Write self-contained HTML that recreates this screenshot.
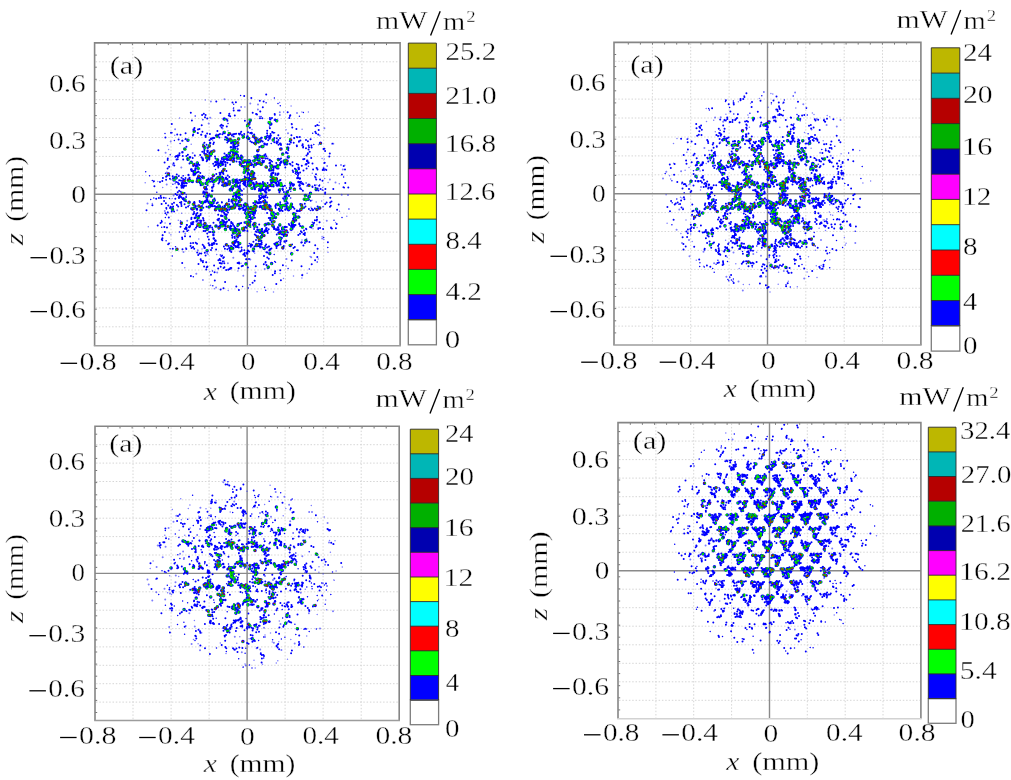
<!DOCTYPE html><html><head><meta charset="utf-8"><title>fig</title><style>html,body{margin:0;padding:0;background:#fff}body{width:1011px;height:780px;overflow:hidden}svg{display:block;will-change:transform}text{font-family:"Liberation Serif",serif;fill:#000;stroke:#fff;stroke-width:0.38px}</style></head><body>
<svg width="1011" height="780" viewBox="0 0 1011 780">
<rect width="1011" height="780" fill="#fff"/>
<path d="M132.8 43.9V344.7M171 43.9V344.7M209.2 43.9V344.7M285.5 43.9V344.7M323.7 43.9V344.7M361.9 43.9V344.7M95.6 326.8H399.1M95.6 307.9H399.1M95.6 288.9H399.1M95.6 270H399.1M95.6 251.1H399.1M95.6 232.1H399.1M95.6 213.2H399.1M95.6 175.4H399.1M95.6 156.4H399.1M95.6 137.5H399.1M95.6 118.6H399.1M95.6 99.7H399.1M95.6 80.7H399.1M95.6 61.8H399.1" stroke="#d6d6d6" stroke-width="1" stroke-dasharray="1.5 1.8" fill="none"/>
<path d="M247.4 42.9V345.7M94.6 194.3H400.1" stroke="#8a8a8a" stroke-width="1.4" fill="none"/>
<path d="M94.6 55.1h2.2M108.2 42.9v2.2M94.6 67.2h2.2M120.3 42.9v2.2M94.6 79.3h2.2M132.4 42.9v2.2M94.6 91.4h2.2M144.5 42.9v2.2M94.6 103.5h2.2M156.6 42.9v2.2M94.6 115.6h2.2M168.7 42.9v2.2M94.6 127.7h2.2M180.8 42.9v2.2M94.6 139.8h2.2M192.9 42.9v2.2M94.6 151.9h2.2M205 42.9v2.2M94.6 164h2.2M217.1 42.9v2.2M94.6 176.1h2.2M229.2 42.9v2.2M94.6 188.2h2.2M241.3 42.9v2.2M94.6 200.3h2.2M253.4 42.9v2.2M94.6 212.4h2.2M265.5 42.9v2.2M94.6 224.5h2.2M277.6 42.9v2.2M94.6 236.6h2.2M289.7 42.9v2.2M94.6 248.7h2.2M301.8 42.9v2.2M94.6 260.8h2.2M313.9 42.9v2.2M94.6 272.9h2.2M326 42.9v2.2M94.6 285h2.2M338.1 42.9v2.2M94.6 297.1h2.2M350.2 42.9v2.2M94.6 309.2h2.2M362.3 42.9v2.2M94.6 321.3h2.2M374.4 42.9v2.2M94.6 333.4h2.2M386.5 42.9v2.2" stroke="#777" stroke-width="1" fill="none"/>
<path d="M652.4 43.4V344M690.7 43.4V344M729.1 43.4V344M805.8 43.4V344M844.2 43.4V344M882.5 43.4V344M615 326.1H919.9M615 307.2H919.9M615 288.3H919.9M615 269.4H919.9M615 250.4H919.9M615 231.5H919.9M615 212.6H919.9M615 174.8H919.9M615 155.9H919.9M615 137H919.9M615 118H919.9M615 99.1H919.9M615 80.2H919.9M615 61.3H919.9" stroke="#d6d6d6" stroke-width="1" stroke-dasharray="1.5 1.8" fill="none"/>
<path d="M767.5 42.4V345M614 193.7H920.9" stroke="#8a8a8a" stroke-width="1.4" fill="none"/>
<path d="M614 54.5h2.2M628.3 42.4v2.2M614 66.6h2.2M640.4 42.4v2.2M614 78.7h2.2M652.5 42.4v2.2M614 90.8h2.2M664.6 42.4v2.2M614 102.9h2.2M676.7 42.4v2.2M614 115h2.2M688.8 42.4v2.2M614 127.1h2.2M700.9 42.4v2.2M614 139.2h2.2M713 42.4v2.2M614 151.3h2.2M725.1 42.4v2.2M614 163.4h2.2M737.2 42.4v2.2M614 175.5h2.2M749.3 42.4v2.2M614 187.6h2.2M761.4 42.4v2.2M614 199.8h2.2M773.5 42.4v2.2M614 211.8h2.2M785.6 42.4v2.2M614 223.9h2.2M797.7 42.4v2.2M614 236h2.2M809.8 42.4v2.2M614 248.1h2.2M821.9 42.4v2.2M614 260.2h2.2M834 42.4v2.2M614 272.3h2.2M846.1 42.4v2.2M614 284.4h2.2M858.2 42.4v2.2M614 296.5h2.2M870.3 42.4v2.2M614 308.6h2.2M882.4 42.4v2.2M614 320.8h2.2M894.5 42.4v2.2M614 332.9h2.2M906.6 42.4v2.2" stroke="#777" stroke-width="1" fill="none"/>
<path d="M133 427.3V719.5M171.1 427.3V719.5M209.1 427.3V719.5M285.1 427.3V719.5M323.1 427.3V719.5M361.2 427.3V719.5M96 702.1H398.2M96 683.7H398.2M96 665.3H398.2M96 646.9H398.2M96 628.6H398.2M96 610.2H398.2M96 591.8H398.2M96 555H398.2M96 536.6H398.2M96 518.2H398.2M96 499.8H398.2M96 481.5H398.2M96 463.1H398.2M96 444.7H398.2" stroke="#d6d6d6" stroke-width="1" stroke-dasharray="1.5 1.8" fill="none"/>
<path d="M247.1 426.3V720.5M95 573.4H399.2" stroke="#8a8a8a" stroke-width="1.4" fill="none"/>
<path d="M95 434.2h2.2M107.9 426.3v2.2M95 446.3h2.2M120 426.3v2.2M95 458.4h2.2M132.1 426.3v2.2M95 470.5h2.2M144.2 426.3v2.2M95 482.6h2.2M156.3 426.3v2.2M95 494.8h2.2M168.4 426.3v2.2M95 506.8h2.2M180.6 426.3v2.2M95 518.9h2.2M192.7 426.3v2.2M95 531h2.2M204.8 426.3v2.2M95 543.1h2.2M216.8 426.3v2.2M95 555.2h2.2M228.9 426.3v2.2M95 567.4h2.2M241 426.3v2.2M95 579.4h2.2M253.2 426.3v2.2M95 591.5h2.2M265.2 426.3v2.2M95 603.6h2.2M277.4 426.3v2.2M95 615.8h2.2M289.4 426.3v2.2M95 627.9h2.2M301.6 426.3v2.2M95 639.9h2.2M313.6 426.3v2.2M95 652h2.2M325.8 426.3v2.2M95 664.1h2.2M337.9 426.3v2.2M95 676.2h2.2M349.9 426.3v2.2M95 688.4h2.2M362.1 426.3v2.2M95 700.4h2.2M374.1 426.3v2.2M95 712.5h2.2M386.2 426.3v2.2" stroke="#777" stroke-width="1" fill="none"/>
<path d="M655.9 423.6V717.8M693.7 423.6V717.8M731.6 423.6V717.8M807.3 423.6V717.8M845.2 423.6V717.8M883 423.6V717.8M619 700.3H919.9M619 681.8H919.9M619 663.3H919.9M619 644.8H919.9M619 626.2H919.9M619 607.7H919.9M619 589.2H919.9M619 552.2H919.9M619 533.7H919.9M619 515.2H919.9M619 496.7H919.9M619 478.1H919.9M619 459.6H919.9M619 441.1H919.9" stroke="#d6d6d6" stroke-width="1" stroke-dasharray="1.5 1.8" fill="none"/>
<path d="M769.5 422.6V718.8M618 570.7H920.9" stroke="#8a8a8a" stroke-width="1.4" fill="none"/>
<path d="M618 431.6h2.2M630.3 422.6v2.2M618 443.7h2.2M642.4 422.6v2.2M618 455.8h2.2M654.5 422.6v2.2M618 467.9h2.2M666.6 422.6v2.2M618 480h2.2M678.7 422.6v2.2M618 492.1h2.2M690.8 422.6v2.2M618 504.2h2.2M702.9 422.6v2.2M618 516.2h2.2M715 422.6v2.2M618 528.4h2.2M727.1 422.6v2.2M618 540.5h2.2M739.2 422.6v2.2M618 552.6h2.2M751.3 422.6v2.2M618 564.7h2.2M763.4 422.6v2.2M618 576.8h2.2M775.5 422.6v2.2M618 588.9h2.2M787.6 422.6v2.2M618 601h2.2M799.7 422.6v2.2M618 613.1h2.2M811.8 422.6v2.2M618 625.2h2.2M823.9 422.6v2.2M618 637.2h2.2M836 422.6v2.2M618 649.4h2.2M848.1 422.6v2.2M618 661.5h2.2M860.2 422.6v2.2M618 673.6h2.2M872.3 422.6v2.2M618 685.7h2.2M884.4 422.6v2.2M618 697.8h2.2M896.5 422.6v2.2M618 709.9h2.2M908.6 422.6v2.2" stroke="#777" stroke-width="1" fill="none"/>
<path d="M162.7 187.4h0M152.3 203.5h0M312.3 173.3h0M308.4 112h0M339.5 211.3h0M145.2 182.7h0M216.7 254.6h0M237.9 270.9h0M290.2 138.5h0M157.8 181.6h0M228.2 290.4h0M293.5 275.9h0M254.7 253.2h0M302 240h0M179.6 118h0M198.8 238.9h0M307.1 273.3h0M228 130.8h0M202 249h0M316.2 202h0M225.1 133.6h0M216.4 134.3h0M316.8 185.1h0M205.3 100h0M167.6 145.5h0M316.9 224.8h0M167.8 212.1h0M241 263.2h0M335.6 222.6h0M172.2 198.5h0M244.9 107h0M317.1 168.2h0M168.6 149.4h0M305 164.7h0M302.1 129.2h0M191.2 144.2h0M322.7 187.4h0M184.8 267.7h0M257.1 291.8h0M247.5 125.9h0M209.8 271.6h0M324.7 178.4h0M273.5 292.1h0M208.1 254.4h0M310.1 256.5h0M283.6 112.1h0M170.9 234.7h0M178.5 175.5h0M328.1 182.4h0M252 129.5h0M346.8 216.2h0M259.4 116.5h0M344.8 165.2h0M212.6 140.5h0M323.9 239.6h0M328 252.2h0M301.9 112.1h0M210.6 285.2h0M178.3 220.3h0M291.1 105.9h0M306.6 238.4h0M181.6 213.3h0M301.9 278h0M339.3 183.7h0M169.3 233h0M279.6 102.4h0M286.1 129.7h0M286.1 265.9h0M283.5 278.6h0M319.4 122.3h0M280.1 273.6h0M165.1 223.1h0M260 111.2h0M313 228.7h0M285.6 243h0M185.1 139.4h0M322.1 158.5h0M318.2 258.9h0M311 207.3h0M318.5 144.8h0M233.3 108.7h0M324.3 158.9h0M214.3 288.8h0M312 200.2h0M182.6 176h0M322.1 236.4h0M321.6 201.1h0M170.8 179.5h0M148.3 226.7h0M323.3 190.6h0M153.4 182h0M174.7 135.3h0" stroke="#1010ff" stroke-width="1.5" stroke-linecap="round" stroke-opacity="0.55"/>
<path d="M348.9 208.9h0M208.7 123.5h0M326.8 220.7h0M227.9 263.2h0M332 143.8h0M207.2 253.3h0M250.3 259.4h0M179.1 175.8h0M165.6 152.7h0M222.5 128.4h0M196.3 273.8h0M243.3 275.8h0M319.7 135.5h0M342.8 169.6h0M216.1 287.4h0M297 113.1h0M333.3 143.8h0M250.3 103.5h0M233.3 257.8h0M258 104.4h0M175.1 183.5h0M335.5 182.5h0M147.5 203.5h0M185.9 248h0M279.8 112.2h0M197.8 250.2h0M302.4 274.7h0M224.5 99.3h0M177.2 210.3h0M185.2 233.8h0M187.2 220.8h0M181.3 167.6h0M183.5 251.9h0M202.9 280h0M175.1 129.2h0M257.9 109.5h0M301.2 242.5h0M341.7 194.7h0M164.8 211h0M170.9 206.9h0M288 133.2h0M210.9 101.4h0M166.8 172.5h0M173.6 195.5h0M264.7 269.1h0M170.7 141.6h0M207.2 266.6h0M255.5 272.6h0M210.3 117.7h0M329.9 179.5h0M286.5 258.9h0M192.7 153h0M311.2 257.2h0M324.4 128.3h0M166.7 184.4h0M217.2 272.4h0M322.2 238.6h0M172.8 164.7h0" stroke="#1010ff" stroke-width="2" stroke-linecap="round" stroke-opacity="0.55"/>
<path d="M303.4 146.3h0M332.6 143.5h0M295.3 173.5h0M153.8 198.1h0M218.3 165.1h0M222.6 206.4h0M235.1 193h0M224 261.3h0M247.5 252h0M266.7 207.1h0M275.5 262.3h0M249.3 243.4h0M334 220.3h0M253.2 214.5h0M280.3 105.8h0M250 284.7h0M243.9 188.9h0M193.3 276.7h0M208.1 146.9h0M237.1 179h0M240.6 95.6h0M239.6 194.9h0M278.8 231.1h0M172 132.7h0M290.8 191.2h0M170.1 248.8h0M264.7 226h0M255.9 114h0M290.7 197.9h0M201 203.2h0M172.9 184.2h0M269.9 249.2h0M256 226h0M255.6 159.4h0M195.2 115.9h0M312.7 133.2h0M252.5 160.5h0M299.4 116.2h0M188.6 174.6h0M342 217.4h0M178.7 176.3h0M169.5 198.6h0M295.8 216.1h0M288.1 268.4h0M258.9 199.4h0M301.6 189.4h0M280.5 179.8h0M241.8 249.6h0M166.5 209h0M179.5 232h0M166.1 240.7h0M280.8 205.4h0M272.4 161.8h0M296.6 250.3h0M161.5 220.4h0M233.7 104.3h0M233.8 134.2h0M179.7 202.5h0M165.9 198h0M197.9 133.3h0M227.4 181.1h0M145.7 171.7h0M324.1 170.6h0M186.3 194.8h0M312.2 210.5h0M327.8 247.5h0M312.3 222.3h0M241.1 106.9h0M165 133.5h0M202.9 119.7h0M190.6 222.9h0M170.2 154.8h0M265.7 290.3h0M267.7 137.2h0M183.4 175.7h0M175.5 246.8h0M343.6 176.9h0M323.7 237.6h0M264.6 287.3h0M233.3 157.9h0M271.1 207.1h0M278.3 241.6h0M212.5 270.9h0M274.7 261.5h0M318 207h0M266 223.2h0M150.7 199.4h0M302 242.2h0M172.3 256.1h0M212.8 285.8h0M215.4 169.5h0M323 206.8h0M274.2 254.5h0M194 130h0M269.5 127.1h0M231 134.3h0M206.2 230.4h0M341 165.1h0M189.1 205.2h0M220.5 180.9h0M296.3 174.2h0M248.3 288.1h0M188.6 230.2h0M254.2 207.4h0M327.1 166.1h0M303.4 112.5h0M233.6 108.1h0M243.8 227.7h0M279.9 114.9h0M274.4 98.1h0M242.6 286.6h0M264.9 230.9h0M274.6 132.7h0M309.3 269.1h0M180.1 143.5h0M221.8 202h0M307 186.1h0M310.3 210.6h0M166.6 214.8h0M231.3 200.1h0M308.5 166.3h0M266.1 102.7h0M156.8 192.2h0M180.5 220.9h0M319.6 184.9h0M286.4 240.8h0M165.5 173.3h0M344.3 187.8h0M269.9 119.5h0M322.3 190.1h0M278 103.5h0M318.9 125.4h0M317.2 261.9h0M286.4 187.9h0M348 195h0M271.2 143.6h0M313.8 144.5h0M285.3 193.5h0M314.9 176.5h0M152.3 180.4h0M269.4 249.4h0M262.1 228.6h0M161.7 227.2h0M149.6 175.7h0M249.9 165.2h0M174.4 140.6h0M258.9 185.4h0M258.5 243.4h0M207.1 227.3h0M165.4 217.4h0M306.1 183.1h0M261 116.5h0M228 123.6h0M220.3 255.1h0M266.2 189.1h0M318.2 229.3h0M206.7 195.4h0M325.7 169.3h0" stroke="#0000ff" stroke-width="1.5" stroke-linecap="round"/>
<path d="M182.2 140.7h0M248.9 220.1h0M182.3 239h0M210.8 151.6h0M266.9 166.8h0M222.2 209.9h0M294.4 208.7h0M293.3 207.2h0M266.9 188.7h0M265.4 189.1h0M205 228.2h0M203.3 226.8h0M210.4 225.8h0M209 226h0M177.9 182.6h0M176.1 182h0M345.3 183h0M191.9 120.4h0M272.5 182.4h0M240.3 235.5h0M250.2 215.5h0M256.4 246.3h0M258.9 190.7h0M259.1 190.7h0M252.3 179.8h0M251.2 181.2h0M229.9 250.7h0M231.3 252h0M226 229.7h0M239.7 193.9h0M177 195h0M213.4 186.2h0M213.6 184.5h0M260.3 199.1h0M261.2 198.1h0M266.1 244.5h0M265.2 245.9h0M327.9 242.3h0M271.6 183.6h0M234.2 226.2h0M233 224.7h0M164.1 200.9h0M271.2 168.6h0M210 202.3h0M259.2 189.5h0M260.8 191.1h0M203.9 246.3h0M187 225h0M292.5 165.7h0M218.1 165.9h0M324.4 148.7h0M323.5 149h0M276.7 141.4h0M277.2 142.7h0M220.4 125.8h0M276.5 247.9h0M265.5 137.1h0M278.4 139.9h0M280 138.2h0M175.4 156.7h0M317.3 257.1h0M263.8 264.2h0M265.5 262.5h0M186 201.2h0M239.3 235.7h0M213.5 222.7h0M272.2 131.9h0M273.3 132.7h0M253.3 203h0M181.3 202.1h0M294.9 168.8h0M295.9 169.5h0M329.3 156.5h0M263.6 101.4h0M240.4 133.6h0M200 220.6h0M201.3 220.7h0M238.1 242.8h0M242 134.9h0M246.1 177.8h0M197.2 252.4h0M306 139.9h0M236.8 241.6h0M235.4 240.8h0M294.2 138.3h0M256.7 140.7h0M222.8 261.6h0M180.8 202.4h0M282.9 265.3h0M174.1 211.6h0M292.4 225.8h0M291.5 227.3h0M191.3 219.1h0M222 158h0M221.8 159h0M286.7 201.5h0M243.4 209.6h0M197 226.2h0M227.7 175.6h0M229.3 177h0M245.2 205.3h0M179.6 195.3h0M236 247.1h0M246.7 252.9h0M314.2 252.9h0M220.7 226.5h0M289.9 115.9h0M290.3 115.3h0M167.8 158.4h0M167.7 160h0M292.3 127.5h0M261.8 137.8h0M218.1 220.2h0M273.7 168h0M174.3 165.6h0M267.2 231.6h0M267.8 233.1h0M228.1 184h0M193.4 174.7h0M265.1 203.3h0M293.5 247.9h0M294.8 246.9h0M260 118.2h0M193.9 175.2h0M195.2 174.5h0M237.6 262.9h0M239.2 263.5h0M175.3 198.7h0M196.2 166h0M197.5 166.3h0M241.2 164.1h0M225.4 136.9h0M226.8 137.5h0M265.4 154.3h0M233.8 243h0M235.3 242.7h0M235.2 179.8h0M236.5 179.8h0M208.9 239.6h0M280.2 202.2h0M244.7 230.5h0M264.8 196.5h0M265.9 195.3h0M210.6 232.1h0M209.1 231.9h0M190.7 243.3h0M206.2 262.2h0M253.7 143.1h0M247.9 267.5h0M302.7 144.3h0M261.2 163.5h0M336.7 224h0M206.7 267.2h0M207.4 266.7h0M158.9 197.9h0M251.5 163.3h0M252.9 164.7h0M227 159h0M197 209.7h0M212.1 227.6h0M212.7 229.2h0M304.4 159h0M303.2 159.2h0M211.1 206.2h0M300.1 172.5h0M277.5 185.5h0M270.5 166.3h0M270.7 166.9h0M254.2 185.5h0M191.5 209.3h0M244.3 169.3h0M192.7 157.9h0M174 202.8h0M289.3 118h0M223.6 186.2h0M223 185.1h0M243.3 210.1h0M247.8 174.5h0M247.8 174.6h0M233 183.1h0M271.5 174.7h0M232.6 223.3h0M228.7 245.9h0M227.5 245.5h0M269.2 136.9h0M223.6 210.6h0M259.8 198.2h0M259.5 197.6h0M194.5 127.9h0M287.9 232.5h0M213.3 180.5h0M212.8 181.5h0M190.1 236.4h0M254.9 209.2h0M266.6 265.2h0M266.4 265.1h0M203.2 144.5h0M238.7 194.6h0M277.8 230h0M223.2 220.5h0M223.1 221.5h0M255 159.7h0M278.3 135.2h0M244.4 169.2h0M300.7 205.6h0M182.1 237.6h0M323.6 168.6h0M323.9 169.3h0M247.6 170h0M254.6 280.8h0M257.7 160.3h0M258.8 160.8h0M229.1 154.1h0M270 124.7h0M269.7 123.6h0M156.2 198.8h0M267.3 257.5h0M197.3 212.9h0M234.6 151.4h0M234.1 153h0M325.4 189.1h0M267.3 186.6h0M266.3 188.1h0M218.1 166.2h0M218.3 167.6h0M219.5 172.8h0M276.3 162.9h0M194.8 155.5h0M266.3 156.3h0M161.6 204h0M284.9 206.5h0M285.1 205.4h0M250.2 133h0M196 227.7h0M194.6 229.4h0M284.8 234.1h0M222.7 164.3h0M221.7 162.8h0M221.6 127.6h0M205.4 182.9h0M240.2 251.4h0M213.1 137.8h0M225.4 205.5h0M204.1 152h0M204.2 153.5h0M304.8 203.8h0M213.8 242.9h0M212.1 243.6h0M292.5 227.4h0M292.2 226.6h0M311.7 264.3h0M176.9 205.1h0M178.2 206.4h0M206.3 269.4h0M303.1 147.4h0M241.8 160h0M275.5 213.8h0M315.1 260.3h0M235.1 227.7h0M257 114.6h0M331.1 227.9h0M269.4 163.3h0M157.7 225.4h0M183.3 198.7h0M271.6 213.5h0M271.3 215.1h0M345 169.4h0M280.8 144.3h0M262.8 107.3h0M245.2 181.7h0M245.3 183.1h0M301.8 165.8h0M244.7 176.4h0M252.7 112.8h0M268.5 267.6h0M324.3 163.1h0M269.9 224.2h0M275.3 119.6h0M200.5 215.1h0M173.1 206.4h0M237.2 180.7h0M305.5 206.5h0M185.6 133.3h0M200.7 213.9h0M262.9 157.2h0M260.4 141.8h0M258.1 202.4h0M249.8 183.3h0M251.5 184.6h0M256.1 246.3h0M254.5 246.5h0M219.4 180.5h0M271 169.3h0M271.4 170.4h0M271.4 248.5h0M295.8 213.4h0M294.9 214.8h0M257.1 227.3h0M255.8 266.2h0M262 197.1h0M311.6 147.5h0M333.3 189.1h0M244.3 253.7h0M243.3 254.5h0M236.8 194.4h0M235.3 195h0M301 181.7h0M299.4 181.9h0M271.1 181.5h0M194.2 248.7h0M236.2 246.4h0M251.2 163.7h0M250.2 164.8h0M194.1 212h0M267.3 197.6h0M251.6 213.2h0M256.8 141.9h0M235.9 183.3h0M306 148.3h0M245.1 256.1h0M215.5 208.7h0M235.5 146.7h0M234.1 148.2h0M179.5 153.2h0M202.1 115.1h0M203.8 113.7h0M251 244.2h0M251.7 245.4h0M162.4 238.3h0M223.2 258.1h0M231.4 201.4h0M234.3 228.3h0M254.1 228.9h0M247.4 231h0M314.1 222.8h0M247.7 184.5h0M247.9 185.2h0M198 129.6h0M276.7 185.6h0M277.9 185.8h0M292.1 244.6h0M280.4 180.1h0M279.6 180.4h0M257 158.1h0M235.9 102.3h0M205.7 136.9h0M205.4 135.8h0M242.5 165.8h0M272 117.9h0M236.3 286.5h0M265.6 209.5h0M256.9 139.1h0M222 164.6h0M223 164.5h0M215.1 240.6h0M283.1 186.4h0M282.3 185.8h0M259.2 224.6h0M201.1 182.5h0M218.7 134.7h0M220 134.1h0M212.4 178.2h0M186.4 156.1h0M233.6 136.4h0M295.5 225h0M224.3 263.2h0M215 156.6h0M195.7 242.7h0M197 243.7h0M331.5 201.5h0M330.2 202.4h0M306.5 155.4h0M307.8 153.9h0M190.8 112.7h0M272.7 275h0M264.5 231.9h0M271.4 170.4h0M270.7 169.3h0M280.8 241h0M305 233h0M244.7 253h0M237.6 203.6h0M238.5 204.2h0M283.1 247.5h0M283 248.4h0M169.1 166.8h0M225.4 182.7h0M226.2 183.7h0M282.6 211.1h0M295.7 215.9h0M221.2 209.4h0M219.6 210.4h0M255 210.8h0M255.1 212.3h0M204.4 142.7h0M276.2 245h0M275.1 243.7h0M231.2 222.9h0M231.2 221.9h0M274.8 114.8h0M274.7 114.1h0M236.2 228.8h0M164.8 232.1h0M206 187h0M205 202.1h0M169.9 178.7h0M191.5 248.1h0M221.9 202.5h0M299.3 224.2h0M300.2 225.9h0M203.8 196.2h0M252.8 250.8h0M237.2 146.4h0M195.8 206.5h0M195.9 205.9h0M278.5 144.7h0M300.3 204.3h0M300.3 204.1h0M238.7 188.5h0M231.7 249.5h0M239.6 209.5h0M207.5 151.9h0M251.3 173.3h0M292.2 206.8h0M220.3 165.7h0M219.2 164.3h0M311.3 227.6h0M249.9 127.8h0M249.7 127.7h0M325.1 193.7h0M241.6 250.8h0M283.8 236.2h0M283 234.7h0M199.9 202.1h0M199.6 201.1h0M314.9 220.3h0M209.9 134.1h0M186.3 229h0M277.8 142.1h0M276.5 142.6h0M256.9 232.1h0M166.1 179.8h0M186.3 249h0M152.4 205.2h0M231.9 150.4h0M285.5 162.9h0M285 164.2h0M315.2 245.2h0M254.9 217.8h0M290.5 164.4h0M290 163.9h0M234.7 134.1h0M182.5 249.3h0M211 250h0M312.5 163.6h0M255.1 143.9h0M256.5 142.1h0M243.1 183.5h0M260.5 233h0M229.3 113.8h0M201.3 253.5h0M167.6 168.4h0M225.5 166h0M250.4 226.9h0M225.4 226.5h0M254.1 136.3h0M224.7 222.2h0M280.2 204.2h0M185.5 178h0M255.9 210.8h0M255 209.3h0M300.9 231.2h0M301.8 232.3h0M239.2 180.1h0M170 208.1h0M170.6 206.8h0M178.1 155.2h0M179.4 155.2h0M250.3 180.6h0M182.2 262.9h0M183.8 198.3h0M158.4 150.3h0M204.1 266.5h0M177.7 192.3h0M286 203.9h0M260.9 197.8h0M294.1 138.1h0M222.1 220h0M213.3 199.9h0M254.3 156.9h0M254.2 156.5h0M219.7 263.1h0M220.7 263.3h0M267.1 133.3h0M205.6 115h0M239.1 208.6h0M202 206h0M203.3 207.8h0M255 143.4h0M293.8 184.4h0M293.2 185.6h0M261.1 236.1h0M209.2 194.2h0M226.2 270h0M299.6 217.2h0M181.5 206.1h0M320.1 179.6h0M311.2 157.9h0M222 185.3h0M262.6 189.6h0M263.5 190.1h0M249.5 183.8h0M256.3 181.9h0M161.8 221.7h0M220.6 165.9h0M244.9 179.5h0M259.1 246h0M257.9 246.2h0M276.3 284h0M266.9 144.7h0M266.6 144.2h0M266 229.4h0M173.6 163.2h0M315.5 126.1h0M201.1 260.7h0M200.7 259.2h0M261.4 244.3h0M207 155.9h0M208.1 155.3h0M181.3 203.9h0M190.9 276.1h0M227.5 178.9h0M164.3 227h0M200.2 155h0M256.1 158.4h0M251.9 142.2h0M250.3 141.2h0M191.5 217.8h0M254.2 134.4h0M175.5 194.1h0M325.1 150.9h0M199.4 178.6h0M197.9 177.6h0M292.5 162.3h0M259.1 196h0M199.4 129h0M209.6 206.5h0M256 240h0M185.7 139.1h0M183.1 178.9h0M181.5 177.8h0M298.9 141.8h0M313.6 223.4h0M230 227h0M260.6 246.6h0M260.1 247.6h0M234.8 115.5h0M276.8 234.4h0M331.9 228.5h0M331 227.6h0M263.8 161.9h0M262.8 162h0M251.2 165.3h0M267.2 130.8h0M233.2 229.6h0M315.9 190.2h0M187.7 160h0M214.8 280.5h0M216.3 174.1h0M236.9 185h0M235.9 186.8h0M297.2 178.2h0M175.8 178.5h0M238.1 191.3h0M217.4 131h0M202.9 262.3h0M210.5 155.6h0M211 155.7h0M243.6 204.7h0M214.3 166.1h0M223.1 173.4h0M223.4 173.9h0M323.6 168.3h0M270.5 205.9h0M213.2 163.7h0M199.4 164.9h0M299 141.3h0M300.4 140.6h0M278.6 182.2h0M278.6 183.4h0M238.6 244.1h0M318.2 134.6h0M242.1 194.8h0M261.4 140.6h0M262.7 141.4h0M222.2 176.7h0M261.7 231.1h0M261 232.3h0M198.9 205.9h0M252.4 208.5h0M309.4 242h0M198.6 171.8h0M200.3 172.9h0M298.3 164.8h0M296.7 164.1h0M310.6 139.3h0M255.9 140.1h0M255.3 141h0M232 235.3h0M212.7 138.6h0M214.3 137.9h0M271.2 161.1h0M316.1 133.2h0M253.8 135.8h0M203.5 191.6h0M239.6 232h0M192.9 224.2h0M162.3 180.9h0M235.5 148.8h0M227.4 120.8h0M226.6 119.3h0M290.9 142.5h0M289.5 144.3h0M254.3 184.8h0M182.7 182.7h0M193.2 134.6h0M192.9 135.4h0M250.7 221.6h0M230.6 188.6h0M184.6 192.9h0M272.7 214.1h0M289.7 141.3h0M274.6 120.1h0M234 145.6h0M234.3 144.7h0M181.4 197.5h0M244.2 133.9h0M203.7 220.4h0M214.6 272.2h0M231.3 268.1h0M229.7 268.9h0M244.3 250.2h0M246.2 186.6h0M227.4 162.8h0M217.7 163.2h0M236.6 239.5h0M234.8 237.9h0M244.7 212.9h0M293.2 171.9h0M292.7 170.4h0M191.2 224.3h0M191.8 223.6h0M182.8 198.8h0M233.7 110.6h0M237.6 236.7h0M255.5 245.9h0M202.4 131.7h0M188.3 175h0M206.5 189.1h0M213.9 142.5h0M315.5 177.5h0M239 262.5h0M239.9 223.5h0M178.6 139.6h0M235.6 201.7h0M251.9 208.7h0M237.7 192.8h0M304 230.5h0M282.7 228.7h0M282 229.5h0M236.9 203.9h0M238.4 205.3h0M301.5 266.3h0M215.8 135.6h0M191 169.5h0M266.9 202.2h0M265.3 200.5h0M325.2 192.6h0M207.5 201h0M206.1 201.6h0M288.3 150.3h0M288.2 149.8h0M214.4 198.4h0M283.8 246.1h0M239.9 185.2h0M181.8 183.1h0M204.1 227.6h0M212.8 206.3h0M314.9 185.3h0M229.2 204.3h0M255.5 142.5h0M228.2 141.2h0M227.3 142.6h0M245.3 211.2h0M245.8 210h0M216.4 162.3h0M215.3 161.7h0M238.9 289.9h0M226.6 215.1h0M160 182h0M316.2 179.6h0M219 163.3h0M194 213.4h0M180.8 180.5h0M186.8 183.3h0M185.2 182.2h0M206.1 184h0M207.6 185.2h0M219.4 164.9h0M220.7 163.2h0M233.3 143.9h0M191.6 170.9h0M259 159.7h0M258.8 159.1h0M276.1 214.1h0M222 211.8h0M220.5 210.6h0M201.5 157.3h0M243.5 180.1h0M192.9 223h0M193.4 221.9h0M228 212.5h0M241.2 223.1h0M264 256h0M281.4 206.3h0M224.9 248.7h0M172.8 176.2h0M189.5 163.4h0M259.3 147h0M224 212.6h0M224.2 213.6h0M166.1 176.8h0M228.3 269.6h0M234.7 236.7h0M258.8 149.5h0M228.3 269.8h0M269.6 207.5h0M224.4 267.3h0M223.6 268.1h0M180.6 196.4h0M167 227.4h0M216.1 178.8h0M301.5 242.4h0M255.2 276.1h0M186.2 183.1h0M192.7 171.2h0M231.9 135.6h0M233.1 134.2h0M182.5 140.8h0M330 206.8h0M330.8 205.7h0M307.4 199.5h0M259.2 202.7h0M259.3 203.1h0M240.1 182.7h0M264.7 196.6h0M263.6 197.9h0M241.5 247.4h0M214.1 265.6h0M212.6 204.3h0M211.8 204.8h0M287.7 153.3h0M310.7 200.8h0M279.6 159.8h0M281 158.6h0M281.2 209.7h0M279.9 210.9h0M315.3 131.8h0M252.6 282.7h0M248.7 179.3h0M250.1 178.9h0M329.8 153.5h0M296.8 145.6h0M296.9 146.3h0M218.6 220.2h0M217.5 219.7h0M232.5 102.4h0M187.9 154.8h0M218.5 177.3h0M218.2 268.5h0M165.4 137.6h0M263.4 196.2h0M310.1 227h0M183.4 187.7h0M182.8 186.6h0M294 226.7h0M292.3 226.9h0M260.3 111.5h0M223.9 161.6h0M336 165.6h0M251.3 98h0M226.7 155h0M226.8 156.5h0M230.5 182.6h0M185.6 228.2h0M227 221.4h0M250.8 211.8h0M250.2 213.4h0M225 139.5h0M298 211.1h0M186.4 146.7h0M204.4 201.5h0M276.5 121.1h0M251.5 218.3h0M189.4 179.3h0M189.5 177.8h0M195.4 217.4h0M296.8 137.1h0M312.5 187.1h0M312.4 186.4h0M289.9 189.1h0M226.2 211.3h0M265.7 158.6h0M265.3 158.6h0M280.2 270.3h0M300.1 183.1h0M154.4 186.3h0M267.3 135.5h0M225.1 282h0M232.5 150.9h0M247.7 172.6h0M197.1 178.3h0M274.3 142.2h0M252.4 214.3h0M253.9 215.7h0M266.4 252.3h0M267.3 252.5h0M269.9 128.2h0M297.1 217.3h0M296.4 216.9h0M299.3 223.6h0M207.2 233.6h0M237.5 181.7h0M235.9 180.9h0M209.6 140.3h0M235.9 205.8h0M303.5 170.6h0M232.6 237.1h0M232.4 237.7h0M220.3 206.4h0M220.4 112.9h0M217.7 163.2h0M219.4 163.6h0M206.6 144.8h0M202.8 203.8h0M203.5 202.8h0M302.2 275.3h0M193.6 130.6h0M308.5 149.5h0M262.3 247.4h0M193.2 214.2h0M209.3 159.4h0M283.1 198.2h0M283.4 198.8h0M207.8 236.7h0M249.7 121.7h0M250.1 121.9h0M206.8 227.2h0M207.3 227.1h0M235.4 203.7h0M302.9 190.7h0M169.1 173.5h0M225.5 159h0M237.8 149.1h0M260.3 183.4h0M222.2 161.7h0M205.2 231.1h0M317.6 206.5h0M304.9 243h0M221.2 172.5h0M280.9 280.2h0M184.8 228.7h0M260.5 138.8h0M262.4 163.5h0M341.9 174.4h0M193.1 243h0M247.6 225.6h0M188.1 206.4h0M249.1 177.6h0M219.2 182.3h0M262.5 160.6h0M264.1 161h0M234.5 194.6h0M302.3 145.4h0M243.1 179.2h0M283.8 160.8h0M182.8 156.1h0M246.1 259.3h0M246.4 259.3h0M223.9 246.5h0M252.2 179h0M311.4 145.5h0M297.5 137.2h0M224.1 179.9h0M256.7 207.1h0M187.2 231.1h0M213.3 144.1h0M228.9 199.4h0M223.6 159.7h0M248.1 246h0M199.3 227.1h0M200.5 227.1h0M196 217.5h0M236.8 230.9h0M249.8 122.5h0M248.6 124.1h0M251.3 132.7h0M253 136.8h0M267.2 143.9h0M185 236.2h0M245.9 161.3h0M247.2 160.4h0M160.7 196h0M235.2 228.8h0M286.4 241.1h0M222 161.6h0M222.7 163.3h0M207.4 229h0M238.6 268.2h0M224.1 221.2h0M246 227.3h0M245.4 227h0M190.6 245.9h0M232.2 190.4h0M256.7 163.6h0M315.6 187.7h0M201.1 134.8h0M201.3 134.8h0M210.8 178.5h0M212.3 180h0M220.6 289.4h0M318.4 190.6h0M215.5 158.6h0M284.1 229.4h0M283.2 228.1h0M284.9 185.8h0M199.5 253.4h0M198.2 255.1h0M225.5 164.5h0M218.6 226.7h0M330.3 197.8h0M276.7 143.3h0M277.4 175h0M201.7 177.3h0M286.4 240.8h0M236.7 196.6h0M237.6 196.4h0M254.9 208.5h0M253.3 208.8h0M243.5 229.2h0M164.6 162.4h0M231.4 187.5h0M232.3 207h0M182.3 185.6h0M260.7 189.7h0M259 189h0M303.3 184.3h0M257.3 227.2h0M264.8 199.9h0M275.8 208.1h0M275.4 206.4h0M201.7 125.3h0M248 132.3h0M219.7 226.1h0M256.4 113.9h0M161.2 197.8h0M249 259h0M197.5 219.7h0M197.9 220.5h0M205.6 200.8h0M177.2 134.6h0M230.4 267.9h0M231 268.4h0M207.9 148h0M176.1 177.3h0M175 176.9h0M198.1 163.7h0M223.9 257.2h0M262.1 156.3h0M317.6 248.8h0M236 205.5h0M235.7 206.4h0M282.9 189.9h0M241.9 190.8h0M240.2 189h0M337.1 209.8h0M278.4 184.8h0M276.8 185.7h0M181.5 186.9h0M181.6 187.8h0M236.1 133.8h0M252.7 224.8h0M226.8 126.5h0M234.7 144.6h0M307.1 161.2h0M228.8 201.3h0M318.7 130.1h0M220.9 209.8h0M167.1 175.7h0M198.2 171.6h0M308.6 145.5h0M285.3 167.4h0M317.7 188.6h0M286.8 227h0M277.7 181.3h0M259.8 100.8h0M343.7 166h0M292 224.5h0M253.7 176h0M291.8 124.2h0M171 132.7h0M195.8 206.8h0M244.3 180.2h0M244.5 180.1h0M194 204h0M195.1 205.6h0M224.7 183.6h0M236.1 196.2h0M205.7 135.8h0M239.4 161.8h0M221.4 256.3h0M222.1 255.4h0M309.1 147.3h0M210.1 204.7h0M268.2 140.2h0M163.8 197.7h0M262.3 118.2h0M260.3 205.8h0M171.7 211.5h0M311.8 208.8h0M247.6 174.7h0M216.7 207.3h0M215.2 206.2h0M176.4 155.9h0M177.9 157.1h0M235.2 180.6h0M197.5 172.3h0M320.1 228h0M270.5 119.4h0M274.9 273.3h0M244.9 120.8h0M176.5 159.5h0M177.7 159.2h0M179.2 180.3h0M307.9 141.2h0M281.9 238.1h0M172.1 204.1h0M240.6 189.7h0M207.2 118.5h0M300 233.8h0M298.3 235h0M238.6 197.4h0M239.7 197.4h0M193.7 170.9h0M219.1 218.7h0M218.5 219.1h0M247.8 161.2h0M324.7 162.8h0M259.5 232.6h0M183.2 159.4h0M267.8 268.3h0M274.8 244.4h0M274.3 243.8h0M193.4 129.5h0M193.6 129.8h0M170 223.8h0M308.9 209h0M238.1 110.6h0M165.4 213.3h0M276.8 138.3h0M316.6 168h0M256.4 157.9h0M167.8 174.9h0M169.4 175.5h0M186.1 196.9h0M222.4 134.3h0M239.6 134.5h0M238.8 133.7h0M307.9 153.3h0M236 179.9h0M227.5 185.3h0M167.8 212.6h0M239.6 110.4h0M268.8 258.8h0M161.8 239.2h0M181.2 197.2h0M162.7 235.2h0M162.6 235.3h0M287.5 144.3h0M262.9 182.1h0M237.5 141.9h0M237.3 142.4h0M166.3 208h0M261.2 137.8h0M279.8 191.1h0M279.4 192.4h0M197.7 133h0M232 200h0M256 235.6h0M254.8 234.6h0M246.8 207.4h0M246.3 208.2h0M182.3 180.9h0M271 183.1h0M272.4 182.2h0M199.9 176.2h0M265.8 139h0M281 144.9h0M299.6 185.8h0M257.3 158.1h0M250.6 245h0M202.7 244.8h0M221.4 164.4h0M160.6 223h0M296.4 129h0M203.6 231.1h0M291.7 124.1h0M266.1 230.2h0M265.8 231.1h0M208.5 178.6h0M267.4 230.9h0M190.1 226h0M268.7 229.3h0M267.4 230.7h0M267 247.4h0M247.4 162.4h0M255.8 231.4h0M208.5 243.3h0M233.5 229.9h0M233.2 230.9h0M267.6 183.1h0M269.3 250.4h0M211 274.7h0M234 245h0M262.3 236.6h0M304.2 207.8h0M227.3 120.3h0M306.6 168.6h0M244.7 255.1h0M319.2 185.8h0M243.9 205.3h0M261.3 232.7h0M291.4 135.3h0M260 201.9h0M259.1 200.1h0M229.2 209.7h0M230.9 208.4h0M319.6 222.3h0M276 229h0M299.8 137.1h0M216.8 244h0M188.6 175.3h0M250.7 181.5h0M270.5 205.9h0M270.8 219.9h0M270.1 219.9h0M168.3 205.4h0M181.2 185.5h0M243.9 182.7h0M205.6 255.5h0M278.8 229.4h0M278.7 229.3h0M269.9 117.9h0M230.1 164.6h0M213.8 203h0M320.6 188.9h0M258.8 241.2h0M179.2 190.8h0M180.8 191.8h0M207 158.6h0M207.3 159.4h0M290.3 163.9h0M289.9 163.8h0M238.5 205.9h0M238 205.7h0M219.4 137.4h0M193.1 246.9h0M171.8 124h0M251.9 176h0M261.6 244.3h0M172.8 248.8h0M290.4 185.4h0M292 183.7h0M291.8 260.6h0M259.1 232.2h0M196.3 213.9h0M204.8 252.7h0M192.8 223h0M192.2 222.3h0M309.7 151.8h0M226.8 214.6h0M267.1 213h0M238.8 198.1h0M238.2 197.1h0M270.9 135.7h0M241.7 166.2h0M246.8 137.8h0M289.4 225.1h0M250.3 245.4h0M204.4 150.2h0M287.7 112.2h0M186.6 229h0M260.9 202.4h0M304.8 234.9h0M317.3 125.1h0M231 245.9h0M231.8 246.6h0M215 206.6h0M214.5 206.1h0M206.5 206.8h0M200.2 179.2h0M273.1 172.7h0M232.2 157.3h0M162.9 178.1h0M190 179.4h0M294.3 222h0M274.3 138h0M253.7 166.4h0M253.8 167.1h0M210.6 151.7h0M180.5 226.7h0M260.4 189.1h0M317.5 169.5h0M228.8 115.4h0M230.2 116.3h0M270.7 209.6h0M271.5 211h0M253.5 223.5h0M204.4 149.1h0M183.8 186.3h0M247.7 182.5h0M242.9 265.8h0M231.9 200.2h0M232.1 200.9h0M218.5 183.6h0M281 162.1h0M293.7 142.7h0M165.9 203.2h0M306 228.8h0M306.3 229.3h0M267.6 158.4h0M228.2 159.2h0M316 174.2h0M294.3 226.1h0M269.3 136.3h0M146.5 210.3h0M186 185.7h0M202.3 151.7h0M283.9 192.1h0M261.9 184.2h0M264.7 191.2h0M316.9 216.9h0M292.7 228.7h0M291.6 227.3h0M222.7 215.9h0M268.8 218h0M212 248.1h0M221 210h0M275.6 173.6h0M275.4 174.7h0M193.6 170.9h0M195.3 170h0M233.5 159.3h0M153.9 181.2h0M204.9 192.2h0M203.1 193h0M238.4 145.2h0M253.2 213.6h0M275 166.2h0M221.8 263.4h0M252.2 245.1h0M250.8 246.8h0M234 241.6h0M325.2 203.9h0M203 261.1h0M267.1 187.2h0M280.3 240.8h0M297.8 250.3h0M203.3 218.7h0M203 217.9h0M280 148.8h0M326.6 202.5h0M322.5 180.8h0M174.1 177.9h0M173 178.2h0M249.2 251.4h0M262.1 229h0M215.1 162.3h0M233.3 188.2h0M232.7 189.2h0M279.5 184.7h0M258.4 236.5h0M258.7 236.8h0M184.5 183.6h0M232.7 203h0M266.2 94.4h0M269.5 206.4h0M262.1 189.9h0M262.5 189.3h0M216.8 207.1h0M335.9 228.2h0M216.1 249.6h0M253.4 241.8h0M207.2 160.3h0M206.7 161.2h0M277.6 229.5h0M276.1 229.9h0M280.5 244.5h0M221.5 124.8h0M223 125.8h0M207.1 133.4h0M241.7 266.3h0M162.3 240.2h0M278.4 232.8h0M278.9 209.8h0M262.8 182.4h0M161.1 198.1h0M254.6 138.5h0M282.7 234.4h0M281.6 234.2h0M223.6 157h0M247.3 180.3h0M247.5 178.8h0M205 117.3h0M248.6 164.3h0M278.6 245h0M244 182.4h0M243.9 183.9h0M241 208.4h0M181.9 222.5h0M233.4 141.4h0M234.8 140.6h0M218.2 214.8h0M252.4 218.8h0M316.8 220.5h0M317 219.4h0M220.4 260.2h0M270 137.6h0M322.7 170.1h0M220.1 173.2h0M275.1 271.3h0M348.3 187.6h0M244.2 96h0M215.6 164.9h0M176.8 174.4h0M303.4 245.6h0M219.7 259h0M218.4 260.3h0M216.3 101.4h0M253.8 251.4h0M183.6 231.4h0M277.6 245.5h0M210.9 181.7h0M338.7 204.5h0M186.8 224.9h0M217.8 202.5h0M216.7 203.3h0M305.6 195.3h0M305 196.2h0M271.4 215.3h0M272.6 216.5h0M224.5 153.5h0M313.1 169.6h0M248.1 166.3h0M238.3 242h0M239.9 243.2h0M198.5 264.1h0M194.3 201.9h0M294.3 220.3h0M293.4 219.9h0M180.5 134.8h0M246.4 227.8h0M244.7 162h0M223.5 288.3h0M226.2 178.9h0M226.1 177.4h0M184.6 204.2h0M281.5 210.3h0M314.8 208.5h0M313.1 209.9h0M223.3 178.9h0M218.7 228.7h0M229.1 248.1h0M227.4 249.2h0M293.8 217.6h0M293 218.7h0M226.4 170.9h0M231.4 226.2h0M230.7 225.5h0M222.8 178.1h0M306.7 241.6h0M186 207.4h0M168.1 244.2h0M169 243.4h0M288.8 224h0M323.1 228.9h0M212 245.2h0M220.7 266.8h0M343.5 187.2h0M202.4 176.1h0M318.4 228.3h0M275.4 205.6h0M276 204.2h0M237.5 247h0M238.8 247.5h0M198.2 181.9h0M303.5 234h0M261.7 242.6h0M268.4 246.7h0M269.2 246.6h0M288.4 190.5h0M207.4 195h0M179.2 196.6h0M178.9 197.7h0M326.3 170h0M168.8 217.5h0M253.7 212.8h0M265.6 262h0M269.9 190h0M271.2 174.3h0M236.5 161.4h0M280.3 242.7h0M270.5 249h0M269.7 250.4h0M176.7 187.4h0M297.9 175.7h0M298.4 174h0M241.2 131.7h0M227.3 160.1h0M228.9 159.9h0M270.6 134.1h0" stroke="#0000ff" stroke-width="2" stroke-linecap="round"/>
<path d="M249.9 220.6h0M279.5 183.9h0M198.5 181.6h0M285.4 209.4h0M221.8 209.1h0M286.8 191.9h0M272.6 181.8h0M251 207.1h0M241.2 155.8h0M238.2 245.6h0M239.2 195.6h0M195.9 172.7h0M197 209h0M273 167.1h0M204.6 247.8h0M259.2 184.1h0M254.9 204.7h0M184.1 186.1h0M266.6 186.5h0M243.8 136.6h0M245.2 179.4h0M226 222.6h0M287.5 203.2h0M245.1 209.7h0M210.1 143h0M244.7 222.6h0M244.1 205.3h0M254.8 189.1h0M206.9 195.4h0M236.5 199.8h0M227.3 183.8h0M191.4 208.4h0M264.7 201.7h0M273.4 186.3h0M205.1 194h0M251.1 173.7h0M264.4 155.4h0M286.9 206.2h0M259.6 162.2h0M284.8 196.5h0M227 159.5h0M254.3 184.5h0M284.6 161.8h0M273.2 184.9h0M302.2 183.5h0M213.4 235h0M269.4 136.5h0M280.4 231.7h0M216.3 164.4h0M239.5 198.3h0M229.7 155.9h0M247.2 253.5h0M194.3 202.9h0M292.9 185.2h0M220.1 174.6h0M206.8 180.3h0M284.2 234.9h0M212.2 190.8h0M252.9 208.4h0M267.9 187.8h0M199 215.9h0M264.8 144.2h0M257.9 203.1h0M219.8 178.9h0M254.1 186.8h0M294.2 225.2h0M251 211.8h0M235.4 181.8h0M232 200.5h0M256.7 156.5h0M200.9 185h0M306.2 164.2h0M215.5 240.7h0M202.9 160h0M231 208.2h0M213.8 238.5h0M200.6 222.2h0M217.6 161h0M205.8 187.4h0M261.1 240.7h0M205.3 201.9h0M237.5 225.9h0M211.1 154h0M239.6 187.1h0M286.9 207.3h0M239.3 208.8h0M207.6 150.8h0M209.1 158.2h0M243.7 229.6h0M233.2 152.2h0M237.6 186.5h0M225.3 224.8h0M284.8 164.3h0M297 210.7h0M223.4 222.7h0M240.7 180.5h0M258.6 202.8h0M214.7 200.3h0M196.1 165.9h0M248.6 224.6h0M262.2 234.7h0M208.6 195.6h0M263.2 186h0M238.1 191.6h0M251.1 184.5h0M244.8 179.5h0M243.7 162.6h0M264.8 230.8h0M182.4 152.3h0M224.7 206h0M259.7 244.3h0M211.9 151.5h0M225.7 178.3h0M265.1 202.1h0M298.6 167.7h0M292.8 224.3h0M273.2 170h0M230.2 228.5h0M234.7 229.3h0M178.7 184.1h0M260.2 156.2h0M212.3 244.4h0M297.8 177.7h0M300.3 188.4h0M218.1 163.5h0M226.9 183.5h0M247.9 250.8h0M280.2 143.8h0M222.6 178.2h0M254 209.6h0M265.1 197.1h0M269.7 160h0M239 233.6h0M249.3 220.2h0M273.6 212.5h0M288.9 195.7h0M194.4 171.1h0M183 198.7h0M237.7 237.3h0M220.9 225.2h0M206.6 189.2h0M257.4 154.9h0M250.4 208.8h0M231.3 142.9h0M235.5 246.2h0M298.8 169h0M226.5 155.3h0M253.3 183.1h0M225.3 214.5h0M220.8 161.6h0M233.5 145.4h0M191.5 169.4h0M236.1 154.1h0M265.8 189.6h0M242.8 207.8h0M195.6 168.6h0M249.6 216.8h0M238.5 182.7h0M263.4 201.3h0M286.2 152.5h0M264.5 143.7h0M229 220h0M225.3 162.2h0M229.3 181.6h0M186.2 227.6h0M227 209.7h0M259.7 238.9h0M280.4 163.1h0M227.1 210.4h0M221.2 215.8h0M234.1 154.9h0M298.5 182h0M248.3 173h0M207.8 180h0M307.2 160.8h0M260.5 162.6h0M193.4 165.7h0M211.1 138.7h0M278.2 173.8h0M293.6 184.8h0M233.7 205.3h0M273.9 227.2h0M223.9 159.5h0M298.1 173.3h0M255.4 165h0M183.1 183.3h0M250.1 175.8h0M283.9 160.8h0M236.6 183.3h0M212.2 187.6h0M280.4 231.5h0M278 227.5h0M237.4 229.9h0M230.9 147.3h0M257.5 229.7h0M256.9 163.4h0M270.7 168.6h0M207.7 155.9h0M285 227.1h0M248.9 160.4h0M232.2 187.4h0M231.1 206.8h0M251.6 133.3h0M207 199.7h0M217.2 136.1h0M286.3 197.2h0M270.1 163h0M209.6 227.2h0M235.6 241.3h0M235.4 143.4h0M219.6 210.6h0M274.1 228.7h0M200.5 210.3h0M276 182.9h0M234.1 242.2h0M273.2 172.7h0M291.3 226h0M244.2 184.2h0M225.8 185.4h0M236.3 197.2h0M205.2 189.2h0M259.8 207h0M249.1 163.8h0M233.4 147.1h0M195.8 173h0M299.6 185.3h0M280.9 239h0M247.8 214.3h0M223.7 158.9h0M190 157.3h0M194.8 218h0M266.1 192.5h0M299.7 210.8h0M198.7 175.8h0M257.3 157.5h0M222.7 164.6h0M243.1 230.6h0M276.7 184.7h0M209 180.1h0M189.3 227h0M248.1 163.8h0M233.9 244.6h0M244.7 206.3h0M240.2 180.1h0M278.3 168.2h0M259.8 232.5h0M249.4 180.5h0M268.7 207.1h0M269.5 138.5h0M213.9 201.3h0M228.4 156.9h0M240.7 158.9h0M196.3 215.6h0M266.4 228.2h0M247.5 136.6h0M260.8 202.2h0M182.1 184.1h0M233.2 196.6h0M244.9 185h0M209.5 152.9h0M262 188.6h0M248.1 181h0M281.2 161.7h0M299.8 178.4h0M262 185.3h0M265.3 191.5h0M284.6 241.6h0M270.2 218.1h0M219.5 209.8h0M234 160.8h0M254.6 213.4h0M196.6 221.2h0M214.3 243.5h0M263.1 206.9h0M260.8 244.2h0M282.5 189.1h0M267.2 187.4h0M279.9 184.2h0M275.7 167.1h0M269.2 205.3h0M261.8 229.6h0M279 208.9h0M264.6 183.8h0M201.5 210h0M233.9 158.3h0M282 205.3h0M282.4 228.7h0M251.1 218.5h0M239 229.7h0M234.5 146.9h0M202.6 158.4h0M243.5 162.1h0M209.5 245.1h0M281.1 237.9h0M222.7 178.6h0M228.3 134.9h0M276.5 246.1h0M279.7 164.9h0M179 197.4h0M197.5 164.4h0M308.4 162.7h0M309.8 196.7h0M268.8 190.3h0M271.7 173.4h0M240 162.5h0" stroke="#0000ff" stroke-width="2.5" stroke-linecap="round"/>
<path d="M207.3 229.2h0M308.8 185.2h0M263.9 235.4h0M290.6 140.1h0M233.6 149.5h0M243 162.1h0M249.7 212.5h0M207.7 156.4h0M217.5 159.7h0M237.2 157.9h0M273.9 221.8h0M267.3 207.5h0M241.9 157.3h0M276.4 178.9h0M269.8 253.6h0M228.8 207.1h0M230.4 159.5h0M243.7 228.2h0M282.7 228.1h0M290.5 188.1h0M250.4 163.9h0M225.4 229.3h0M205.9 154.8h0M232.6 141.3h0M228 226.5h0M259.1 159.5h0M237.4 155.4h0M281 149h0M245.4 178.4h0M252 173.7h0M240.9 199.8h0M237.3 235.6h0M271.9 166h0M168.3 173.9h0M238.7 233.7h0M239.3 201.6h0M290.3 245.5h0M204.2 227.3h0M286.3 194.3h0M222.4 179h0M261.1 187.8h0M272.3 213.2h0M272.8 214.2h0M280.9 185.6h0M245.2 170.1h0M290.6 183.3h0M264.2 248.4h0M247.5 163.7h0M244.5 180.5h0M246.9 217.6h0M238.2 190.6h0M273 226.1h0M288.3 157.1h0M236.6 192.9h0M320.5 143.2h0M229.5 133.8h0M222.6 171.4h0M276.7 120.7h0M187.9 158.9h0M233.1 155.7h0M225 209.3h0M251.3 175.3h0M254.9 223.6h0M269.2 122.8h0M211.4 202.9h0M213.8 151.1h0M235.3 232.5h0M197.5 181.3h0M301.6 205h0M252.1 188.2h0M319.7 207.9h0M279.4 189.9h0M308.9 196.6h0M254.5 226.3h0M209 207h0M199.8 225.2h0M198.2 217.6h0M265.5 206.2h0M255.4 164.3h0M275 181.7h0M277.6 165.8h0M250.4 183.8h0M253.5 249h0M206.9 197.2h0M273.4 178.1h0M176.2 177.7h0M234.6 193.9h0M296.4 171.4h0M266.3 204.6h0M287.1 161h0M204.9 147.4h0M233 243h0M235.7 185.4h0M194.2 208.1h0M244.2 172.5h0M251.9 171.8h0M220.8 222.4h0M207.4 181.2h0M251.2 174.2h0M262.9 157.2h0M278.4 159.6h0M232.7 207.6h0M302.3 207.8h0M298.4 216.9h0M306 199.8h0M210.8 153.9h0M274.8 179.4h0M286.2 231.1h0M248.7 138.4h0M219 205.9h0M211.6 179.1h0M222.4 178.2h0M305.9 240.5h0M255.8 186.3h0M249.3 222.3h0M293.2 221.3h0M229.4 184.1h0M209.3 145.9h0M254.8 208.7h0M230.8 158.7h0M240.4 164.5h0M261.3 237.1h0M277.7 204.6h0M284.2 232.2h0M284.3 162.2h0M246.8 204.7h0M188.4 180.1h0M285.8 160.3h0M211.2 153.8h0M291.4 204.2h0M211.6 152.6h0M201.1 207.4h0M261.8 146.6h0M287.4 208h0M220 208.4h0M229.4 181.8h0M239.5 205.8h0M282.7 154.1h0M208.8 156.7h0M235.5 200.1h0M305.4 195.6h0M286.7 163.8h0M258 163.3h0M176.9 249.2h0M226.6 204.2h0M252.1 178.7h0M223.5 225.3h0M272.3 222h0M291.7 253.7h0M249.5 185.6h0M286.1 198.5h0M222.2 225.8h0M230.1 139.4h0M216 225.9h0M249.6 160.9h0M240.6 205.5h0M172.3 208.8h0M254 161.1h0M239.7 243.6h0M295.6 220.1h0M264.8 205.4h0M254.4 206.6h0M250.3 120.2h0M208.4 181.2h0M294.8 217h0M276.1 178.5h0M264.2 184.3h0M280.6 206.3h0M217.2 136.1h0M247 170.3h0M271.6 263.4h0M264.3 208.4h0M229 183.5h0M184.5 180.5h0M265.3 224.7h0M248.6 212.6h0M267.3 207.8h0M293.7 213.8h0M273.1 177.9h0M225.8 218.2h0M268.2 267.2h0M202 202.4h0M238.9 157.9h0M259.2 155.9h0M254.2 210.5h0M255.9 158.9h0M258 184.9h0M277.2 167.8h0M189.1 202.2h0M258.3 141.9h0M226.9 204.3h0M241.7 180.4h0M221 164h0M262.3 232.6h0M261.2 194.2h0M187.9 140.2h0M269.7 185.6h0M291.2 229.2h0M271.8 213.6h0M194.2 172.9h0M256.9 184h0M300.9 209.6h0M231.3 229.4h0M246 263.7h0M256.6 244.5h0M266.6 186.3h0M286.3 235.2h0M248.8 216.4h0M247.7 206.9h0M271.4 210.1h0M282.6 205.4h0M234.3 152.2h0M265.7 137.4h0M206.6 193.1h0M252.2 212.5h0M202.7 184h0M215.5 209.7h0M172.5 209.5h0M194.3 131.2h0M220.2 209.2h0M192.4 181.5h0M247.7 224.2h0M219.9 177.3h0M233.4 154.4h0M244.4 160.9h0M198.5 223.9h0M203.4 177.5h0M272.3 180.9h0M221.1 223.4h0M216.8 179.1h0M255.8 156.9h0M235.2 185.2h0M308.2 199.2h0M184.8 200h0M250.4 208h0M247.6 125.6h0M251.2 179.5h0M253.1 209.2h0M233.4 229.7h0M273.2 140h0M211.2 196h0M181.4 223.2h0M238.3 224.5h0M262.8 208.2h0M243.1 162.1h0M253.6 173.2h0M223.9 169.4h0M260.4 163.4h0M234.3 143.6h0M198 224.8h0M264 202h0M271.6 185.5h0M257.7 150.7h0M282.6 232.1h0M262.4 206.7h0M200.9 224.8h0M287.3 192h0M252.3 217.9h0M236.4 229.7h0M194 164.5h0M246.9 166.2h0M268.3 223.7h0M310.5 193.3h0M213.3 175.4h0M198.1 168.3h0M238.6 139h0M316.2 189.6h0M271.2 180.2h0M276.7 243.3h0M316.9 209.6h0M231.7 150.7h0M197.3 163h0M231.4 157.4h0M200.6 182.7h0M255.1 207.8h0M248.1 169.8h0M230.8 140.5h0M246.6 222.4h0M279.8 225.1h0M246.5 214.1h0M231.6 208.2h0M204.7 224.2h0M239.3 233h0M224.2 119.1h0M248.2 165.9h0M232.7 248.3h0M207.1 226.3h0M224.1 132.6h0M217.2 207.8h0M242.6 228.8h0M304.3 199.3h0M209.1 202.2h0M197.8 179.5h0M197.2 181.4h0M275.5 217.6h0M302.5 226.9h0M249.5 225.6h0M265.8 185.7h0M225 157.5h0M292.2 222.9h0M262.8 146.5h0M233.2 199.5h0M271 165.7h0M239.4 194.5h0M224.2 208.5h0M213.5 231.9h0M245.4 204.1h0M272.7 218.1h0M233.6 199.8h0M189.2 181.1h0M244.1 166.8h0M233.5 232.9h0M259.4 140h0M270.7 209.9h0M255.3 143.6h0M273.6 216h0M215.3 180.3h0M245.4 160.9h0M281.5 207.4h0M203.7 146.2h0M229.4 153.3h0M285.2 200.7h0M269.7 170.1h0M259.3 240.1h0M225.5 209.1h0M191.2 162.2h0M261.9 185.7h0M285.1 205h0M218 177.6h0M221.7 208.6h0M282.8 247.8h0M219.1 227.8h0M206.6 183.5h0M287.7 148.1h0M266.1 167.1h0M290.9 206.3h0M252.9 209.6h0M222.9 181.9h0M247.5 167.5h0M225.4 217.2h0M237.8 142.9h0M279.4 233.2h0M224.9 185.1h0M253 178.6h0M294.4 189.3h0M207.1 250.8h0M232.6 186.8h0M230.5 248.6h0M233.2 180.3h0M213.7 181.7h0M259.6 185.4h0M234.5 204.8h0M249.4 223.9h0M247.8 178.9h0M251 182.4h0M238.7 230.5h0M257.6 236.9h0M243.3 137.1h0M255.8 202h0M234.3 207.7h0M205 223.6h0M193.5 204.3h0M248.8 124.1h0M271.3 176.6h0M280.8 183.5h0M248.2 208.9h0M269 208.6h0M234.9 140.7h0M198.9 206h0M279.9 237.9h0M192.8 208.9h0M226.4 244.8h0M238.8 191.4h0M255.9 138.2h0M184.7 149h0M262.3 157.5h0M234 181.3h0M204.8 187.6h0M270.8 123.9h0M199.8 179.6h0M261 164.3h0M233.3 161.2h0M250.5 174.6h0M312.3 225.4h0M288.6 209.7h0M256 206.3h0M259.5 230.5h0M236.8 152h0M198.8 176.8h0M182.3 193.4h0M174 179.9h0M213.7 200.6h0M227.3 139.4h0M290.2 208.2h0M254.7 178.5h0M272.6 225.6h0M277.8 213.8h0M230.3 189.7h0M253.6 136.2h0M206.8 157.8h0" stroke="#0000ff" stroke-width="3.5" stroke-linecap="round"/>
<path d="M207.4 229.8h0M309.4 185.9h0M263.8 234.7h0M290.4 139.7h0M289.8 139.3h0M234.5 149.6h0M233.1 150.4h0M243.3 161.5h0M250.4 212.8h0M208.1 155.7h0M206.9 155.9h0M216.8 159h0M217.1 160h0M237.5 158.4h0M238.1 158.2h0M274.3 221.2h0M273.3 222.2h0M266.9 208.3h0M267.4 206.7h0M241.8 157.6h0M276.1 179.8h0M275.7 178.7h0M270.1 252.9h0M228.3 206.9h0M228.7 206.6h0M230.5 159h0M243.4 228.7h0M283 227.7h0M283.1 228.8h0M291.1 188h0M249.6 164.1h0M250.2 164h0M225.3 230.2h0M225.7 230h0M205.6 155.5h0M231.8 140.6h0M227.8 226.8h0M227.9 225.9h0M259 159.3h0M236.8 155.7h0M236.6 156.1h0M280.4 149.8h0M246.1 178.8h0M245.6 179.1h0M251.2 173.9h0M240.7 199.3h0M236.7 235.7h0M271.6 166.9h0M168.4 174.6h0M168.1 174.4h0M238.2 233.9h0M238.3 233.7h0M240.1 201.6h0M289.6 244.9h0M290.9 245.2h0M205 227.6h0M205 227.3h0M285.7 194.1h0M223 179.5h0M222 179.1h0M261.1 187.1h0M260.7 187.8h0M271.8 212.3h0M272.7 213.8h0M272 213.9h0M273.3 214.4h0M281.8 184.9h0M280.7 185.9h0M245.1 169.4h0M244.4 170.1h0M290 182.6h0M264 248.2h0M247.7 164.3h0M243.9 179.6h0M247.3 217.5h0M246.4 218h0M237.8 189.8h0M237.7 191.4h0M273.1 225.6h0M289.1 156.4h0M236.2 192.2h0M237.2 192.3h0M320.5 143.7h0M229.2 133.2h0M228.7 133.1h0M223.2 171.3h0M222.7 171.1h0M277.1 121.2h0M276.9 120.7h0M188.8 159.8h0M187.5 158.1h0M232.9 156.6h0M225.5 209.9h0M251.1 175.4h0M255.3 223.5h0M270 122h0M268.6 121.9h0M212 203.1h0M210.9 203.1h0M213.4 151.4h0M213.7 151h0M235.5 232.8h0M235.1 233h0M197.8 180.8h0M301.4 204.9h0M252.6 187.8h0M251.5 188.6h0M319.6 207.5h0M280 189.1h0M309.7 196.7h0M309.6 196.3h0M254.3 226.6h0M255.4 226.1h0M209.4 207.1h0M199.4 226.1h0M197.4 217.7h0M198.5 218h0M265.6 206.3h0M255 164.7h0M254.9 164.9h0M275.3 181.1h0M278.4 165.6h0M251.2 183.7h0M252.8 249.4h0M253.4 249.1h0M206.2 196.5h0M272.5 178.3h0M175.8 177.9h0M175.9 177.4h0M233.8 194.2h0M233.8 193.2h0M296.3 170.8h0M266.9 204.9h0M266.1 203.8h0M286.6 160.7h0M205.3 147.6h0M205.2 148.2h0M233 242.3h0M232.7 242.3h0M236.3 184.6h0M194.4 208.7h0M244 173.1h0M244 171.9h0M252.6 171.3h0M252.1 171.8h0M221.7 223.3h0M220.8 222.8h0M208.2 181.8h0M207.8 181.7h0M251.7 174.7h0M263.5 157.1h0M262.5 156.5h0M278.1 160.2h0M233.2 208.5h0M232.8 208h0M302.9 207.4h0M301.7 207h0M298 217.7h0M297.5 217.1h0M305.9 199.7h0M305.8 199h0M210.9 154.3h0M211.3 153.2h0M274.4 180.3h0M275.1 179.3h0M286 231.7h0M248.3 137.9h0M218.6 205.6h0M211.9 179.8h0M221.8 178.4h0M305.5 240.5h0M256.2 185.7h0M255.8 185.9h0M248.7 221.6h0M248.7 222.1h0M292.3 221.4h0M293.4 222h0M229.1 183.6h0M229.6 184.4h0M209.6 146.4h0M209.3 145.1h0M255.3 208.3h0M254.5 208.3h0M230 159.1h0M240.2 165.3h0M261.5 237.5h0M261.6 236.6h0M277.8 203.8h0M278.2 203.8h0M283.8 232.7h0M284.4 161.3h0M246.3 204.3h0M188.9 180.9h0M188.4 181h0M285.4 160.1h0M211.8 154.3h0M290.9 203.7h0M291.2 204.9h0M211.1 153.2h0M211.7 152.5h0M201.9 207.7h0M200.8 207.9h0M262.2 146.2h0M288 207.1h0M219.6 208.7h0M229.7 181.6h0M238.9 204.9h0M282.3 154.8h0M283.2 154.6h0M208.1 156.2h0M208.1 155.8h0M235.8 200.4h0M236.2 200.2h0M304.9 196.2h0M305.7 196.2h0M287.2 163.5h0M258.6 162.5h0M176.3 250.1h0M177.2 249.4h0M227.5 204.3h0M252.1 178.5h0M252.4 179.1h0M223.3 226.2h0M273 222.5h0M272.8 222.3h0M292.2 253.8h0M291.8 254.6h0M249.7 186.2h0M248.9 185.3h0M286.8 197.9h0M221.6 226.3h0M230 138.6h0M215.3 226.5h0M248.9 160.6h0M240.7 205.9h0M172.5 208.7h0M172.3 209.2h0M253.6 161.1h0M254.7 160.6h0M240.2 242.9h0M295.4 219.3h0M265.2 205.1h0M253.5 206.2h0M250.7 120.5h0M249.4 119.5h0M208.7 180.8h0M294.4 216.3h0M275.6 177.9h0M276.3 178.6h0M264.8 183.6h0M281.4 206.9h0M279.9 205.7h0M217.1 136.9h0M247.3 171h0M271.4 263.9h0M263.5 208.4h0M229.8 184.3h0M228.7 184.1h0M185.3 181.1h0M264.9 224.8h0M248.1 212h0M266.4 207.8h0M293.3 214.4h0M294.4 213.9h0M273.3 177.1h0M273.8 178.1h0M226 218.4h0M226.3 218.7h0M268.7 266.4h0M267.9 267.4h0M202.2 203.2h0M202.6 201.7h0M238.8 158.2h0M259.9 156.5h0M254.1 210.3h0M254.1 210.1h0M256.4 159.4h0M257.6 184.7h0M258.4 185.3h0M277.2 167h0M278.1 167.3h0M188.4 202.4h0M188.2 203h0M258.9 142h0M257.4 141.3h0M226.6 205.1h0M226.8 203.6h0M240.9 179.9h0M220.6 164.8h0M262.1 233.1h0M262.2 233h0M260.4 193.8h0M260.7 193.7h0M188.3 139.9h0M268.9 186.3h0M291.4 229h0M290.9 228.6h0M271.5 213.1h0M194.8 172.1h0M194.9 172.1h0M257.3 184.9h0M257.6 184.8h0M301.1 209.3h0M231.9 230.3h0M232 230.1h0M245.8 264.4h0M246.2 264.1h0M257.3 244.5h0M256.5 245.4h0M266.3 185.4h0M266 185.8h0M285.4 236h0M248.1 216.5h0M248.3 207.4h0M247.7 207.2h0M271.9 210h0M282.1 205.2h0M282.9 205.1h0M234.7 151.4h0M265 137.6h0M206.4 194h0M251.5 213.1h0M203.5 183.7h0M202.3 184.7h0M216.2 209.3h0M172.6 210h0M194.2 131.8h0M193.7 131.9h0M219.7 208.6h0M220.8 209.8h0M191.6 180.8h0M193.2 180.8h0M246.9 224h0M220.2 176.4h0M232.6 154.8h0M233.5 154.4h0M244.5 160.3h0M198 224.7h0M203.9 178.1h0M271.6 180.7h0M221.4 222.6h0M220.9 223.3h0M217.3 179.4h0M255 156.6h0M235.7 185.7h0M307.8 199h0M307.7 199.5h0M185.5 199.5h0M251.2 207.5h0M248.1 125.4h0M246.8 126.3h0M251.9 178.9h0M253.7 210.1h0M233.4 228.9h0M273.1 140.5h0M273.1 139.2h0M211.9 196.5h0M211.2 195.5h0M182.1 223.3h0M238.3 225.1h0M237.8 225.3h0M263.5 208.1h0M242.5 162.8h0M252.9 172.4h0M224.7 168.8h0M260.1 162.5h0M234.8 143.3h0M235 143h0M198.1 224h0M198.8 224.3h0M264.1 201.4h0M272.4 184.9h0M272 185.1h0M257.8 150h0M282.3 232.2h0M262.8 206.6h0M200.9 225.5h0M200.5 224.5h0M288 192.2h0M252.6 218h0M252.5 217.4h0M237.1 229.4h0M193.1 163.8h0M247.5 165.7h0M247.4 166h0M268.6 223.6h0M310.9 193.8h0M213 174.6h0M198.8 168.7h0M197.9 167.7h0M238.6 139.2h0M238.6 138.2h0M315.7 189.3h0M271.2 180.8h0M271.2 180.9h0M277.2 244.1h0M276.7 244.2h0M316.9 209.2h0M230.8 150.4h0M231.7 150.2h0M197.2 162.6h0M231.6 157.2h0M230.8 158h0M201.1 181.8h0M201.3 182.9h0M255.5 207.2h0M255.7 207.4h0M248.5 169.8h0M248.3 170h0M231.6 140.8h0M230.5 141.3h0M246.1 222h0M280 224.2h0M246.4 213.3h0M246.9 215h0M231.4 208.9h0M232.4 208.2h0M205.1 223.4h0M240.2 232.3h0M224.8 119.7h0M248.3 166.6h0M248.6 165.8h0M232.4 249h0M231.8 247.9h0M207.7 225.9h0M207.1 226.8h0M224.6 131.8h0M217.6 208.6h0M242.2 227.9h0M242.1 229.4h0M304.9 199.9h0M303.9 198.9h0M209.8 201.8h0M198.1 180h0M198.3 180.1h0M197.9 181.7h0M275.9 216.8h0M302 227.4h0M303.3 227.2h0M250 226.4h0M249.2 226.1h0M266.5 185.2h0M265.2 185.1h0M225.2 157.5h0M224.1 157.4h0M293 223h0M263.2 146.6h0M262.5 146.8h0M232.8 199h0M232.9 198.7h0M271.1 165.7h0M271.5 165.6h0M238.5 194.9h0M239.6 195h0M223.8 209.1h0M213.6 231.5h0M245.2 204.3h0M246.2 204.9h0M271.9 218.5h0M271.9 218h0M234.2 199.7h0M234.4 199.8h0M189.9 180.7h0M244.7 167.2h0M233.4 232.2h0M233.1 232.5h0M259.7 140h0M260 139.7h0M271.5 209.1h0M255.6 144.4h0M255.2 143.2h0M273.3 216.4h0M215.7 181.2h0M215.7 179.6h0M246.2 160.8h0M281.5 208.1h0M281.3 207.1h0M203.2 145.3h0M228.7 153.6h0M285.2 201.1h0M285.9 200h0M270.5 169.2h0M270.6 169.3h0M259.2 239.2h0M260.1 239.5h0M224.7 209.7h0M190.9 162.8h0M190.7 162.6h0M262.2 185.7h0M261.2 185.2h0M284.4 205.5h0M284.8 205.2h0M217.5 177.5h0M221.8 208.2h0M282.3 247.6h0M218.6 227.9h0M207.4 184.2h0M206.6 182.9h0M286.8 149h0M266.9 167.8h0M265.9 166.2h0M290.3 206.6h0M252.7 209.3h0M252.6 210.3h0M223.2 181.8h0M223.2 181.3h0M248.2 166.8h0M246.6 166.6h0M224.8 216.9h0M238.1 142.2h0M237.8 143.3h0M279.3 234h0M224.5 185.7h0M224.7 185h0M252.9 179.1h0M293.8 189.6h0M294.9 190h0M207 250.2h0M232.4 187.2h0M233 186h0M230.9 248.3h0M233.5 179.6h0M214.1 182h0M260 186.3h0M234.9 205.5h0M234.4 204.1h0M250 224.2h0M247.2 179.5h0M250.2 183.1h0M250.6 182.4h0M238.7 231.3h0M257.7 237.4h0M257.9 236.9h0M243.7 136.2h0M242.8 137.7h0M254.9 201.3h0M234 207.2h0M204.8 223.8h0M193.6 204.8h0M192.7 204.2h0M248.7 124.5h0M270.5 176.7h0M280.5 184h0M281 183.1h0M248.8 209.2h0M248.2 208.8h0M268.2 208.6h0M234 140.6h0M235.4 140.1h0M198.6 206.5h0M199.3 206.2h0M280.5 238.7h0M279.2 237.5h0M192.3 208.1h0M227.1 244.7h0M239.7 191h0M256.2 138.5h0M184.2 148.9h0M185.6 149.5h0M261.6 156.8h0M262.2 157.1h0M233.4 181.7h0M233.6 181h0M204.9 187.2h0M269.9 123.6h0M199.6 180.2h0M199 180.1h0M261.6 165.1h0M261.7 164h0M233.6 161.7h0M251.1 173.8h0M312.2 225.8h0M311.6 225.7h0M289.1 209.1h0M255.2 206.4h0M255.7 206.7h0M260.3 229.8h0M259.6 230.8h0M237.6 152h0M236.7 151.6h0M198.7 176.3h0M182.4 192.8h0M183.1 192.8h0M173.8 179.7h0M174.6 180h0M213.8 200.6h0M214 200.4h0M226.5 139.4h0M290.9 207.9h0M254.6 178.5h0M272 225.5h0M278.1 214.4h0M277.5 213.2h0M230.4 190.6h0M253.6 136h0M206.8 158.6h0M206.8 158.5h0" stroke="#00e600" stroke-width="2" stroke-linecap="round"/>
<path d="M264.2 235.6h0M233.1 149.6h0M249.9 212.1h0M207.3 156.5h0M217.5 159.7h0M237.3 157.7h0M241.7 157.2h0M270 254.1h0M244.2 227.8h0M290 188.6h0M272.1 165.8h0M168.5 173.9h0M239.2 233.2h0M285.8 194.5h0M222.8 179h0M236.6 192.9h0M223.1 171.2h0M187.6 158.5h0M232.6 155.3h0M224.8 209.5h0M254.3 223.7h0M211.3 202.7h0M197.1 181.1h0M320.1 207.6h0M279.6 190.2h0M208.6 207.1h0M198.5 218h0M254.8 164.1h0M277.7 165.3h0M253.9 248.4h0M272.8 177.9h0M176.2 177.4h0M287.5 161.3h0M204.3 147.3h0M232.5 242.8h0M235.7 185.9h0M252.4 171.4h0M220.6 222.3h0M250.9 174.3h0M262.4 157h0M278.4 160.1h0M232.8 207.2h0M301.8 208.2h0M298.9 216.9h0M274.8 179.5h0M248.3 138.5h0M222 178.6h0M306.2 240.1h0M249 222.4h0M229.7 183.9h0M209.3 146.5h0M231 158.5h0M261.5 237.6h0M278.1 205.1h0M284.7 162.6h0M247 205.1h0M188.5 180.2h0M290.9 204.7h0M261.5 147h0M229.2 181.3h0M239.1 205.4h0M282.8 154.1h0M208.5 156.7h0M236.1 199.6h0M305.7 195h0M258.5 163.3h0M177.4 248.7h0M226.5 203.6h0M252.2 178.7h0M223.9 225.3h0M249.5 185.8h0M230.7 138.8h0M215.7 226.3h0M172.6 208.9h0M254.5 161h0M296 219.7h0M250.7 120.6h0M276.6 178.8h0M264.5 183.7h0M217.1 136h0M247 170.7h0M228.8 184h0M265.5 224.8h0M248.7 213.2h0M293.5 214h0M272.5 178.5h0M225.9 218.6h0M268.2 267h0M254.7 211h0M258.2 142.3h0M227.2 204h0M241.2 180.7h0M262.5 232.7h0M261.2 194.1h0M246.3 263.7h0M256.2 244.8h0M266.2 186.6h0M286.2 235.1h0M215.1 209.4h0M173.1 209.3h0M193.9 131.5h0M220.2 209.2h0M247.6 223.8h0M219.7 177.6h0M203.1 177.2h0M272.4 180.9h0M256.3 156.9h0M250.9 208.5h0M250.9 179.2h0M253 208.7h0M233.6 230.1h0M273.4 139.5h0M211.2 196.3h0M181.7 223h0M238.3 224h0M243 162h0M253.2 172.7h0M223.9 169.4h0M260.5 163.2h0M234.7 144h0M257.5 150.3h0M287.5 191.9h0M236.7 229.8h0M193.4 164.7h0M247.3 166.3h0M268.5 223.8h0M315.9 189.5h0M271.3 180.5h0M277.2 243.6h0M316.4 209.4h0M231.9 157.4h0M255 208.1h0M248.5 169.4h0M280.2 225.6h0M231.4 208h0M247.8 166.2h0M232.3 248.6h0M207 226.1h0M304.3 199.5h0M275.9 217.5h0M248.9 225.8h0M265.4 186.3h0M233.1 200.1h0M239.1 194h0M224.6 208.1h0M245.6 203.8h0M272.9 218.5h0M244 167h0M233.3 232.6h0M271.3 210.3h0M255.2 143.6h0M258.9 240.2h0M225 209.4h0M218.3 177.7h0M222.2 208.5h0M282.7 247.4h0M287.3 147.6h0M266.7 167.2h0M291.2 206.1h0M253.4 209.6h0M237.3 142.3h0M233.2 187.4h0M230.6 248h0M234.5 204.8h0M248.1 179.4h0M238.1 230.3h0M257.3 237.4h0M243.7 137.2h0M255.3 202.2h0M234 208h0M204.9 223.2h0M194 204.8h0M248.3 123.6h0M248.7 208.8h0M199.3 206.3h0M226.2 244.6h0M239 191.4h0M255.7 137.9h0M184.8 149.3h0M262.3 156.9h0M233.6 181.2h0M204.8 187.9h0M199.7 180.1h0M261.2 164.9h0M233.3 161.3h0M250.9 174.8h0M256.3 205.9h0M182.7 193.7h0M254.6 178.6h0" stroke="#008c00" stroke-width="1.5" stroke-linecap="round"/>
<path d="M309 185.7h0M264 235.9h0M291.2 139.6h0M207.7 156.2h0M273.9 221.6h0M267.8 207h0M230.4 159.5h0M243.5 227.9h0M250.3 164.2h0M205.9 155h0M227.5 226.4h0M280.7 149.4h0M245.6 178.8h0M251.8 173.8h0M240.8 200.1h0M237.5 236h0M168.3 173.6h0M239 233.3h0M290.5 245.1h0M244.8 180h0M320.7 143.3h0M229.9 133.7h0M222.8 170.9h0M254.5 224.1h0M214 151.1h0M197.4 181.3h0M301.8 205h0M319.9 208.4h0M265.9 205.9h0M250.8 184.4h0M266.2 204.4h0M287.1 160.5h0M233.3 242.9h0M251.4 173.8h0M301.8 207.7h0M286.5 230.6h0M212 179.1h0M293.1 221.1h0M229 184.1h0M209.9 146.2h0M240.8 164.3h0M284.4 232h0M246.9 204.8h0M188.1 179.8h0M211.3 152h0M200.6 207.6h0M257.5 162.7h0M177.5 249.1h0M226.4 204.3h0M230.1 139.1h0M240.5 205.1h0M264.7 205.6h0M276.5 178.7h0M263.7 208.7h0M184.1 181h0M249 212.3h0M267.2 207.9h0M273.3 178.3h0M188.6 202.1h0M227.4 204h0M242.1 180.6h0M269.5 186h0M257.5 183.7h0M301.1 210.2h0M257.1 245h0M286.6 234.8h0M271.7 210.6h0M207 192.9h0M215.8 210.1h0M220.7 209.6h0M247.3 223.7h0M233.6 154.6h0M244.6 161.3h0M198.8 223.5h0M251.8 179.5h0M252.8 208.7h0M181.1 223.3h0M224.4 169.4h0M197.7 225.4h0M263.4 201.6h0M258.3 150.1h0M193.7 164.8h0M213.2 176h0M238 139.4h0M316.7 209.7h0M254.6 208h0M248 169.5h0M232 208.3h0M248.4 165.9h0M243.1 229.4h0M249.2 225.1h0M223.9 209h0M234.2 200.2h0M259.8 140.1h0M270.9 210h0M255 144.1h0M203.4 146h0M259 239.6h0M225.5 208.8h0M221.6 208.8h0M282.5 248h0M218.8 227.7h0M266.2 167.2h0M252.6 209.6h0M223.3 181.9h0M247.4 167h0M238.2 143.2h0M279.6 233.5h0M224.6 185h0M253.6 178.9h0M293.9 189.3h0M257.8 237.1h0M234.9 207.3h0M204.7 223.4h0M193.8 204.1h0M248.8 124.6h0M248.3 208.6h0M269.1 209.1h0M199.1 205.7h0M192.8 209.1h0M226.7 244.9h0M238.7 191.5h0M255.9 138.6h0M262.2 158.1h0M204.4 188h0M261 164h0M233.2 160.9h0M255.6 205.9h0M198.7 176.6h0M182.6 193.5h0M255.1 178.8h0M272.2 225h0M253.2 136.4h0" stroke="#e00000" stroke-width="1.5" stroke-linecap="round"/>
<path d="M769.9 267.9h0M690.7 234.1h0M819.1 228.2h0M808.5 256.7h0M692.2 241.4h0M695.7 175.5h0M666.1 194.8h0M669.5 175.8h0M730 277.4h0M822 223.5h0M700.5 189.9h0M749.4 284.6h0M797.3 286.8h0M680.5 197.2h0M778.2 284.2h0M713.7 120.2h0M778.6 272.2h0M830.6 214.7h0M827.2 115.4h0M829.8 259.8h0M727.3 257.3h0M788.3 281.2h0M715.3 131.7h0M870.6 181.1h0M862.9 183.1h0M747.9 115.1h0M743.3 284.4h0M821.1 265.5h0M771.4 103.9h0M756.7 252.2h0M697.1 227.4h0M840.9 164.8h0M706.2 163.6h0M748.6 117.5h0M725.6 240.2h0M829.4 212h0M859.7 150.6h0M776.5 258.8h0M841.1 153.7h0M768.2 107.2h0M735.8 263.8h0M759.4 98.4h0M673.5 143.6h0M750.6 103.2h0M706.2 108.5h0M686 220.1h0M770.9 93.6h0M812.4 113h0M752.3 267.3h0M795.8 108h0M823.2 140.7h0M782.8 103.4h0M817 277.5h0M689 167.4h0M844.4 237.6h0M829.7 116.7h0M749.4 127.2h0M843.3 175.8h0M700.1 171.1h0M823.2 219.9h0M825.5 230.4h0M769.1 262.8h0M686.9 152.3h0M670.7 179h0M770 292h0M807.1 272h0M683.3 208.3h0M779.8 127.3h0M691.9 216h0M759.9 127.1h0M706.5 121.5h0M815.4 250.3h0M804.5 132.4h0M761.7 277h0M845.3 245.1h0M667.1 223.2h0M833.4 200.7h0M708.9 150.6h0M816.3 265.8h0M811.1 148.3h0M829.8 204.7h0M738.4 101.8h0M677 138.4h0M688.9 184.8h0M739.2 268.4h0M746.9 125.1h0M725.9 114.3h0M846.1 243.2h0M814 114.4h0M680.9 233.4h0M723.1 251h0M685.1 170.2h0M682 198.1h0M832.7 215.3h0M696.3 260.3h0M703.6 266.3h0M824.4 219.9h0M772.8 94h0M673.6 163.3h0" stroke="#1010ff" stroke-width="1.5" stroke-linecap="round" stroke-opacity="0.55"/>
<path d="M831 187.8h0M676.6 229.8h0M761 255.8h0M855.3 242.9h0M742.8 290.4h0M690 183.7h0M816.8 119.1h0M714.1 263.3h0M811.6 129.6h0M821 239.9h0M704.4 147.9h0M783.8 270.9h0M663 178.6h0M830.8 155.8h0M733.5 252.6h0M738.5 281.4h0M715.1 117.5h0M797.3 254.2h0M696.1 169.9h0M763.3 273.1h0M828.3 188.9h0M726.4 276.8h0M804.2 278.5h0M779.7 256.1h0M808.8 144.6h0M720.7 117.2h0M681.1 171.3h0M826.6 125h0M840.5 120h0M779 266.6h0M697.9 162.4h0M725.2 247.2h0M703.5 251.7h0M795.1 92.5h0M666.3 171.8h0M820.1 152.7h0M679.3 209.6h0M723.1 121.7h0M806.4 107.8h0M765.9 276.5h0M753.3 253.9h0M803.3 104.2h0M824.2 119.6h0M689.5 256.2h0M687.7 138.8h0M728.8 242.7h0M832.6 204.2h0M720.3 142.3h0M793.8 124.1h0M836.8 126.6h0M689 239.9h0" stroke="#1010ff" stroke-width="2" stroke-linecap="round" stroke-opacity="0.55"/>
<path d="M794.8 127.7h0M738.7 149.1h0M826.9 218.9h0M844.8 183.4h0M671.9 224.8h0M749.9 113.3h0M816.6 138.2h0M747 125.8h0M696.6 211.3h0M728.5 143.8h0M766.5 123.2h0M731.1 231.4h0M729.6 277h0M774.1 222.3h0M798.1 245.5h0M730.5 154.9h0M806.4 108.3h0M704.3 266.9h0M732.9 281.2h0M730.5 166.8h0M709.4 110.1h0M733.4 279h0M814.2 232.4h0M760.9 124.3h0M665.2 173.4h0M742.3 187.8h0M804.9 188h0M742.5 251.5h0M827 247.2h0M716.6 169.1h0M769.7 176.8h0M840.9 227.3h0M804.6 147.7h0M783.6 110.5h0M733.4 101h0M733.8 114h0M763.9 92.1h0M784.4 99.9h0M736 241.2h0M725.1 181.3h0M746.4 263.8h0M797 114.6h0M745.6 214.6h0M682 243h0M728.8 280.7h0M833.5 219.4h0M825.4 260.3h0M706.4 207.5h0M769.2 257h0M678.9 204.2h0M847.5 199.2h0M761.8 95.8h0M681.9 183.7h0M786 284.7h0M838.4 211.5h0M794.2 244.6h0M790.1 169.2h0M747.6 217.7h0M815.7 158.7h0M727.5 261.6h0M720.1 130.2h0M708.7 108.5h0M747.2 211.6h0M802 264.6h0M714.7 195.5h0M725.1 246.7h0M699.9 262.8h0M687.2 139.3h0M862.2 166.4h0M724.4 119.7h0M754.7 156.6h0M829.7 267.8h0M710.3 160.5h0M750 205.9h0M824.4 261h0M717.9 260.3h0M812.4 180.4h0M776.4 140h0M800.2 120.8h0M772.5 202.9h0M749.3 180.4h0M684.2 192.7h0M778.3 153.3h0M836.5 240.6h0M810.2 186.7h0M712.7 268.6h0M776.6 205.4h0M758.2 233.6h0M848 198.5h0M860.9 178.5h0M842.6 247.4h0M808.8 276.5h0M771.4 102.8h0M671.9 180.7h0M735 229.9h0M806.7 158.9h0M824.5 221.4h0M823.8 177.2h0M818.2 164.2h0M701 187.1h0M676.8 199.1h0M780.2 202h0M714.2 272.2h0M829.6 252.8h0M718.3 245.5h0M850.7 203.7h0M798.3 118h0M780.7 202.1h0M745.8 163.4h0M781.4 225.2h0M760.1 241.2h0M826.8 247.3h0M808.3 138.1h0M755.9 206.2h0M693.5 170.7h0M805.3 143.7h0M748.9 219.4h0M758.4 224.6h0M819.8 176.9h0M711.2 189.1h0M808.1 133.7h0M742.6 232.3h0M756.8 245.9h0M843.2 172.4h0M724.5 136.5h0M744.2 96.1h0M746.6 129.8h0M787.6 245.9h0M729.8 155.4h0M834.8 146.3h0M784 156.3h0M777.9 115.1h0M831.8 148.9h0M794.9 208h0M821.8 149.5h0M811.6 229.1h0M794.6 260.8h0M731.4 280.1h0M788 272.7h0M821.2 269h0M729.6 107.6h0M772.8 212.7h0M793.2 96h0M775.7 120.2h0M672.2 202.7h0M749 172.3h0M819.4 167.4h0M691.8 180.6h0M727.9 279.4h0M768 178.5h0M700 127.3h0M825.6 149h0M716.1 264.3h0M771 203.3h0M848.6 153.1h0M780.4 219.6h0M790.3 287h0M725.5 101.4h0M775.2 225.4h0M699.7 266.5h0M815.3 246.1h0M807.3 114.9h0M855.2 231.2h0M744.3 174.8h0M734.6 233.1h0" stroke="#0000ff" stroke-width="1.5" stroke-linecap="round"/>
<path d="M823.7 200.8h0M674.1 174.7h0M683.9 197.3h0M774.5 254.3h0M773.3 255.4h0M711.6 150.4h0M710.9 203.7h0M740.2 248.8h0M698.6 181h0M804.4 199.4h0M728.4 161.3h0M753.6 263.4h0M839.4 178.7h0M818.7 198.5h0M818 199.7h0M747.9 140.5h0M746.2 140.4h0M800.6 180.1h0M773 216.2h0M774.7 216.7h0M798.6 177.5h0M808.5 225.3h0M697.3 212h0M787.4 197.8h0M785.7 197.8h0M776 250.6h0M698.8 134.8h0M818.9 205.4h0M817.1 204.9h0M775.8 140.8h0M793.7 243.5h0M821.9 158.3h0M745.7 224.9h0M732.4 122h0M731.7 151.4h0M778.7 242.3h0M843.3 206.9h0M739 239.2h0M739.3 240.2h0M718.1 246.1h0M790.4 131.4h0M789.3 132.9h0M687.9 229.6h0M829.5 160.2h0M691.7 162.2h0M815.9 138.8h0M705.7 207.2h0M739.4 209.4h0M765.8 171.8h0M802.3 179h0M803.6 180.6h0M752.8 150.2h0M772.8 183.4h0M773 184.2h0M758.1 148.6h0M774 157.9h0M775.2 157.3h0M713.7 199.2h0M719.2 182.2h0M823.5 264.8h0M746.3 124.5h0M725.9 203.8h0M813.8 198.7h0M814.4 199.1h0M756.6 262.1h0M782.7 193.3h0M782.3 192.6h0M710.1 194.2h0M772.6 220.4h0M743.8 161.9h0M744.7 163.7h0M789.8 234.9h0M798.3 139.4h0M809 197.4h0M806.5 246.9h0M840.4 142.2h0M763.3 186.4h0M773.5 251.4h0M806.1 143.6h0M765.9 230.6h0M763.2 193.4h0M762.5 194.2h0M728.7 104.2h0M769 134.8h0M675.8 203.4h0M674.7 204.4h0M744.1 174.4h0M787.2 126.4h0M732.3 230.5h0M731.2 229.4h0M707.3 157.8h0M707.8 158.4h0M816.6 224.1h0M737.2 242.1h0M765.2 125.8h0M765.8 125.9h0M802.3 182.8h0M734.5 164.5h0M787.4 163.1h0M769.9 140.5h0M693.9 228.1h0M771.1 203.3h0M695.7 165.5h0M697 165.1h0M737.1 159.5h0M737 159.8h0M712.4 228.4h0M788.9 224.6h0M723.8 138.9h0M722.9 140.1h0M770.3 174.5h0M771.6 175.3h0M761.3 122.4h0M725.8 256.1h0M712.4 236.2h0M708.5 187.6h0M708.2 188.6h0M718 252.6h0M730.3 213.3h0M767.5 136.4h0M746.8 210.2h0M745.3 211.3h0M778.6 224.1h0M804.7 229.3h0M715.1 203.3h0M713.8 204.9h0M841.6 170.7h0M804.6 181.9h0M797.1 206.2h0M727.5 179.9h0M727.9 178.4h0M716.4 135.1h0M728.5 190.8h0M746.3 223.7h0M745.5 224.4h0M732.6 236.1h0M782.9 154h0M762.1 266.4h0M741.6 225.8h0M742.5 224.8h0M696.7 158.2h0M690.3 228.9h0M691 228.3h0M727.5 214h0M725 215.4h0M726.2 217h0M820 174.5h0M820.2 175.4h0M691.6 141.5h0M699.3 231.3h0M802.1 115.4h0M779.8 246.7h0M783 186.1h0M784.3 186.8h0M831.7 162.4h0M810 226.9h0M729.4 154.1h0M780.2 200.8h0M779.2 201.7h0M764.1 232.9h0M815.1 222.1h0M760.2 204.6h0M763.9 224.7h0M809.4 141.3h0M809.9 141.7h0M789.5 166.2h0M764.6 193.5h0M775.5 241.2h0M775.9 239.7h0M759.7 187.4h0M809.6 227h0M731.8 237.6h0M839.7 177.5h0M782.3 149h0M781.9 159.9h0M707.3 193.5h0M739.5 122.5h0M796.9 184h0M798 182.4h0M739 189.5h0M740.4 189.9h0M751.6 107h0M845.8 200.5h0M782.1 228h0M782.5 229h0M766.6 204.2h0M717.7 228.5h0M750.6 203.4h0M751.2 203.7h0M772 174.7h0M770.5 176.2h0M723 261.3h0M723.1 262.7h0M722.3 175.1h0M790.7 143.8h0M687.9 149.4h0M793 182.1h0M810.6 157h0M772.6 181.8h0M750.9 263.2h0M750.2 262.5h0M728.1 244.1h0M719 251.2h0M718.7 251.7h0M746.8 164h0M748.4 164.5h0M707 232.4h0M748.9 165.2h0M849.8 224.9h0M850.3 224.2h0M776.5 96.5h0M718.9 244.3h0M809.9 227.4h0M808.9 227.2h0M736.1 159.7h0M737.8 161.5h0M778.8 193.5h0M802.3 203.6h0M803 205h0M709.7 154.8h0M683 209.3h0M757.7 160.5h0M747.8 209.1h0M755.6 164.2h0M738.6 159.5h0M795.6 216.7h0M693.5 185.5h0M809.1 137.9h0M771.5 245.4h0M805.8 186.3h0M788.8 246.9h0M828.3 187.8h0M787.3 226.1h0M829.8 201.6h0M745.8 182.9h0M745.1 184.1h0M746.2 127.8h0M753.1 215.2h0M754.8 160.7h0M755 161.2h0M731.5 168.2h0M733.2 169.3h0M733 141.5h0M706.4 183.9h0M744.8 223.3h0M820.6 216.9h0M820.3 216.1h0M827 118.8h0M775.5 212.6h0M714.3 208.7h0M775.9 153.6h0M774.2 154.9h0M774 257.4h0M740.9 193.1h0M836.9 163.5h0M788.6 229.2h0M743.4 171.6h0M742.1 172.8h0M798.8 242.2h0M800.2 240.7h0M769.3 176.1h0M721 160.5h0M736.8 224.4h0M708 141.3h0M707.2 139.9h0M779.3 107.8h0M774.4 208h0M824.8 203.1h0M746 184.3h0M744.9 185.9h0M743.5 185.3h0M782.4 194.8h0M742.5 140.5h0M725.7 170.3h0M793.4 221.1h0M805.7 148.1h0M770 201.3h0M757.9 147h0M756.7 145.9h0M723.3 216.1h0M710.4 208.9h0M767.7 174.1h0M783 232.7h0M725.3 181.2h0M725 179.7h0M797.8 215h0M798.5 216.3h0M793.7 239.2h0M794.9 240.2h0M691.6 227.2h0M810.8 124.9h0M809 125.8h0M797.2 215.1h0M795.8 215.5h0M763.6 229.1h0M683.4 244.1h0M801.2 207.6h0M830.3 201.4h0M819.4 176.8h0M817.9 178.5h0M753.4 216.2h0M753.2 217.6h0M824.6 194h0M824.6 195.1h0M794.1 175.6h0M795.6 175.9h0M739.3 209.5h0M740.7 208.9h0M748.9 254h0M748.6 254.9h0M695.5 180.9h0M829.4 193.4h0M831.4 148.1h0M683.9 184.3h0M769.2 177.9h0M715 165.5h0M693.5 155.3h0M694.6 153.8h0M827.3 156.9h0M747.9 184.3h0M735.3 234h0M791.5 272.7h0M802.6 186.9h0M794.5 245.6h0M816.2 208.1h0M773.7 209.2h0M829.7 147.9h0M793.6 129.2h0M750.3 223.4h0M726.4 187.6h0M727.5 188.7h0M748.5 266.2h0M786.9 179.2h0M788.3 177.8h0M746.4 93.3h0M726.5 140.9h0M801.8 221.6h0M803.2 220.3h0M733.4 230.4h0M838.1 177h0M776.5 261.2h0M774.8 262.3h0M730.5 224h0M753.7 141.9h0M804.4 204.9h0M767.2 185.8h0M773.4 223h0M729.3 223.3h0M731 222.1h0M768.3 170.3h0M805.9 240.8h0M804.5 240.6h0M735.7 161.7h0M699.2 259.4h0M765.9 285.3h0M759.4 204.6h0M759.8 205.8h0M851.1 188.4h0M687.8 233.2h0M839.8 202.1h0M677.7 202.5h0M793.1 125.2h0M819.8 203.9h0M820.5 204.4h0M777.9 154.9h0M752 102.1h0M760.5 100.7h0M770.2 185.5h0M800.7 241.4h0M838.2 174.1h0M816.3 199.2h0M816.1 197.8h0M815.9 202.1h0M788 227.2h0M693.8 219.1h0M733.9 165h0M787.7 283.3h0M753.2 120.5h0M696.8 177.8h0M770.9 216.6h0M754.6 221.9h0M820.1 166.8h0M749.8 209h0M776.6 157.5h0M732.5 242.8h0M733.1 242.8h0M737.7 245.7h0M816.7 220.3h0M815.7 218.8h0M826 250.8h0M779.1 162.2h0M778.3 160.6h0M808.5 223.9h0M808.4 222.4h0M747.7 223.5h0M703.8 179.8h0M743.8 213.6h0M759.3 199.3h0M828 183.3h0M744.4 97.1h0M778.6 149.4h0M818.2 200.4h0M817.6 198.9h0M843.5 173.8h0M755.2 228.9h0M716.5 227.9h0M708.2 142.9h0M765.7 140.9h0M754.3 208.2h0M773.9 257.6h0M710.1 209.3h0M734.3 202h0M738.3 141.1h0M759.2 232.1h0M772.4 223.8h0M772.9 223.5h0M708.3 161.5h0M829.8 162.1h0M828.8 160.6h0M826.8 197.4h0M696.2 124.1h0M792.6 163.8h0M792.9 128.4h0M793.9 127.2h0M762.1 156h0M809.9 193h0M773 146h0M771.9 144.6h0M824.3 184.1h0M725 249.9h0M731.4 227.5h0M730.5 227.9h0M783.2 190.4h0M781.6 189.3h0M775.2 176.9h0M769.4 255.3h0M786 237.6h0M730.3 189h0M800.6 156.3h0M774.6 215.5h0M718 167.2h0M842.7 222.1h0M726.5 165.6h0M777.1 147.2h0M760.2 202.5h0M775.9 248h0M759.9 283.5h0M736.1 205.3h0M727.2 117.4h0M694.2 246.8h0M798.8 150.7h0M739.9 207.5h0M741.5 206.1h0M833.7 203.9h0M835.5 202.6h0M826.7 196.9h0M699.3 131.3h0M778.1 154.9h0M743.7 225.4h0M720 166.5h0M794.6 242.9h0M709.6 241.5h0M716.2 251h0M715.8 249.8h0M789.2 168h0M753.6 147.9h0M827.4 223.2h0M708.8 197.2h0M710.2 196.7h0M754.7 182.1h0M743.2 99h0M766.4 125.3h0M741 193.6h0M749.1 223.2h0M748.8 224.8h0M670.8 167.9h0M814.4 157.9h0M718.9 217.4h0M716.1 199.9h0M821.9 179.5h0M724.1 131.5h0M705.9 230h0M674.6 164.1h0M753.6 206.7h0M686.4 186.1h0M771 208.6h0M808.7 161.3h0M715.4 155.7h0M714.3 167.9h0M699.4 216h0M711.3 189h0M756 141.8h0M775.5 221.9h0M760.8 205.8h0M745.3 179h0M746 184.6h0M747.8 185.5h0M718.1 136.1h0M748.9 228h0M747.6 227.8h0M817.7 247.7h0M757.9 242.1h0M811.6 173h0M759.6 227.7h0M760.3 227.2h0M805.5 233.3h0M708.4 196.3h0M731 205.6h0M783.7 226h0M775.9 160h0M828.6 228.1h0M754.5 202.6h0M752.8 204.1h0M760.5 228.4h0M759.4 227.6h0M765.7 243.9h0M755.3 190.8h0M782.9 115.6h0M744.9 248.3h0M820.3 206.6h0M819.7 206.6h0M790.7 235.8h0M747.1 252.1h0M712.1 108.2h0M764.8 268.6h0M720.8 172.4h0M776.1 252.5h0M787 238.5h0M830.7 144.7h0M755.3 162.3h0M773.5 100.6h0M764.4 264.8h0M763.1 264.2h0M714.4 208.1h0M800.7 201.6h0M836.3 250.3h0M681.1 200.4h0M777.4 109.7h0M777.7 111.3h0M789.9 207.4h0M791.2 208h0M743.5 231h0M842.4 204.3h0M725.8 120.5h0M818.2 119.7h0M783.6 157.1h0M814.4 176.2h0M787.4 271.3h0M795.9 206.2h0M797.2 208h0M770.9 136.3h0M770.1 136.4h0M779.8 163.2h0M775.4 117.4h0M775.6 247.6h0M838.1 166.2h0M717.5 263h0M777 217.5h0M722.5 140.5h0M812.3 137h0M772 172.3h0M709.9 203.2h0M836.9 219.4h0M837.4 219h0M775.5 262h0M775.6 261.1h0M796.2 167.6h0M853 149.8h0M737.9 206.5h0M718.9 262.5h0M704.7 248.8h0M742.8 226.3h0M848.1 159.7h0M821.1 207.1h0M715 201.7h0M759.9 166.8h0M814.8 207.2h0M814.5 207.6h0M713.7 159.1h0M713.5 160.7h0M746.2 219.3h0M744.3 211.1h0M744.3 211h0M778.6 267.8h0M719.7 254.1h0M706.2 186.1h0M842.6 178.7h0M800.5 197.6h0M800 196.6h0M817.3 139.6h0M817.4 140.8h0M767.7 207.8h0M747 169.7h0M756.1 191.6h0M719.6 143.2h0M719.4 167.5h0M758.9 141h0M714.7 209.4h0M737 118h0M735.8 119.3h0M800.1 247.8h0M801.9 246.2h0M737.9 114.3h0M730.3 121.9h0M756.2 199.7h0M829.3 198.6h0M721.8 165h0M682.5 188.5h0M770.8 161.2h0M819.1 183.4h0M819.4 183.6h0M777.8 141.9h0M778.4 143.5h0M691.3 191h0M735.8 227h0M734.5 226.7h0M761 150.1h0M745.8 221.3h0M767.9 203.9h0M794.9 263.7h0M721.1 223.3h0M724.5 173.1h0M724.5 173.8h0M696.8 169.8h0M832.7 157.9h0M728.6 137.5h0M790.8 144h0M741.8 224.8h0M791.1 117.8h0M790.7 117.6h0M731 240.9h0M690.8 224.7h0M776 209.3h0M746.1 261.3h0M764.1 238.6h0M713.7 185.2h0M707.2 181.5h0M743.1 164.4h0M744.1 165.1h0M762.7 225.4h0M762.7 227.1h0M772.2 178.5h0M826.1 221.3h0M826.8 221.7h0M732.5 148.6h0M733.5 148.3h0M673.6 219.8h0M771.2 222.1h0M806.2 222.6h0M765.2 220.9h0M812.5 243.3h0M755.7 156.3h0M837.3 168.8h0M776.3 109.6h0M785.3 221.6h0M789.4 170.7h0M753 250.8h0M722.1 167.3h0M816.6 159.9h0M769.1 249.9h0M711.8 232.4h0M711.7 234h0M787 237.3h0M732.9 153.4h0M731.8 154.2h0M769.2 123.2h0M778.9 142.8h0M778.6 142h0M820.9 203.8h0M768.7 212.5h0M790.8 129.2h0M723.2 125.4h0M787.6 188.8h0M780 265.2h0M842.5 207.7h0M813.1 170.5h0M719 250.4h0M719 249.9h0M703.7 187.1h0M700.8 181h0M702 182.5h0M774.9 116.7h0M774.2 248.2h0M718.8 128.7h0M828.5 151h0M829.4 151.9h0M773.3 150h0M800 256.4h0M836.7 135.7h0M791.4 216.7h0M832.4 248.9h0M790.7 201.6h0M757.8 111.8h0M801.8 187.2h0M781 225.3h0M723.7 218.3h0M727.3 177h0M689 189.1h0M758.9 186.4h0M729.7 122h0M785.5 229.2h0M786.7 227.6h0M834.2 228.5h0M808.6 191.2h0M831.4 224.4h0M813.5 163.4h0M842.7 162h0M842.6 162.9h0M775.6 220.5h0M744.6 180.1h0M729.4 251.1h0M699.6 127.2h0M701.1 125.6h0M778.8 102.4h0M700.2 127.9h0M819.7 129.9h0M744 202.3h0M776.7 165.2h0M781.2 114.8h0M700.3 165.5h0M701.2 164.4h0M818.4 213.3h0M745 144.1h0M816.3 160.2h0M745.8 174.6h0M704.9 155.3h0M758.1 183.2h0M756.8 224.3h0M739.6 237.5h0M798.6 116h0M745.1 121.6h0M746.8 121h0M769.9 206.1h0M770.7 206.3h0M735.6 229.6h0M712.7 144.5h0M833 181.7h0M733.7 283.1h0M774.1 120.6h0M832.7 179.3h0M706.9 265.6h0M712.8 243.5h0M836.5 207.6h0M682.6 237.3h0M752.6 262.7h0M796.8 209h0M840.5 224.6h0M814.8 119.2h0M741.8 263.8h0M783.6 200.5h0M783.3 199.9h0M747.2 247.7h0M775.6 259.7h0M775.8 260.7h0M777.9 202.5h0M711.2 203.9h0M711.8 202.4h0M739.1 205.7h0M739.5 206.8h0M713.6 147.8h0M819.3 176.1h0M819.2 216.7h0M763.6 223.8h0M831.9 184.8h0M722.9 221.8h0M776.4 214.8h0M701.9 165.1h0M750 248.1h0M790.9 180.9h0M707.1 242.9h0M719.7 171.1h0M738.7 183.1h0M831.4 141.6h0M708.7 236.6h0M788.8 272.9h0M777.2 266.4h0M803.5 178.7h0M843.7 221.3h0M721.8 188.9h0M811.1 136.7h0M809.6 137.9h0M836.3 183.6h0M687.1 237.1h0M739.2 249h0M781 239.7h0M750.2 143.4h0M765.8 233.1h0M784.3 193.7h0M786 194.9h0M748.2 176.8h0M746.6 177.5h0M767.3 287.9h0M768.6 287h0M701.8 129.7h0M778 208.1h0M761.5 223.9h0M718.1 168h0M783.6 102.4h0M712.9 156h0M784.4 195.6h0M784.7 193.8h0M796.3 211.4h0M822.9 204.9h0M810.4 180.5h0M816.4 177.2h0M815.9 176.6h0M727.1 138.3h0M727.1 138.3h0M796.3 217.8h0M779.4 115h0M692.1 214.7h0M740.5 99h0M740.5 100.2h0M769.6 142.1h0M815.9 170.3h0M730.4 166.1h0M748.9 252.4h0M748.4 251.2h0M791.4 124.8h0M776.6 255.9h0M722.2 179.1h0M806.4 165.3h0M794.3 259.3h0M824.1 182.6h0M800.1 205.2h0M800 206.9h0M789.9 200.1h0M790.5 200.8h0M713 165.9h0M822.5 268.7h0M743.4 180.2h0M746.5 217.6h0M745.3 217.1h0M830.9 183.1h0M752.2 265.8h0M759.3 243.4h0M758.1 242.3h0M760 222.4h0M781.7 221.4h0M812.9 199.3h0M814.7 199.9h0M762.9 272.7h0M744.7 185.2h0M722 140h0M761.1 276.1h0M841.7 174.5h0M750.6 209.9h0M799.1 215.2h0M797.6 215h0M823.4 266.4h0M757.8 244.1h0M780.3 203h0M816 197.8h0M734.7 207.7h0M720.3 254.8h0M718.7 254.1h0M737.8 158.9h0M739 158.5h0M779.7 155.2h0M780.6 156.8h0M764.2 169.7h0M677.3 182h0M702.7 177.7h0M701.5 177.4h0M723.7 168.1h0M722.1 167h0M773 214.1h0M685.7 246.5h0M813.6 127.4h0M804.3 115h0M740 194.5h0M841.1 172.9h0M690.6 191.9h0M729.2 186h0M833 235.3h0M742.4 137h0M743 135.9h0M812 198.5h0M813.5 198.8h0M793.2 164.9h0M793.6 164.8h0M692.3 204.6h0M699.6 211.2h0M787.6 194.9h0M739.9 188h0M709.9 205.8h0M769.8 121.4h0M831.9 227h0M818.9 142.5h0M753.1 190.3h0M774.2 251.1h0M685.4 184.2h0M684.4 184.1h0M772.4 181.8h0M730.1 191.1h0M781.2 187.1h0M788.2 227.1h0M788.9 226.4h0M833.3 166.4h0M783.8 141h0M830.2 161.6h0M779.2 203.1h0M760.7 227.9h0M762.5 226.7h0M830.6 187.2h0M829.6 187.6h0M798.3 154.6h0M782.7 165.9h0M734.2 165.5h0M732.5 166.2h0M774.1 182.2h0M699.5 212.8h0M698.1 212.9h0M772.8 183.3h0M824 225.5h0M669.8 164.4h0M797.3 163.1h0M760 148.2h0M761.4 147h0M760.4 126.1h0M766 184.1h0M684.4 199.3h0M812.6 185.5h0M782 225.9h0M702.7 163.4h0M759.4 161h0M786.1 163.2h0M785.8 188.1h0M782.8 137h0M850.6 226.1h0M802.7 218.2h0M726.2 229.4h0M749.5 141.7h0M748.1 140.9h0M815.1 213.2h0M815.1 211.8h0M776.4 245h0M777.4 246h0M727.2 248.4h0M726 138.4h0M726.1 140h0M692.4 211.2h0M693.5 210.7h0M788.3 178.1h0M792 181h0M720 133.3h0M719.2 133h0M779.4 161.8h0M716.2 185.3h0M793.1 205.6h0M824.1 144.3h0M764.8 229.2h0M702.7 232.4h0M788.7 202.1h0M725.6 247.7h0M727.1 247.6h0M769.4 185.1h0M789.8 168.9h0M798.9 265.9h0M787.6 135.5h0M788.4 134.5h0M786.1 286.2h0M782.5 246h0M695.3 144.1h0M793.1 226.1h0M741.9 201.6h0M748.7 217.9h0M757 224.4h0M840.7 166.9h0M823.9 120.2h0M805.2 164.2h0M813.9 236.5h0M726.6 145.2h0M841.3 166.8h0M723.4 264.2h0M722.6 265h0M763.2 141.8h0M859.6 207.2h0M858.6 206.9h0M724.6 128.7h0M782 197.7h0M781.9 197.1h0M835 224.3h0M667.4 207h0M774.6 157.8h0M708.8 203.1h0M772.1 178.1h0M715.9 203h0M713.2 233.1h0M827.3 253.6h0M842.1 173h0M792.5 177.9h0M792.2 179.6h0M742.9 262.2h0M743.7 261.6h0M776.6 213h0M776.3 214.2h0M787.4 140.6h0M712 192.6h0M792.7 215.8h0M711.5 229.8h0M711 230.5h0M831.4 203.2h0M770.3 163.9h0M757.5 192.4h0M748.1 225.6h0M707.5 235.5h0M853.4 198.9h0M710.3 266.8h0M828.2 200h0M827.7 199.5h0M793.9 132.9h0M819.3 266.8h0M819.8 267.8h0M748.5 133.5h0M769.7 164.5h0M747.6 247.4h0M747.3 248.3h0M763.3 226.4h0M776.1 209.6h0M775.7 210.2h0M855.9 226.5h0M696.4 164.6h0M798.9 216.3h0M724.3 136.8h0M794.6 159h0M683.7 154.9h0M812 167.7h0M810.3 167.1h0M714 242.6h0M766.9 266.2h0M690.8 231h0M749.3 211.3h0M780.5 220.2h0M776.6 163.5h0M840.5 204.1h0M848.1 184.9h0M686.5 163.8h0M754.5 205.5h0M824.2 181.8h0M822.7 183.3h0M686.4 231.4h0M704.3 183.7h0M860.2 198.8h0M726.4 187.8h0M773.1 117.8h0M773.2 117h0M834.2 177.1h0M732.6 185.6h0M733.9 186h0M847 221.6h0M787 235.7h0M785.3 234.5h0M811.1 128.6h0M746.7 128.3h0M740.8 194.4h0M715.6 205.9h0M759 145.5h0M757.9 146.8h0M844.7 203.5h0M719.6 138.9h0M826.3 144h0M766.6 259.2h0M738 157h0M738.2 158.5h0M817.7 177.8h0M789.6 267.9h0M815.5 120.5h0M733.2 201h0M732.5 202h0M737.6 182.3h0M779 106.3h0M750.7 181.7h0M749.3 160.8h0M802.1 191.3h0M735.2 225.5h0M735.3 224h0M809.2 222.2h0M845.5 214.7h0M839.3 219.6h0M725 168h0M723.9 167h0M832.6 182.8h0M831.4 183.1h0M762.4 160.6h0M764.1 160.5h0M720.2 119.6h0M731.1 275.1h0M756.8 150h0M757.4 148.6h0M765 138.6h0M763.9 137.8h0M808.1 143.6h0M792.2 137h0M819.6 161h0M821 161.5h0M797.8 141.8h0M809.6 196.1h0M789.8 228.6h0M785.6 196.6h0M693.6 173.9h0M758.3 152.9h0M768 179.2h0M683.5 249.6h0M838.6 200.4h0M749.4 161.6h0M779.1 114.9h0M681.1 138.8h0M727.3 118.9h0M800.7 189.5h0M798.9 187.8h0M812.8 165.4h0M811.5 165.8h0M760.2 276.4h0M724.7 181.3h0M726.2 181.5h0M759 155.3h0M798 101.7h0M819.2 202.8h0M711 244.7h0M791.1 245.3h0M790 244h0M828.6 195h0M749.3 147.7h0M809 139.3h0M809.2 139.1h0M764.7 192.4h0M841.3 210.7h0M725 226.5h0M713.2 229.9h0M735 235.1h0M735.8 235h0M797.7 254.2h0M807.8 224.5h0M806.6 223.4h0M838.3 179h0M768.6 137.3h0M764.4 191.4h0M830.6 186.9h0M788.8 166.6h0M807.5 228.3h0M807.6 226.9h0M768.3 164.9h0M761.7 160.4h0M810.1 141h0M800.5 258.8h0M831.2 197h0M795.8 182.1h0M757.3 182.3h0M800.3 119h0M838 209h0M714.9 152.1h0M713.7 152.9h0M799.8 143.1h0M799.6 143.1h0M705.9 238.2h0M724.1 167.8h0M822.4 153h0M763.4 158.1h0M730.8 187.7h0M713.3 143.1h0M780.5 200.1h0M758.4 145h0M792.5 184.5h0M842.5 206.2h0M784.6 145.1h0M697.2 135.7h0M703 175.9h0M789.8 219.5h0M816.4 182.5h0M815.9 182.7h0M718.7 248.2h0M783.5 163.4h0M783.2 161.8h0M771.4 210.9h0M802.1 158.8h0M711.9 230.3h0M841.2 202.4h0M699.4 126.7h0M775.2 243.2h0M761.8 247.7h0M733.8 104.6h0M733.6 103.1h0M816.3 184.3h0M749.2 246.8h0M749.8 246.2h0M687.7 142.2h0M732.7 120h0M833.4 119.3h0M732.5 207.5h0M733 209.1h0M764.9 198.2h0M766.3 199.7h0M735.1 163.1h0M704.9 204.9h0M705.2 203.6h0M794.6 141.5h0M767.2 129.2h0M766.3 129.5h0M775.8 121.5h0M783.8 160.3h0M837.2 163.4h0M804.2 268.6h0M774.9 145h0M775.5 143.5h0M813.7 140.8h0M853.3 161.3h0M671.1 201.1h0M795.9 260.1h0M774 186.4h0M831.1 181.2h0M766.5 270.8h0M761.4 270h0M803.5 204.6h0M804.9 206.3h0M734.4 229.8h0M735.7 230.9h0M732.3 247.4h0M723.1 178h0M724.1 178.3h0M809.6 221.8h0M838.4 171.9h0M745.8 208.6h0M745.9 207h0M718 219.4h0M820.5 165.9h0M834.1 198.6h0M832.5 199.7h0M738.9 143h0M832 187.2h0M773.8 268h0M772 267h0M853.2 195.3h0M854.6 194.3h0M839 140.3h0M670 211.2h0M744 243.8h0M774.7 116.8h0M814 138.3h0M812.7 140.1h0M728.7 167.3h0M785.5 205.7h0M703 170.3h0M747.9 261.8h0M734.1 160.5h0M800.8 177.7h0M759.8 146.3h0M761.4 146.6h0M760.9 190.4h0M785.8 119.9h0M787.8 182.4h0M779.6 184.9h0M749.5 206.7h0M749.3 208.4h0M767.7 179.5h0M748 121.7h0M824.8 121.5h0M825.2 121.7h0M838.8 206.7h0M723.8 182.7h0M762.5 141h0M760.7 142.5h0M696.5 128.2h0M835.8 181.6h0M843.5 213.3h0M704.5 249.8h0M761.8 138.4h0M756.3 196.2h0M821.4 178.8h0M822.5 178.1h0M730.4 111.5h0M760.5 117.5h0M680.1 204h0M787.3 181h0M787.6 181.4h0M778.5 259.9h0M825.8 150.6h0M776 166.1h0M775.6 167.7h0M819.2 160h0M696.9 215.2h0M720 161.9h0M791.9 141.8h0M779.6 114h0M682.3 182.6h0M711.2 247.8h0M769.8 208.5h0M785.5 230h0M785.1 230h0M777.3 221.5h0M769.4 136.7h0M794.4 212h0M748.9 221.4h0M772.7 222.3h0M775.7 210.3h0M751.8 136.6h0M819.9 224.1h0M821.4 222.5h0M681.5 207.5h0M757.2 161.7h0M757.8 161.3h0M768.5 200.6h0M781 153.1h0M779.9 109.1h0M704.2 232.3h0M793.4 162.4h0M724.2 251.4h0M700.9 225.6h0M725.9 100.2h0M735.2 120h0M735.1 120.1h0M716.8 146.3h0M716.8 146.8h0M720.5 135.7h0M806.7 161.3h0M803.7 182.2h0M803.2 180.5h0M743.8 185.1h0M823.5 164.2h0M781.9 265.9h0M783.1 264.5h0M740.2 147.7h0M740.4 147.2h0M790.8 233.9h0M797.7 208.7h0M733.3 237.3h0M734.6 238h0M811.9 202.8h0M825.8 226h0M825.2 226.7h0M815 134.9h0M744.9 225.9h0M779.5 163.6h0M799 215.3h0M812.2 271h0M724.8 215h0M686.1 160.4h0M839.3 160.8h0M767.9 176.1h0M767.7 176.7h0M701.5 135h0M734.7 161.4h0M744.1 174.5h0M715 154h0M715.1 155.3h0M742.9 253.8h0M721.4 219.8h0M720.8 219.4h0M760.2 235.5h0M761.4 235.4h0M814.2 207.9h0M724.5 120.3h0M730.8 164.6h0" stroke="#0000ff" stroke-width="2" stroke-linecap="round"/>
<path d="M738.5 206h0M822.7 201.3h0M821.4 203h0M698.2 181.3h0M776.6 142.4h0M719.3 163.9h0M800.7 180.6h0M783.6 194.4h0M775 249.8h0M767.2 163h0M823 158.9h0M780.2 241.2h0M727 207.6h0M794 209.8h0M754.6 149.5h0M763.8 244.4h0M796.8 243.8h0M720.2 182.1h0M796.4 215.8h0M764.2 186.1h0M790 133.8h0M736.7 243h0M801.3 184h0M786.6 163.3h0M770.8 141.7h0M747.6 207.4h0M829.8 198.5h0M778.2 223.4h0M762.6 241.4h0M734.8 141.2h0M728.7 209.1h0M796.2 247h0M725 168.4h0M793.1 175.1h0M758.6 204.6h0M712.4 199.7h0M739.4 167.2h0M756 226.7h0M749.3 218.1h0M760.6 186.4h0M781.8 147.8h0M782.3 160.7h0M747.5 210.4h0M766.1 205.7h0M799.4 157h0M741.7 243.5h0M747.4 164.3h0M760.9 198.9h0M818.3 203.1h0M798.7 216.9h0M747.9 208.7h0M734.9 243.6h0M771.8 245.9h0M788.8 227.3h0M830 201.6h0M735.3 144.2h0M745.5 223.5h0M744.8 223h0M704.7 209.1h0M752.1 168.9h0M816.6 166.2h0M775.5 166.2h0M741.2 183.9h0M760.2 166.4h0M773.9 206.7h0M793.8 219.8h0M790.4 141.9h0M746.1 136.5h0M767.9 173h0M780.8 186.8h0M809.7 203.3h0M768 177.9h0M762.7 160.6h0M804.4 186.2h0M744.9 173.8h0M772.4 208.6h0M820.4 206.7h0M768.1 179.9h0M734.4 231.7h0M765.4 184.2h0M770 208.5h0M798.3 219.9h0M769.6 171.9h0M735.6 162.9h0M808.6 189.7h0M819 204.9h0M772.9 213.5h0M778 156.7h0M798.1 247h0M777.5 156.2h0M788.8 228.3h0M800.8 159.2h0M750.2 209h0M758.8 195.7h0M778.2 156.2h0M798.5 207.8h0M787.3 187.8h0M755.1 152.1h0M778.2 150h0M787.2 238.6h0M747.3 163.9h0M764 139.1h0M735.6 200.7h0M760.4 230.3h0M738.6 191.7h0M787.6 238.6h0M730.5 188.6h0M800.8 156.9h0M781 153.6h0M777.4 145.8h0M761.8 203.6h0M774.6 246.3h0M735.7 205.8h0M800.5 203.2h0M748.4 210.4h0M719.1 165.8h0M767.4 126.4h0M709.3 203.9h0M788.3 177.6h0M705.6 231.6h0M771.9 207.4h0M738.6 184.2h0M711.9 187.8h0M755 143.1h0M775 220.9h0M785.1 225.7h0M779.2 162.3h0M776.3 160h0M731.8 230h0M755.3 190.1h0M775.8 160.2h0M745.6 223.8h0M785.8 237.6h0M708.9 196.1h0M714.6 207.5h0M784.3 198.2h0M801 201.3h0M786.7 237.6h0M806.2 156.9h0M800.7 205.1h0M780.5 161.7h0M759.6 228.5h0M780.1 188.7h0M771.2 172.2h0M709.2 203.2h0M787.6 204.2h0M752.5 145.2h0M777.1 184.8h0M743.2 226.8h0M761 198.8h0M749.6 187.2h0M766.5 208h0M820.4 215.7h0M737.7 231.2h0M745.6 170.1h0M757.4 191.9h0M766.6 186.5h0M802.8 189.1h0M710.5 187.7h0M738.5 230.7h0M787.9 220.4h0M721 222.9h0M708.3 198.4h0M740 226.5h0M748.8 227.2h0M767.6 127.3h0M762.5 238.5h0M706 186.2h0M770.8 220.6h0M804.8 222.5h0M746.5 183.5h0M785.9 221.9h0M789.7 171.7h0M775.9 163.8h0M732.4 190.9h0M758.1 197.5h0M801.4 188.6h0M762.9 231.1h0M806.8 227.1h0M809.5 200.4h0M743.1 247.3h0M720.2 226.5h0M792.5 207.8h0M776.3 150.4h0M790.6 200h0M808.7 180.5h0M801.2 157.2h0M766.7 164h0M746 178.6h0M777 165.9h0M793.5 243.1h0M746.3 174h0M757.1 183.5h0M746.1 134.5h0M729 187.3h0M720.2 221.5h0M792.7 206.4h0M743.6 206.8h0M792.8 223.4h0M748.8 248h0M776.7 203.4h0M831.5 186.6h0M721.6 223h0M775.5 214.6h0M742 187.3h0M789.1 179.3h0M737.9 184.1h0M795.8 210.3h0M820.9 222.9h0M764.5 226.2h0M736.3 229.3h0M782.7 238.4h0M765.8 231.7h0M809.1 238.9h0M796.8 211.2h0M821.6 203.8h0M810.9 178.7h0M776.2 219.8h0M797.2 219.4h0M762.6 242.3h0M753.9 154.7h0M728.2 183.9h0M768.9 207.8h0M722 179.4h0M783.6 243.8h0M762.8 245.2h0M720.8 164.4h0M816.5 170.5h0M750.3 211.4h0M765.7 167.9h0M751.6 165.7h0M773.9 212.7h0M755.1 207.2h0M726.5 211h0M771.7 181.6h0M731.3 190.3h0M780.4 188.9h0M797.4 163.1h0M702.8 162.4h0M771.7 244.8h0M787.5 164.1h0M784.7 187.8h0M734 144.8h0M787.9 177.8h0M764.4 233.8h0M731.9 204.2h0M764.9 227.8h0M748.1 211.2h0M803.7 155h0M787.7 236.8h0M792.2 137.9h0M789 168.6h0M705.4 183.3h0M799.2 223.3h0M749.2 222h0M798.9 182.1h0M776.2 158.4h0M788.1 140.8h0M776.5 201.9h0M771.4 165.6h0M771.5 163.5h0M757 194h0M770.5 213.7h0M768.6 166h0M763.3 225.8h0M741.5 203.5h0M747.5 211.3h0M777.6 162.4h0M756.2 206.6h0M757.2 231.5h0M763.2 240.3h0M727.6 187.4h0M738.1 157.5h0M729.2 189.7h0M740.3 194.4h0M816 177.5h0M772.5 164.2h0M814.6 178.3h0M752.1 180.7h0M708.9 184.8h0M752.6 165.3h0M752.2 146.4h0M804.3 200.9h0M808.2 195h0M749.1 182.3h0M786.7 198.3h0M730.8 208.3h0M767.7 179.5h0M771.6 183h0M784.5 240.4h0M768.8 138.5h0M785 226.1h0M831.2 187.9h0M790.1 168.3h0M789 203.5h0M790.4 203.9h0M832 196.1h0M795.6 182.3h0M737 149.7h0M761.3 189.9h0M813.6 206.3h0M743.8 247.4h0M711.4 192.4h0M738.1 228.9h0M764.5 242.2h0M779.8 199.3h0M733.9 236.2h0M792.6 136h0M798.9 140.4h0M801.4 160.2h0M736.5 195h0M792.8 140.2h0M752.8 246.5h0M773.7 203.3h0M750.7 250.3h0M828.7 182.8h0M742.9 165.3h0M782 143.3h0M727.6 167.1h0M803.2 159.1h0M782.8 204.8h0M824.5 197.3h0M763.2 244.2h0M812.1 164.6h0M735.3 234.5h0M799.2 215.7h0M721.5 182.9h0M779.3 141.2h0M724.3 183.9h0M815 174.5h0M789.4 164.2h0M753.6 182.5h0M758 194.9h0M793.5 138.6h0M742.1 204.5h0M801.7 148.3h0M796.3 246.1h0M771.3 207.2h0M794.5 219.6h0M745.3 247.6h0M773.7 223.2h0M773.9 209.2h0M799.2 203.2h0M715.4 209.3h0M767.5 201.8h0M735.6 193.9h0M791.4 243.8h0M721 134.4h0M739.8 194.7h0M757.5 159.7h0M805.4 195.6h0M744.7 186.6h0M746.5 166.6h0M813.2 201.6h0M746.2 225.3h0M734.6 164.1h0M798.4 213.7h0M725.2 213.2h0M816 206.2h0" stroke="#0000ff" stroke-width="2.5" stroke-linecap="round"/>
<path d="M763.2 188.2h0M785.1 201.2h0M773.9 209.3h0M813.3 244.4h0M691 181.2h0M726.4 184.1h0M805.4 154.6h0M792 176.9h0M775.9 224.5h0M759.4 163.4h0M696.5 209.3h0M825.8 196.2h0M771.6 180.7h0M728.2 209h0M782.1 227.4h0M728.9 184.6h0M731.9 207.9h0M729.2 203.6h0M831.3 200.8h0M775.6 180.8h0M780.5 195.3h0M820.3 181.5h0M762 142.4h0M771.1 202.6h0M729.1 184.1h0M753.4 118.5h0M783.2 203.2h0M774.4 145.7h0M739.5 163.5h0M731.4 203.3h0M764.8 245.7h0M750.1 139.5h0M737.3 226.2h0M708.5 194.7h0M736.6 191.2h0M735.1 155h0M780.1 184.1h0M790.1 242.3h0M802.6 196.7h0M757.8 187.1h0M793.7 173.3h0M738.9 189.3h0M762.7 236.1h0M758.3 203.4h0M763.1 184.1h0M753.9 148.8h0M763.9 124.9h0M815.7 166.2h0M738.8 209.1h0M724.6 207.6h0M745.9 224.5h0M751.1 224.2h0M747.1 182.6h0M786 267.4h0M759.2 239.2h0M804.1 191.1h0M782.6 230.2h0M800.3 152.5h0M802.8 140.8h0M736.6 149.7h0M779.2 202.2h0M749.6 207.2h0M794.3 222.2h0M841.2 228.2h0M796.1 204.3h0M713.2 162.8h0M768.5 122h0M699.4 214.9h0M740.8 229.3h0M728.3 250.4h0M773.3 176.6h0M742.2 206.8h0M750.3 212.4h0M752.9 162.5h0M712.2 233.5h0M758.7 186.5h0M830 200h0M737.7 198.8h0M766.6 162.7h0M710.3 158.1h0M769.6 186.6h0M787.5 140.7h0M746.2 209.7h0M738.2 190h0M790.2 230.2h0M803.7 151.6h0M798.3 208.7h0M789.6 161.2h0M818.6 176.7h0M786.3 178.9h0M749.2 179.3h0M744.8 207.4h0M741 227.4h0M807.8 178.6h0M752 165.2h0M733.1 199.5h0M724.8 182.6h0M754.3 223.8h0M785 190.7h0M782.9 185.6h0M745.4 169.2h0M792.2 169.7h0M783.4 202.8h0M722.8 206.8h0M813.3 200.2h0M741.7 162.1h0M697.9 168.8h0M818.4 176.8h0M784.1 201h0M746.9 180.9h0M798.5 144h0M718.5 163.6h0M759.4 187.5h0M724.9 225.7h0M824.4 159.1h0M747.9 166.3h0M759.3 206.2h0M776.9 158.7h0M794.2 207.6h0M811.2 239.2h0M805.9 157.2h0M726.5 218.3h0M794.1 166.2h0M804.6 223.3h0M779.8 201.7h0M735.4 198.6h0M760.4 153.4h0M767 165.5h0M802.1 148.9h0M790 226h0M702.6 212.9h0M759.1 161.6h0M771 265.3h0M732.2 190.9h0M774.4 222.4h0M736.1 193.7h0M805 182.6h0M780.1 197.8h0M722.9 173.4h0M785.7 199.9h0M738.7 163.9h0M781.5 183.5h0M770.7 203.1h0M796.8 211.5h0M740.8 188.1h0M738 189.3h0M767.6 132.9h0M744.6 206.1h0M806.1 243h0M735.4 197.1h0M772.5 211.6h0M723.2 167.1h0M774.5 205.9h0M742.5 130.7h0M801.1 188.8h0M791.1 238.8h0M836.3 200.6h0M744.7 204.3h0M739.7 203.2h0M747.3 217h0M798.5 218.1h0M733 161.3h0M694.6 224.7h0M778.8 223.9h0M763.7 228.1h0M783 182.1h0M801.1 184.6h0M726.8 206.6h0M763.1 224.9h0M810.9 227.8h0M784.4 186.1h0M752.2 149.6h0M810.8 168.9h0M790.8 163.2h0M726.4 181.5h0M773.2 164.1h0M794.8 218h0M757.3 160.6h0M794.9 163.3h0M783.4 201.5h0M758.5 193.8h0M765.5 239.6h0M782.7 191h0M762.7 144h0M739.6 199.1h0M774.2 167.8h0M782.5 185.1h0M769.8 172.2h0M764.7 163.8h0M723.7 139.6h0M800.4 185.8h0M737.3 186.1h0M803.9 191.5h0M719.4 169.1h0M768.7 185.2h0M746.5 184.1h0M760.4 202.5h0M727.1 188.2h0M798.4 151h0M779.1 148.5h0M748.3 209.2h0M772.5 221h0M757.9 229.9h0M754 204.4h0M798.1 208.5h0M801.3 156.9h0M736.7 150.2h0M783.3 226.3h0M735.8 205.7h0M750.5 247.8h0M769.3 247.3h0M790.7 222h0M784.5 183.2h0M786.5 243.6h0M765.5 167.1h0M798 119h0M775.3 223.6h0M736.3 159h0M768.2 167.5h0M726.1 180.6h0M694.6 217h0M754.9 151h0M766.2 124h0M786.9 181.4h0M754.5 184.7h0M759.4 197.6h0M751.5 209.4h0M734.9 159.7h0M737.5 205.4h0M764.6 241.7h0M788.7 132.4h0M748.6 181.7h0M804.7 183.6h0M804.2 227.2h0M746.5 166.4h0M782.7 188.9h0M781.6 186.7h0M794.2 177.5h0M728.6 162.4h0M764 202.6h0M766.5 167.8h0M695.9 176.2h0M803.6 205.4h0M766.3 223.4h0M797.6 208.6h0M762.9 200.1h0M745.2 171.3h0M759.5 228.3h0M772.4 218.1h0M707.8 207.3h0M804.2 197.4h0M777.7 221.7h0M752.5 226.7h0M747.6 255.6h0M803.5 190.1h0M801.5 200.6h0M712.4 207h0M738.9 142.3h0M785 222.6h0M807.9 229.6h0M760.9 230.1h0M787.7 226.5h0M808.7 228.7h0M721.8 208.7h0M732.4 160.5h0M763.1 138.5h0M736.4 187.5h0M750.8 222.3h0M767.5 168.6h0M758.6 156.6h0M798.3 146.4h0M779.8 203.5h0M737.7 145.2h0M736.1 160.3h0M785.6 227h0M806.4 189.4h0M779.4 153.6h0M742.7 139.6h0M734.9 190.5h0M813 168.9h0M736.2 229.7h0M768.1 170.7h0M776.4 213.6h0M736.8 189h0M710.4 244.7h0M752.1 183.2h0M795.6 201h0M751.9 183.9h0M809.7 143.3h0M732.3 145.3h0M753 206.3h0M774.5 217.5h0M812.8 163.4h0M775.9 204.5h0M745.4 183.6h0M777.3 219.2h0M779.4 219.2h0M782.3 144.9h0M775.3 266.8h0M807.3 161.5h0M722.5 185.2h0M744.4 228.2h0M748.8 246.5h0M830 196.4h0M773.8 220.1h0M780.3 225.8h0M785.4 233.1h0M781.7 196.7h0M717.3 211.6h0M740.5 246.2h0M745 208.9h0M738.5 204.5h0M746.8 165.6h0M794.1 180.6h0M816.1 180.2h0M731.5 157.4h0M808.6 201.2h0M761.2 194.4h0M788.2 135.3h0M743.2 220.5h0M728.4 142.6h0M737 239.8h0M748 219.8h0M756.8 158.8h0M744.8 185.7h0M712.7 156h0M734.7 145.1h0M739.8 196.1h0M773.7 211.7h0M803.3 243.2h0M778.2 145.9h0M806.3 194h0M804.8 184.8h0M747 176.7h0M751.6 224.6h0M788.1 232.1h0M773.4 208.9h0M734.8 160h0M720 165h0M721.8 181.9h0M783.7 190h0M761.2 141.1h0M712.9 200.5h0M725.4 186.5h0M768.9 177.9h0M799.4 178.5h0M779.9 158.5h0M750.6 176.1h0M762.7 161h0M771.8 204.4h0M708.1 233.2h0M748.4 262.1h0M787.9 222.6h0M790 205.3h0M783.7 230.4h0M772.1 220.2h0M792 174.8h0M798.1 164h0M739.3 189.3h0M782.2 186.7h0M762.6 142.5h0M797.9 222h0M781 243.3h0M722.4 168.4h0M697.8 162.6h0M818.5 180.5h0M794.5 218.2h0M766.8 224.3h0M785.6 162.8h0M775 204.8h0" stroke="#0000ff" stroke-width="3.5" stroke-linecap="round"/>
<path d="M763.4 188.6h0M763 187.8h0M785.9 200.5h0M784.4 201.1h0M774.5 209.3h0M813.6 244.5h0M690.5 182h0M726.3 183.5h0M805.2 154.1h0M805.3 154.5h0M792 176.9h0M792 176.7h0M776.5 223.8h0M758.8 163.2h0M696.5 209h0M826.2 196.6h0M772 179.8h0M772.3 180.2h0M728.2 208.2h0M782.9 227.4h0M781.6 228.2h0M729.3 184.7h0M732.4 208h0M732.2 208.5h0M730.1 203.2h0M830.5 200.3h0M775.1 180.9h0M780.2 194.5h0M820.4 181.3h0M762 142.2h0M762.6 141.9h0M770.9 202.3h0M728.3 183.4h0M729.2 184.8h0M752.6 117.8h0M752.6 117.9h0M783.4 202.7h0M774.3 144.9h0M775.3 145.9h0M740.2 164.1h0M730.7 203.9h0M765.6 246.3h0M765.4 245.7h0M750.3 139h0M736.5 226.5h0M737.6 226.3h0M707.9 194h0M737 190.8h0M737.2 190.6h0M734.5 154.5h0M734.4 155.2h0M779.6 184.2h0M789.9 242.5h0M801.9 196.6h0M758.5 187h0M758.7 187h0M794.6 173h0M738.6 189.9h0M762.3 235.2h0M762.5 235.9h0M758.4 204.2h0M759.1 202.9h0M763.3 185h0M753.2 148.9h0M753.7 149h0M764.1 124.8h0M763.9 125h0M815.5 166.7h0M815.7 165.9h0M738.8 209.3h0M738.3 209.7h0M724.6 207.8h0M746.3 223.7h0M751.7 224.4h0M746.4 182.8h0M785.4 266.7h0M759.5 239.5h0M803.2 192h0M782.2 230.2h0M782.6 229.4h0M800.3 153.1h0M799.8 151.9h0M802.6 140.1h0M737 150.2h0M779.3 201.5h0M749.5 206.8h0M749.9 206.4h0M794.7 222.9h0M841.5 227.5h0M841.4 227.4h0M795.8 204h0M712.8 163.1h0M769.2 122.7h0M700.1 214.3h0M699.6 214.9h0M741.4 229.1h0M727.4 250.8h0M773.6 175.8h0M773.1 176.8h0M741.7 206.6h0M741.8 206h0M749.6 211.6h0M753.4 162.7h0M711.8 234.2h0M758.6 186.4h0M758.4 185.6h0M829.6 199.3h0M738.3 199.5h0M766.9 162.4h0M767 163.5h0M710 158.3h0M709.8 158.2h0M768.9 186.3h0M787 141h0M746.2 209.4h0M747 209h0M738.2 189.8h0M738.3 190.1h0M790 229.7h0M803.9 151.3h0M804.2 151.3h0M798.4 208.1h0M798.4 209.5h0M789.9 160.8h0M819.1 177.4h0M819 177.2h0M785.6 179.8h0M786.8 178.2h0M749.5 179.8h0M745.7 206.8h0M740.9 227.7h0M741.4 228.1h0M807 178.4h0M752.7 165.6h0M751.4 164.9h0M734 199.9h0M733.8 200.4h0M724.4 182.3h0M724.5 182.8h0M755.1 223.6h0M755.1 223.5h0M784.8 190.4h0M782.6 184.9h0M783.7 186.3h0M744.9 168.5h0M745.8 169.2h0M792.7 168.8h0M782.9 202.2h0M783.6 202.5h0M723.4 206.6h0M813.8 201.1h0M742.3 162.4h0M697.8 168.9h0M697.1 169.3h0M818.3 176h0M783.7 200.3h0M746.6 180.5h0M747.5 180.9h0M798.4 144.9h0M719.2 163.8h0M758.9 188.3h0M724.9 226.2h0M725.3 225.8h0M825.2 158.4h0M824.3 159.3h0M748.7 166.8h0M759.3 207h0M758.8 206.7h0M776.1 158.1h0M794.9 208h0M812 238.6h0M805.1 157.9h0M726 217.7h0M726.2 217.4h0M793.8 166.7h0M794.3 166.1h0M805.2 222.5h0M804.5 223.3h0M779.1 202.1h0M780.1 201.6h0M735.2 198.5h0M759.6 153.6h0M760.8 153h0M767.7 166h0M802 149.5h0M789.3 225.1h0M703.3 213.5h0M703.4 213.1h0M758.5 161.7h0M758.2 160.8h0M770.4 265.8h0M771 265h0M731.7 190.7h0M732.6 190.5h0M774.3 223h0M775.1 223.2h0M735.8 194.6h0M735.6 193.3h0M805 182.4h0M805.3 181.8h0M779.8 198h0M723.4 174.2h0M785.6 199.6h0M785.8 199.6h0M739.1 164h0M739.5 163.8h0M782.4 183.6h0M781.2 183.1h0M770.1 202.2h0M797.5 210.9h0M796.8 211.2h0M741.6 188.5h0M740.7 188.4h0M738.3 188.8h0M767.1 132.5h0M745 205.7h0M745.2 206.8h0M805.7 243.7h0M805.9 243.8h0M734.9 196.4h0M735 197.9h0M771.6 212.4h0M772.9 210.9h0M722.9 167.5h0M774.1 206.3h0M742.9 131.5h0M801.4 188.8h0M791.3 238.8h0M837.2 200.7h0M745.5 203.6h0M745 204.9h0M740.3 202.5h0M738.8 203.2h0M747.1 217.8h0M798.5 217.6h0M798.7 218.3h0M732.8 160.8h0M695.2 225h0M778.9 223.5h0M763.9 228.8h0M763.7 228h0M783.1 182.9h0M801.7 185.4h0M727.2 206.7h0M727.4 206.7h0M763.8 225.7h0M811.1 227h0M783.8 187h0M752.3 150.1h0M752.3 149.4h0M811.4 168.5h0M810.3 169.5h0M791.6 163h0M726.9 181h0M773.8 163.6h0M773.6 163.9h0M794 218.1h0M757.2 160.5h0M756.8 160.9h0M794.2 163.6h0M794.3 163.9h0M783.6 201.3h0M783.4 201h0M759.3 194.5h0M764.8 240h0M781.9 191.1h0M762.1 144.3h0M740.3 199.3h0M739.6 199.8h0M774.8 167.1h0M782.6 184.7h0M782.5 185.4h0M769.2 172.9h0M765.6 163.8h0M764.6 164.3h0M724.2 139.9h0M799.8 186.6h0M800.1 186.3h0M736.7 186.1h0M737.4 186h0M804.2 192.1h0M719.1 169.6h0M768.4 186h0M745.9 184.2h0M747.2 184.5h0M760.9 203h0M760.5 203.4h0M726.5 188.5h0M797.9 150.5h0M779.1 148.4h0M778.3 147.9h0M747.7 208.8h0M748.1 209.1h0M771.7 221.9h0M773.1 221.1h0M757.5 229.7h0M758.6 229.5h0M754 204h0M753.2 204.3h0M797.3 207.8h0M797.6 209.1h0M800.8 157.7h0M801.9 156.8h0M737.3 149.9h0M736.4 149.5h0M783 226.6h0M783.3 225.5h0M735.6 205h0M751 247.8h0M770.1 246.5h0M769.6 247.8h0M789.9 221.6h0M790.3 221.4h0M784.4 182.4h0M784.6 183.6h0M786.3 244h0M786.1 243.8h0M765.1 166.7h0M797.8 118.2h0M798.9 119.7h0M775.9 223.8h0M775.9 223.1h0M735.6 158.9h0M768.2 167.7h0M725.8 180.8h0M694.7 216.4h0M754.9 151.1h0M766.3 124.3h0M786.1 181.2h0M754.3 184.5h0M759.1 198.2h0M760 197h0M752 209.4h0M752 209.1h0M734.8 159.8h0M736.7 205.4h0M763.9 241.1h0M765.3 242.1h0M789.1 132h0M749.1 181.4h0M749.2 182.5h0M804.7 183.7h0M804.6 227.4h0M804.3 227.8h0M745.9 166.8h0M747.3 166.2h0M782 189.6h0M781.5 186.1h0M781.3 185.9h0M794.7 178h0M794.6 178.2h0M729.2 162.4h0M728.3 162.9h0M763.4 202h0M764.4 203.4h0M765.9 168.6h0M766.7 167.5h0M696.5 176.6h0M696.2 176.3h0M803.9 206.1h0M767 224h0M766.3 223.9h0M798 208.2h0M797.3 208.1h0M762.3 199.6h0M745.8 171.1h0M745.8 171.7h0M760 229.2h0M772 218.7h0M771.9 218.7h0M707.9 207.1h0M707.2 208h0M804.5 198.1h0M778.2 222.3h0M778 221.4h0M752 227.5h0M748.4 255.7h0M803.5 189.5h0M800.8 201h0M712.7 206.4h0M712 206.9h0M739.6 142.3h0M738.6 142.1h0M784.9 223h0M784.5 223.2h0M807.6 229.7h0M808.4 228.8h0M760.6 229.8h0M760.7 230.8h0M786.9 225.7h0M786.9 226.8h0M809.2 227.9h0M721.3 208.3h0M720.9 209.3h0M733.2 160.5h0M762.6 139.2h0M762.6 138.8h0M737.2 188.1h0M749.9 222.4h0M767.9 168.5h0M766.8 168.7h0M758.9 156.2h0M758.7 156.9h0M798.4 147h0M780.6 203.4h0M780.6 203.3h0M737.4 146.1h0M736.4 161h0M786.4 227.1h0M786.3 227.8h0M805.5 189.5h0M780.2 153.5h0M778.8 152.9h0M741.9 139.8h0M734.1 190h0M813.4 168.3h0M736.9 229.4h0M736.4 230h0M768.3 170.8h0M768.3 170.9h0M777.1 214h0M777.2 212.8h0M737.5 188.9h0M736.3 188.2h0M711.2 243.9h0M709.8 245.6h0M752.5 182.3h0M752.7 182.5h0M795.9 201.2h0M795.5 200.8h0M751.2 184.2h0M809.8 143.6h0M733.1 145.4h0M753.5 206.7h0M753.3 205.5h0M774 216.9h0M774.1 217.2h0M812.7 163.9h0M813.4 164.2h0M775.8 203.9h0M744.8 183.5h0M777.6 219.2h0M778.1 218.6h0M778.6 218.4h0M783 145.2h0M781.8 144.3h0M775.5 266.3h0M807.5 162.1h0M807.3 161.2h0M722 184.3h0M744.6 228.7h0M743.7 227.7h0M749 247.2h0M749.5 245.7h0M829.5 196.3h0M829.7 195.9h0M774.1 220.1h0M779.9 225.4h0M784.6 233.6h0M784.6 233.1h0M781.1 197.6h0M717.6 211.9h0M740.1 245.6h0M739.7 246.3h0M744.3 208.3h0M738.4 204.8h0M746.1 165.9h0M794.4 180h0M815.4 180.2h0M730.7 156.7h0M808 201.4h0M809.2 201.6h0M761.5 193.6h0M789 135.7h0M788.1 134.8h0M743.8 220.9h0M743.1 221.1h0M729.3 143.4h0M729 142.5h0M737.2 239.8h0M747.9 219.2h0M747.6 219.9h0M757.7 158h0M756.7 158.7h0M744 185.9h0M712 155.4h0M734.5 145.3h0M735.1 144.8h0M739.1 196.6h0M774.5 212.1h0M773.3 212.2h0M802.4 243h0M802.6 242.3h0M778.9 146.3h0M777.7 145.7h0M805.8 194.3h0M805 184.9h0M746.9 176.2h0M746.8 177.3h0M751.3 224.2h0M788.3 231.6h0M788.6 232.1h0M774 209.4h0M734.5 160h0M719.6 164.5h0M719.8 164.5h0M721.9 181.3h0M722.3 182.1h0M783.9 189.6h0M761.3 140.3h0M712 200.1h0M726.3 186.1h0M725.8 186.7h0M768.8 178h0M768.6 177.9h0M798.6 178.6h0M780.6 157.9h0M751.1 176.3h0M750 176.7h0M763.4 160.5h0M771.3 204.6h0M771.4 203.6h0M708.5 233.8h0M748.4 262.7h0M748.9 262.3h0M788.1 222h0M790.5 206h0M789.9 205.1h0M782.9 230.1h0M772.2 220.2h0M772.8 220.8h0M792 175.4h0M791.7 175.5h0M798.3 164.8h0M740 189.2h0M738.9 189.5h0M782.4 186.5h0M782.7 185.8h0M763.1 142.8h0M762.8 141.7h0M797.8 221.9h0M781 242.4h0M780.6 242.8h0M722.2 168h0M698.6 162.9h0M818.7 180.3h0M818.9 180.2h0M794.1 218.9h0M766.6 224.4h0M786 163.6h0M785.3 162.3h0M775.2 204h0" stroke="#00e600" stroke-width="2" stroke-linecap="round"/>
<path d="M763.3 188.1h0M690.9 180.8h0M726.7 184.6h0M805.4 154.1h0M792.5 177.4h0M826.2 196.1h0M772 180.6h0M781.6 227.1h0M729.3 184.1h0M729.2 203.4h0M775.4 181.2h0M729.2 184.3h0M783.3 202.8h0M774 145.9h0M739.1 163.4h0M731.3 203.8h0M708.5 194.5h0M735.6 155.4h0M779.8 184.7h0M802.2 196.2h0M757.7 187.1h0M793.9 173.3h0M758 203.8h0M763.3 183.6h0M763.9 124.6h0M816.1 166.1h0M724.1 207.4h0M746.2 224.3h0M747.4 182.2h0M786 267.1h0M759.5 239.2h0M782.6 230.7h0M802.4 141.4h0M778.8 202.3h0M712.8 162.2h0M728.1 250.2h0M742.1 207.1h0M753.5 162.1h0M711.8 234.1h0M758.5 186.6h0M830 200h0M767 162.3h0M769.2 186.9h0M738.2 190.4h0M790.8 229.6h0M803.4 151.1h0M786.6 178.4h0M744.6 207.5h0M741 226.9h0M807.8 179.2h0M751.9 165.2h0M733.5 200.1h0M724.2 182.9h0M754.7 224.2h0M782.7 185.8h0M783.4 203.1h0M722.9 207.2h0M817.8 176.5h0M784.6 200.6h0M798 143.6h0M718 163h0M824.1 158.9h0M758.9 206.8h0M776.9 158.2h0M794.2 207h0M811.8 238.6h0M805.8 156.6h0M726.4 218.7h0M794 165.6h0M760.3 153.6h0M767.5 165.1h0M770.4 265.9h0M804.6 182.2h0M780 197.7h0M785.1 200.5h0M770.3 203.4h0M796.4 211.1h0M741.1 188.6h0M738.2 189.8h0M744.8 206.2h0M735.6 197.6h0M723.4 167h0M774.6 205.5h0M801.4 188.3h0M791.6 238.6h0M836 201h0M744.3 204.7h0M740.2 203.1h0M732.9 161.1h0M695 225.3h0M778.4 223.6h0M801.4 184.2h0M727 207h0M762.9 224.8h0M783.9 186.7h0M752.3 149.5h0M795.2 163h0M783.3 201.6h0M765.7 239.5h0M739.2 199.1h0M774.5 167.2h0M782.8 185.1h0M770 171.7h0M764.6 164.3h0M724.2 140h0M800.9 185.7h0M737.4 186.2h0M719.1 169.2h0M768.8 184.7h0M747.1 184h0M760.3 202.3h0M727.1 187.7h0M798.4 151.4h0M779.7 149.1h0M783.6 226.5h0M735.3 205.9h0M769.4 247.5h0M790.5 222.3h0M784.9 182.7h0M786.5 243.6h0M765.6 166.7h0M775.6 223.8h0M725.9 180.1h0M766.3 124.3h0M786.3 181.6h0M754.5 184.2h0M765.1 241.2h0M748.2 181.8h0M804.2 183.2h0M746.6 166.4h0M781.9 186.7h0M794 177.5h0M728 162.1h0M766.6 167.7h0M797.1 208h0M759.4 228.9h0M804 198h0M777.1 221.5h0M752.5 226.6h0M747.2 255h0M803.9 189.6h0M807.4 229.7h0M760.5 229.8h0M787.7 226.7h0M722 208.2h0M737.7 144.7h0M736.5 160.8h0M806.5 188.8h0M779.3 153.2h0M742.7 139.7h0M735 190.9h0M735.7 229.2h0M776.7 213.4h0M736.6 189h0M752.6 183.5h0M796.1 200.4h0M751.9 184.3h0M753.5 206.3h0M779.8 219.5h0M807.9 161.4h0M780.5 225.7h0M785.8 233h0M740.3 246.1h0M746.3 165.1h0M794.4 180.3h0M808.2 200.8h0M788.6 135.9h0M727.9 142.7h0M737.3 240.1h0M756.5 158.2h0M735.3 145.2h0M739.6 195.9h0M773.6 211.9h0M803.7 243.7h0M778.8 145.6h0M805.9 193.7h0M805.3 184.5h0M747.1 176.5h0M719.8 165.3h0M784.1 190h0M761.3 141.4h0M769.2 177.4h0M799.9 178.6h0M779.4 158.3h0M771.6 204h0M708.6 233h0M748.3 261.9h0M784.2 229.9h0M798.5 163.4h0M738.8 189h0M762.5 142h0M818.7 180.1h0M794.9 218.6h0M767.4 224.4h0M774.7 205h0" stroke="#008c00" stroke-width="1.5" stroke-linecap="round"/>
<path d="M813.7 245h0M759.6 163.9h0M825.6 196.3h0M728.7 184.1h0M729.7 203.9h0M780.9 195h0M820.6 181.5h0M782.9 203.6h0M739.5 163h0M764.6 245.6h0M750.5 139.4h0M737.7 226.2h0M790.2 242.4h0M802.8 196.4h0M738.7 189.2h0M762.7 236.6h0M754.3 149.1h0M815.7 166.6h0M747.2 182.7h0M803.6 191.2h0M779.7 202.6h0M749.3 207.1h0M768 121.5h0M698.9 214.6h0M773.4 176.7h0M746.5 209.4h0M797.9 208.3h0M789.8 160.8h0M749.1 179.7h0M807.5 178.9h0M791.7 169.6h0M783.6 202.3h0M746.4 181.3h0M776.8 158.1h0M811.2 238.9h0M726.1 218.8h0M804.4 222.9h0M760.5 154h0M758.7 161.9h0M731.8 190.5h0M774.3 222.5h0M735.9 193.3h0M804.9 182.7h0M780.4 198.1h0M796.4 211.1h0M740.7 188h0M744.5 205.5h0M735.2 196.6h0M742.6 130.3h0M791.5 239.1h0M732.6 161.5h0M763.3 227.9h0M783.5 182.5h0M726.7 206h0M751.8 149.7h0M794.7 217.6h0M783.9 202.1h0M758.6 193.8h0M773.6 167.2h0M783 185.2h0M764.6 164.3h0M800.2 185.4h0M769.1 185.1h0M726.8 187.8h0M754.6 203.8h0M801.6 156.7h0M737 150.7h0M769 247.3h0M784.2 183.4h0M765.2 167h0M736.4 159.6h0M768.6 167h0M694.4 216.7h0M752 209.5h0M735.2 160.1h0M764.5 242.2h0M788.5 132.1h0M804.1 227.7h0M746.5 166.5h0M794.7 177.9h0M728.4 161.9h0M765.9 168h0M763.2 199.8h0M759.4 228.5h0M708.1 207h0M804.7 197.3h0M778.3 222.1h0M800.9 200h0M712.6 206.9h0M787.6 226.8h0M808.3 228.9h0M732.7 160.5h0M750.9 222.6h0M768.1 168.8h0M737.4 145.6h0M785.2 227.1h0M805.8 189.4h0M768.5 170.3h0M752 184.2h0M752.5 206.9h0M778.9 219.6h0M775 266.9h0M773.8 220.4h0M780.3 225.3h0M716.8 211.5h0M739 203.9h0M794.3 180.5h0M731.1 157.1h0M742.6 220.5h0M737.3 240.2h0M745.3 185.3h0M805.9 193.5h0M788.3 232h0M734.8 160h0M783.1 189.8h0M725.9 186h0M769.1 178.2h0M799.9 178h0M780.1 158.4h0M762.4 161.4h0M748.1 262h0M787.6 223h0M783.5 229.8h0M798.5 163.4h0M738.8 189.9h0M767.1 224.4h0M774.5 205.1h0" stroke="#e00000" stroke-width="1.5" stroke-linecap="round"/>
<path d="M276.3 663.1h0M257.4 507.4h0M306.7 636.1h0M236.8 643.2h0M224.6 629.5h0M150.2 568.6h0M329.5 540.4h0M277.8 660.8h0M189.9 504.9h0M230.2 511.9h0M245 664h0M256.2 502.1h0M326.6 609.7h0M330.4 552.3h0M180.7 498.8h0M254 660.3h0M171.6 605h0M311.3 505.5h0M207.6 517.9h0M198.8 516.2h0M210.8 508.2h0M270.1 485.3h0M287.5 659.3h0M249.1 638.8h0M194.4 620.4h0M270.5 632.9h0M305.3 589.3h0M164.8 535.2h0M283.2 515.8h0M178.7 576.4h0M272.3 642h0M264.6 504.4h0M229.6 630.7h0M318.9 572.3h0M336.1 571.1h0M278.8 641.8h0M265 634.9h0M216.2 500.8h0M334.3 580.3h0M271.7 497.1h0M324.3 517.1h0M184.8 535.2h0M303 536.7h0M226 653.5h0M206 508.7h0M181.4 519.8h0M172.3 509.5h0M239.8 636.8h0M319 566.7h0M255.2 668.1h0M171.5 594.6h0M220.3 643.1h0M325.7 599.9h0M279.3 621h0M333.9 544.3h0M304.9 572.5h0M262.5 664.2h0M188.3 508.6h0M269.5 518.7h0M169.6 575.7h0M335 540.7h0M256.4 648.6h0M318.5 599.5h0M247 491.2h0M153.1 561.1h0M293.9 538.4h0M193.5 639.5h0M290.8 639.4h0M252.7 507.7h0M167.6 592.7h0M212.6 519.2h0M285.8 508.4h0M198.1 643.8h0M263.2 513.4h0M303.4 598.4h0M333.8 580h0M190.2 527.9h0M342.3 566.9h0M317.2 614.6h0M179.2 530.2h0M323.1 574.1h0" stroke="#1010ff" stroke-width="1.5" stroke-linecap="round" stroke-opacity="0.55"/>
<path d="M210.8 501.5h0M164.5 588.7h0M234.2 501.5h0M223.3 482.2h0M234.8 636.7h0M264 627.7h0M189.3 613.2h0M147.5 579.4h0M252 667.9h0M175.8 575.4h0M289.1 504.8h0M191.6 643.9h0M200.4 507.8h0M284.4 496.8h0M320 628.6h0M241.8 652.2h0M156.6 567h0M165.2 599.6h0M281.4 650h0M168.6 527.9h0M277.7 496.9h0M194.8 626.4h0M152.3 600.4h0M325.1 564.8h0M159.8 546.6h0M290.2 521.2h0M201.4 632.8h0M173.5 521.7h0M211.3 501.1h0M305.7 529.2h0M183.1 551.6h0M260.2 649.6h0M176.3 515.8h0M302.3 556.2h0M300.8 592.8h0M165.6 546.8h0M310.9 578.8h0M309.7 537.2h0M162.7 557.2h0M184.1 558h0M170 593.4h0M294.7 643.5h0M245.8 665.6h0M200 650.2h0M157.7 545.4h0M175.5 582.2h0M183.8 559h0M275.7 492h0M156.3 592.3h0M329 542.6h0M180.1 553.7h0M273.9 642.8h0M280.5 624h0M271 516.7h0M148.7 584.6h0M308.9 613.2h0M333 611.3h0M327.6 523.1h0M322.9 583.3h0" stroke="#1010ff" stroke-width="2" stroke-linecap="round" stroke-opacity="0.55"/>
<path d="M266.2 588.9h0M166 572.6h0M202.7 545.2h0M260 513h0M185.8 626h0M309.2 551.7h0M192.6 495.3h0M179.6 584.2h0M247.4 629h0M273.8 532.4h0M282.2 609.6h0M273 580.1h0M237.4 609.2h0M316.4 629.1h0M193.2 579.6h0M245.8 648.3h0M248.2 538.9h0M187.6 602.8h0M311.9 586.6h0M244.5 567.9h0M289.7 615.5h0M272.8 522.4h0M242.4 592.8h0M299.1 532h0M263.9 538.9h0M179.9 558.5h0M315.2 570h0M216.3 525h0M265 637h0M195.6 546.7h0M211 515h0M317.2 595.6h0M293.1 532.9h0M232.7 512.6h0M229.8 499.6h0M297.9 582.8h0M175.2 562.5h0M299.3 597.8h0M281.4 639.1h0M255.4 586.8h0M183.9 622.3h0M216.5 648h0M194.8 604.1h0M192.2 540.9h0M296.9 528.8h0M167.3 585.2h0M305.6 566.2h0M227.7 592.6h0M191.6 560.7h0M292.2 499h0M210.9 555.4h0M182.6 601h0M236.2 576.3h0M236.1 535.2h0M258.7 516.8h0M290 524.2h0M273.1 598.6h0M305.1 529.6h0M243.2 667.1h0M227.5 624.5h0M160.4 547.8h0M220.3 543.6h0M287.9 622h0M258.6 640.6h0M184.6 634.2h0M317.5 600.7h0M246.1 618.6h0M251.8 513.9h0M227.2 611.7h0M228.5 564.1h0M232.6 489.3h0M303.8 646.9h0M180.2 544.4h0M312.1 588.8h0M332.5 572.1h0M321.7 583h0M191.4 606.6h0M304 629.2h0M168.8 538.9h0M309.1 511.9h0M174.3 606.1h0M286.2 576.5h0M280.7 492.8h0M274.4 594.8h0M177.8 554.7h0M199.7 540.7h0M326.4 590.1h0M207.8 570.1h0M284.9 637.2h0M270.5 531.2h0M202.7 608h0M269.2 501.3h0M270.7 496.6h0M284.3 603.2h0M165.3 530.4h0M290.2 509.7h0M214.2 602.5h0M175.1 586.3h0M177.7 615.5h0M309.2 631.4h0M312 511.9h0M222.3 560.1h0M187.7 519.2h0M238.7 658.7h0M268.8 548.5h0M306.5 628.9h0M263.7 657.9h0M209.1 515.6h0M327 585.9h0M175.3 533.9h0M272.6 639.8h0M295.8 553h0M245.1 653.2h0M254.6 570h0M226.6 583.8h0M291 500.1h0M215.4 516.7h0M240.1 618.4h0M259 494.8h0M325.2 604.2h0M245.7 602.3h0M209.6 575.9h0M204.7 563.8h0M216.2 618.2h0M162 570.8h0M195 640.5h0M295.8 634.4h0M259.1 582h0M307.3 571h0M237.7 580.2h0M211.5 554.6h0M169.5 587.7h0M266.3 592.8h0M178.9 537.5h0M249.5 664.9h0M225.1 509.2h0M275.7 592.5h0M158.7 594.6h0M201.1 549.7h0M264.4 525.7h0M232 506.6h0M235 546h0M249.4 588.9h0M224.4 635.5h0M169.1 626.9h0M206.7 587.5h0M282.6 617.9h0M294.1 580.8h0M226.3 651.6h0M276.9 511h0M255.8 543.2h0M243.1 667.2h0M227.9 481.7h0M247.8 549h0M284.5 533.5h0M263.6 637h0M250.8 569.3h0M193.3 525.5h0M298.1 568.8h0M200 529h0M274.6 544.4h0M254.6 495.4h0M324.4 585.1h0M197.1 535h0M235.4 621.3h0M156 579h0M330.8 594.4h0M177.5 624.6h0M294.9 624.3h0M311.4 582.9h0M317.5 521.7h0M165.4 605.3h0M213.7 599.9h0M291.1 606.9h0M265 576h0M262.2 533.5h0M306.8 587.1h0M307.5 596.7h0M214.1 532.5h0M255.4 497.6h0M274.4 614.1h0M269.2 543.7h0M240.4 588.2h0" stroke="#0000ff" stroke-width="1.5" stroke-linecap="round"/>
<path d="M189 556.7h0M313.4 605.5h0M274.5 586.3h0M197.4 604.2h0M241 507.7h0M258.9 625.7h0M266 590.2h0M255.2 578.3h0M164.7 571.8h0M257.7 627.6h0M257.3 627.3h0M161.4 613.3h0M294.4 547.6h0M293.8 546.6h0M197.8 557h0M197.8 557.8h0M235.7 563.7h0M237.1 562.4h0M220 595.4h0M279.9 582.4h0M270.4 586h0M270 587.4h0M269.1 526.1h0M279.9 545.1h0M221 605.7h0M181.6 612.2h0M179.9 613.4h0M276.6 532.8h0M159.7 543.1h0M253.9 564.5h0M186.2 543.3h0M186.4 542h0M291.9 650.5h0M305.7 570.8h0M275.6 597.5h0M254.8 526.9h0M281 541.8h0M247.5 595.7h0M248.2 595.4h0M291.5 607.1h0M298 602.7h0M298.6 602.2h0M257.1 599.8h0M279.3 582.6h0M180.8 593.1h0M250.6 516h0M255.8 530.6h0M254.5 532.1h0M243.4 484.5h0M266.8 605.4h0M265.6 606.8h0M184.7 626.8h0M231.8 580.8h0M231.3 582.2h0M242.2 526.5h0M228.3 573.8h0M240.2 561.6h0M181.9 612h0M210 554h0M328.3 529.6h0M229.2 607.1h0M224.1 543h0M257.1 547.5h0M256.6 545.8h0M214 624h0M297.5 584.7h0M296.3 583.8h0M190.2 589.8h0M269.5 593.9h0M269.5 593.1h0M210.5 579.5h0M264.8 570.3h0M265.9 568.6h0M225.5 628h0M282.3 579.7h0M250.3 591.3h0M220.5 564.6h0M303 583h0M216.7 549.5h0M277.1 546.9h0M215 502.4h0M181 523h0M182.8 523.9h0M189.2 609.7h0M190.3 610.3h0M246.9 628.1h0M256.3 530.5h0M300.2 529.8h0M177.1 521h0M235 564.1h0M165.4 528.4h0M253 565h0M252.3 565.1h0M229.8 526h0M314.3 584.1h0M197 606.3h0M222.6 594.4h0M206.1 543.2h0M315.9 515.3h0M234.4 486.8h0M209.5 584h0M211.7 609.6h0M241.7 524.2h0M241.7 525.4h0M232.4 606.6h0M233.5 607.6h0M306.2 580.2h0M206.9 595.3h0M199.3 568.7h0M198.5 569h0M214.8 536.9h0M240.7 488.3h0M298.2 545.1h0M237.1 544.7h0M231.2 625.5h0M298.3 582.8h0M256.7 564.8h0M234.6 622h0M233.3 623.1h0M220.6 548h0M178.3 545.7h0M317.8 586.7h0M341.2 563.1h0M239.7 562.5h0M298.8 597.5h0M299.1 596.9h0M303.3 540.5h0M250.7 634.9h0M191.3 543.5h0M241.4 583.7h0M249.6 542.7h0M277.6 644.6h0M271.5 596.2h0M270.7 597.9h0M305.4 606h0M234.2 649.5h0M233 648.2h0M291.1 653.3h0M218.8 563.1h0M267.4 603.3h0M266.7 603h0M222.6 546.5h0M228.5 556.8h0M279.3 577.2h0M242.2 549.2h0M306.4 563.5h0M237.6 508.1h0M240.5 591.9h0M221.9 546.7h0M231.4 506.1h0M300.4 589.2h0M224.8 627.3h0M223.8 626.9h0M281.1 545.5h0M299.4 532.6h0M221.7 549.1h0M215.3 563.9h0M236 613.8h0M251.9 537.5h0M226.9 625.7h0M200 631.3h0M247.2 627.1h0M210.1 587h0M240.6 508.1h0M238.4 582.8h0M198.7 546.1h0M272.3 574.8h0M228 629.2h0M229.3 529.6h0M249.1 627.5h0M296.1 564.4h0M195 546.2h0M211 516.3h0M257.7 591.4h0M230.3 534.4h0M255.7 502.5h0M188.9 543.9h0M190.4 543.1h0M281.9 529.5h0M281.5 528.1h0M265.6 514.7h0M249.9 581.7h0M321.8 560.3h0M214.1 548.9h0M240.4 584.6h0M230.8 581.4h0M249.8 586.3h0M281 591.4h0M307.4 529.7h0M307.7 530.3h0M238.9 553.1h0M266 617.2h0M254.7 506.6h0M186.5 610.9h0M294.6 558.7h0M214.6 567.3h0M194 601.3h0M197 520.4h0M198.3 521h0M256.4 624.3h0M217.2 590.3h0M199.2 511.9h0M198.3 512.5h0M322.2 595.4h0M183.2 526.4h0M277 587.4h0M258.6 584.1h0M302.3 585.2h0M301.2 585.5h0M291.5 558h0M292 558.4h0M302.1 586.6h0M195.9 589h0M249.5 533.8h0M249.9 533.5h0M243.3 603.6h0M242.7 604.8h0M284 529.5h0M242.4 648h0M279.4 627.6h0M285.4 529.7h0M198.8 591.7h0M238.7 525.8h0M258.2 496.2h0M199.4 540.4h0M174.5 563.6h0M245.4 566.8h0M217 589.3h0M216.2 588.9h0M195.9 631.1h0M246.1 513.4h0M212.6 574.2h0M234 582h0M298.5 592h0M282.2 530.4h0M282.4 529.1h0M237.5 652.1h0M200.4 645.5h0M328.1 565.1h0M261.8 654.9h0M260.8 653.9h0M234 574.1h0M306.8 571.9h0M166 538.2h0M296.9 591.5h0M207.8 570.7h0M208.7 571.6h0M196.6 559.8h0M196.6 559.4h0M331.2 542.8h0M208.6 529.2h0M197.4 561.5h0M204.4 601.5h0M242.5 621.3h0M252.4 641.7h0M278.2 644h0M268.5 550.7h0M304.9 565h0M215.7 561.4h0M214.1 560h0M245.7 565.9h0M247.2 563.1h0M198.1 558.5h0M268.2 526.6h0M232.7 585.6h0M291.2 622.4h0M198.7 594.6h0M276.1 534h0M275.3 535.6h0M240 605.3h0M255.9 535.6h0M212.4 609.7h0M302.3 531.3h0M236.4 648.5h0M261.9 618.5h0M260.3 617h0M283.3 626.8h0M177.2 565.4h0M178 516h0M179.7 514.6h0M177.8 566.6h0M178.2 567.8h0M260.8 653.3h0M310.2 578.2h0M203.3 606.8h0M253.5 566.5h0M294.5 589.9h0M226.3 546.5h0M227.5 546.5h0M218.6 557.2h0M219.2 562.8h0M248.4 613.5h0M233.3 577.1h0M232.7 578.1h0M265.4 522.8h0M188.3 545.8h0M231.6 497.7h0M230.2 584.8h0M256.9 542.4h0M212.8 584.4h0M212 583.6h0M207.8 582.1h0M233.8 604.2h0M302.3 583.9h0M215 545.7h0M227.3 632.3h0M274.4 578.6h0M251.6 570.9h0M249 588.6h0M250.1 588.1h0M233 492.1h0M253.1 585.9h0M271.1 588.2h0M254.9 545.5h0M263.8 624.1h0M200.1 517.3h0M251.2 638.6h0M209.3 581.3h0M229.6 632.4h0M169.4 589.6h0M277.2 595.1h0M195.3 635.8h0M195.9 636.3h0M253.6 600h0M253.6 600.5h0M279.1 649.3h0M299 641.9h0M229.6 607h0M241.4 561.8h0M242.1 560.5h0M261.6 662.6h0M223.4 522.9h0M219.3 521.7h0M288.8 621.1h0M310.5 566.3h0M244.9 588.5h0M264.7 541.3h0M218.1 554.6h0M219.4 555.4h0M171.2 603.8h0M179.6 544.6h0M248.1 590h0M248.6 590.1h0M265.3 550.4h0M220.2 520.8h0M296.9 529.6h0M214.2 612.1h0M298.8 536.5h0M195.1 590.5h0M234.5 620.7h0M274.3 563.2h0M288.8 609.3h0M221.9 522.1h0M223.4 522.5h0M293.9 559.1h0M252.3 579.3h0M253.5 546.8h0M251.8 540h0M284.7 606.3h0M285.2 606.5h0M196.3 638.5h0M275.1 520.3h0M216.4 528.3h0M333.3 543.9h0M217.2 546.9h0M215.9 546.5h0M252.4 568.5h0M221.4 600.7h0M254.9 641.1h0M207.5 511.8h0M177.2 568.2h0M252.3 582.6h0M237.8 533.4h0M236.1 531.9h0M192 548.9h0M169.9 632.5h0M195.6 581.5h0M174.1 559.7h0M244.4 546.6h0M243.3 547.6h0M303.2 530h0M205.3 530h0M284.5 543.9h0M281.1 574.2h0M280.1 573.2h0M220.3 547.8h0M221.6 546.3h0M245.4 565.7h0M243.3 515.8h0M292.5 512.6h0M211.9 529.2h0M263.9 617.5h0M151.5 589.1h0M202.1 552.2h0M312.6 561.8h0M279 540.4h0M268.7 554.7h0M235.9 630.9h0M234.6 527.1h0M233.9 526.6h0M238.2 585.2h0M239.8 585.3h0M233.9 605.6h0M222.8 508.9h0M221.5 509.1h0M253.1 576.3h0M253.3 577.3h0M206.1 578h0M194.8 605h0M227.3 502h0M206.4 586h0M205.4 586.8h0M261.8 591h0M262.5 582h0M265 553.6h0M212.3 527.4h0M212.8 529.1h0M219.5 507.6h0M279.8 581.8h0M289.7 552.6h0M230.2 535h0M248.5 541.7h0M263.4 654.9h0M264 656.1h0M329.2 530.4h0M313.5 546.9h0M311.5 567.7h0M266.3 622.3h0M150.5 563.3h0M205.1 582.9h0M285.9 588.7h0M209.5 584.6h0M241.2 520h0M219.8 586h0M219.7 604.2h0M219.3 520.9h0M242.2 625.4h0M240.6 626.3h0M301.1 529h0M275 489.1h0M190.5 531.9h0M236.1 504.1h0M195.8 549.9h0M277.2 566h0M268.3 561h0M254.6 567.3h0M209.9 535.3h0M259 631.8h0M325.7 561.8h0M266.6 523.2h0M302.8 544.3h0M221.7 645h0M257.3 544.4h0M212.4 556.3h0M223 590.9h0M309 610.1h0M220.2 512h0M298.9 644.9h0M249.7 527.3h0M217.7 567.5h0M228.6 581.7h0M254.4 563.6h0M287.5 602.5h0M288.7 602.3h0M234.2 505.3h0M232.7 504.3h0M210.9 543.6h0M247.1 642.9h0M195.3 592.6h0M305.9 568.2h0M305.1 567.2h0M253.8 604.5h0M271.5 529.6h0M264.8 558.8h0M197.5 601.7h0M199.1 602.2h0M254.5 570.6h0M253.1 572h0M192.2 607.7h0M270.1 542.6h0M194.1 600.5h0M180 587.2h0M285.4 564.6h0M267.9 555.1h0M280.8 572.6h0M265.3 581.4h0M183.8 573.8h0M185.1 568.2h0M283.8 625.3h0M243.6 514.6h0M257.3 629.4h0M259.4 547.5h0M261.1 547.5h0M293.7 554.4h0M171.8 604.8h0M295.7 560.1h0M207.5 572.3h0M290.8 508.3h0M199.4 517.9h0M234.8 649.7h0M290.6 545.2h0M209.9 622h0M281.9 564.3h0M291.1 555.7h0M289.8 556.7h0M245.7 523.3h0M255.7 572.6h0M257 572.3h0M307.8 607.9h0M275.2 601.1h0M257.1 567.5h0M282.5 502.8h0M279.3 567.8h0M242.9 544.6h0M241.9 544.2h0M261.7 618.7h0M261.9 618h0M200.2 605.6h0M203.3 547.1h0M173 592.6h0M266.8 606.3h0M272.3 530.2h0M271.6 528.8h0M212.4 612.3h0M302.7 575.7h0M223.5 552h0M224.3 553.6h0M225.6 505.8h0M231.8 608.2h0M279.1 566.6h0M255 505.5h0M255 572.7h0M255.8 573.9h0M267.8 605h0M231.5 532.7h0M259.8 610.7h0M211.9 501.8h0M211.1 503.3h0M243.4 513.6h0M268.7 615.2h0M305.2 628.7h0M224.8 636.6h0M231.5 539.6h0M225.4 647.1h0M226.3 648.2h0M258.1 582.4h0M259.5 580.9h0M164.4 542.3h0M163.3 542.2h0M199.6 588.4h0M229.3 485.4h0M227.5 484.4h0M288 613h0M196.8 593.6h0M240.7 489.3h0M193.4 565.1h0M207.8 530.4h0M172.2 608.6h0M202.1 607.8h0M202.6 608.1h0M273.8 532.4h0M275.3 532.5h0M219.1 542.8h0M200.3 632.7h0M181.8 566.6h0M277.4 548.3h0M249.5 586.5h0M198 522.9h0M261.9 658.5h0M252.6 635.5h0M238.8 574.6h0M231 567.1h0M213.2 618.7h0M246.6 544.1h0M281.4 569.5h0M304.8 533h0M303.2 531.4h0M239.2 619.4h0M293.6 512.1h0M242.8 603.7h0M244.5 630.3h0M198.3 580.3h0M230.2 627.4h0M231.7 626.7h0M302.1 582.4h0M188.9 529.3h0M216.2 552.9h0M229.9 594.8h0M298.3 544h0M266.3 565.3h0M170.1 608.6h0M295.4 586.5h0M235.4 566.7h0M250.9 529.4h0M249.2 530.9h0M278.4 527.7h0M242.5 512.2h0M198.2 522.1h0M292.4 583.8h0M248.6 643.8h0M229.5 607h0M279.1 633.8h0M295.5 555.9h0M324.3 559.5h0M216.8 569.4h0M251 604.8h0M252.2 604.6h0M242.8 563.2h0M227.9 585.2h0M226.4 629.9h0M212.1 614.7h0M231.5 624.4h0M200.8 520.1h0M309.3 611h0M248.2 586.6h0M309.7 575.4h0M309.8 576.1h0M236.3 495.3h0M276.3 581.5h0M278.6 534.7h0M225.4 618.2h0M241.3 566.3h0M242.8 564.6h0M252.3 605h0M228.9 566.5h0M187.4 573.7h0M269.8 586.7h0M252.8 600.1h0M252.3 600.5h0M280.9 574.5h0M219.1 587.4h0M279.3 564.9h0M223.3 627.9h0M288.7 562.2h0M204.9 624.1h0M215.7 502.8h0M291.4 562.4h0M303.9 569.3h0M246.6 600.8h0M312.9 606.5h0M171.8 608h0M223.5 630.8h0M208.9 570.8h0M206.4 530.3h0M237.6 547.3h0M236.4 547.7h0M224.8 547.2h0M291.1 585.8h0M261.1 526.5h0M289.9 622.1h0M242.3 626.8h0M211.9 499.7h0M211.6 501.4h0M200.8 525.7h0M262.5 608.2h0M263.5 551.8h0M267.8 548.6h0M282.2 605.5h0M243.4 587.4h0M229.1 576.4h0M288.1 565.2h0M257.3 647.7h0M271 560.1h0M237.6 579.2h0M251.3 627.4h0M214.9 552.9h0M252.6 630.4h0M179.1 585.4h0M189.7 564.3h0M264.4 554.6h0M257.1 589.5h0M256.3 590.9h0M311.3 545.9h0M202.7 577.4h0M220.8 597.9h0M247.5 600.9h0M305 540.5h0M212.4 495.5h0M259.6 625.7h0M296.5 561.7h0M224.7 508.5h0M236.3 496.1h0M289.7 617h0M260.5 622.1h0M246.7 597.7h0M227.6 606.6h0M277.2 582.2h0M280.3 568.1h0M259.4 579.2h0M260.4 578.9h0M211.1 526.3h0M297.5 614.5h0M327.5 529.1h0M269.7 548.4h0M269.4 548.8h0M295.1 589.2h0M215 528.1h0M235.2 622.5h0M235.3 621.3h0M279.8 532h0M280 530.7h0M171 603.7h0M222.4 526.4h0M223.5 524.6h0M212.5 616.3h0M234.7 497.5h0M239.5 608.3h0M267.6 561.3h0M251.1 599.1h0M211.9 502.5h0M284.2 546h0M292.7 560.4h0M293.3 559.8h0M209.9 654.1h0M265.9 511.6h0M267.6 513.1h0M208.3 536.8h0M263.4 527.1h0M219.1 624.1h0M237.9 577.4h0M292.9 538.7h0M215.3 522.6h0M213.7 522.8h0M300.4 602h0M301.3 601.3h0M272.4 594.5h0M258.9 504.9h0M255.4 546.2h0M256.2 544.9h0M225.6 484.6h0M262.5 546.5h0M263.8 545.3h0M280.1 533.3h0M238.6 540.8h0M238.1 610h0M262.3 512h0M219.6 558.4h0M184.7 572.8h0M253.7 490.5h0M299.4 644.1h0M225.3 627.9h0M263.8 617.7h0M294.4 579.5h0M184.7 523.8h0M252.5 542.5h0M260.9 582.1h0M260.4 560.5h0M269.6 621.5h0M254.1 543.7h0M205 648.3h0M223.3 589.8h0M222.5 588.6h0M239.3 647.5h0M256.2 632.2h0M193.9 538h0M238.9 553.2h0M171.8 610.4h0M210.4 540.8h0M211.2 539.2h0M249 589.4h0M181 584.2h0M172.3 590.9h0M230.4 569.5h0M295.6 589h0M235.9 607.5h0M234.3 608.3h0M243.2 523.5h0M248 548.7h0M306.4 572.2h0M302 599h0M303.5 599.3h0M272.8 592.3h0M273.5 593.3h0M236.7 627.9h0M319.6 590.6h0M280.4 603.1h0M277.3 608.4h0M232 580.6h0M231.7 579h0M207.9 527.2h0M209.6 526.4h0M224.5 480.2h0M266.8 604.8h0M206.9 565.2h0M263.8 550h0M262.2 549.8h0M168.5 570.7h0M220.8 524.8h0M268.5 597.1h0M206.8 532.3h0M225.2 640.8h0M246.3 593.2h0M245.6 591.4h0M243.2 527.7h0M244.7 527.6h0M282.7 580.3h0M299.2 635.6h0M232 567.7h0M276.5 646.1h0M277.6 647.6h0M303.5 567.1h0M319.5 586.2h0M321 587.3h0M276 632.2h0M218.4 588.4h0M278.6 530.6h0M260.2 580.7h0M261.6 579.5h0M318.6 557.2h0M270.9 585.4h0M271.2 584.8h0M236.6 490.1h0M296.6 585.8h0M296.1 587h0M266.8 603.7h0M226 634.9h0M326 583.6h0M258.7 580.3h0M258.9 580h0M228.1 543.8h0M289.9 549.7h0M290 549.3h0M269.5 591.3h0M195.7 590h0M183.1 587.3h0M283.5 561.1h0M276.9 509.8h0M224.1 591.1h0M222.7 590.8h0M291.1 562h0M255.3 565.2h0M254.6 541.1h0M252.9 542.5h0M209 537.4h0M156.9 578.6h0M216.7 568.1h0M194.7 587.1h0M233.8 620.4h0M235.5 621.2h0M240.9 619.1h0M240.6 617.8h0M173.5 590.6h0M204.9 562h0M182.5 581.9h0M204.6 607h0M204.6 606.7h0M188.9 535.4h0M238 564.3h0M269.1 525.9h0M268.8 526.1h0M250.2 568.2h0M260.5 619.2h0M239.5 540.2h0M229.6 569.8h0M309.6 581.2h0M238.9 603.9h0M238.4 605.2h0M159.5 545.4h0M291.5 605.1h0M185.5 585.6h0M184.9 586.1h0M264 574.8h0M198.5 629.7h0M217.5 562.6h0M225.4 523.1h0M253.7 640.5h0M254.2 639.9h0M254.3 625.1h0M220.7 604h0M330 530h0M290.3 590.4h0M266.7 549.2h0M266.8 547.6h0M216.6 549.4h0M218.3 548.5h0M191.9 607.2h0M276.5 610.2h0M296 589.6h0M292.2 606.4h0M218.6 585.4h0M305.2 531h0M253.9 506.6h0M226.1 539.1h0M223.2 567.6h0M160.7 545h0M303.2 531.9h0" stroke="#0000ff" stroke-width="2" stroke-linecap="round"/>
<path d="M275.1 586.6h0M196 605.6h0M261.6 608.5h0M258.3 565.7h0M281.1 542.3h0M228.8 584.2h0M240.3 560.4h0M286.7 604.4h0M208.9 528.3h0M254.8 530.2h0M271 563.1h0M236 547.3h0M281.9 567.5h0M208.4 576.7h0M221.3 546.4h0M239.8 561.7h0M247.6 585.7h0M273.7 588.9h0M242.1 585.1h0M272.5 586.2h0M227.5 569.2h0M279.1 577.9h0M241.1 548.5h0M255.4 601.4h0M281 544.1h0M273.5 597.9h0M251.9 546.8h0M253.7 537.3h0M229.3 530.9h0M228.7 533.4h0M265.3 561.6h0M214.6 549.6h0M268 564.6h0M216.1 566.3h0M244.9 511.8h0M216.7 587.8h0M251.6 542h0M244.3 565.3h0M280.9 565.7h0M208.8 530.3h0M253.4 531.4h0M243.9 585.5h0M241.5 621.5h0M273.4 586.7h0M241.5 558.4h0M253.5 533.5h0M239.5 606.2h0M270.3 562.3h0M194.4 588.7h0M310.2 577.5h0M218.7 555.4h0M227.3 546.1h0M240.4 587.3h0M255.7 543.5h0M225.3 599.9h0M185.7 582.6h0M255.5 570.5h0M215.4 547h0M185.3 571.2h0M219.5 523.5h0M202.7 568.4h0M219.3 593.9h0M196.7 590.6h0M235.9 620.4h0M242.7 511.8h0M210.6 621h0M195.5 552h0M223 600.1h0M290 524.9h0M243.7 602.1h0M257.1 546.6h0M241.4 548.1h0M296.8 583.3h0M279.2 541h0M247.3 598.1h0M232.8 567.4h0M194.6 605.2h0M260.8 580.5h0M248.5 542.9h0M265.3 622.9h0M218.6 521.7h0M265.5 552.9h0M278.2 565.8h0M271.9 587.3h0M269.9 561.1h0M255.1 568.3h0M220.6 510.8h0M194.3 592.7h0M265.4 558.8h0M287.8 606.5h0M266.5 555.7h0M257.7 546.5h0M204.4 586.3h0M292.5 555.4h0M208.5 572.9h0M275.8 584.3h0M210.5 622.9h0M232.9 579.6h0M283.2 564.6h0M244.6 523.9h0M258.7 568h0M281.1 569.3h0M206.8 586.7h0M202.2 546.2h0M280.8 566.2h0M261.5 609.4h0M198.2 589.9h0M274.6 543.1h0M229.8 567.9h0M280.9 568.1h0M238.2 620.3h0M256.1 546.4h0M295.2 583.6h0M243.3 510.6h0M241.5 563.7h0M228.8 584.7h0M263.9 615.2h0M264.9 550.7h0M247.6 588.2h0M253.8 571.9h0M187.3 543.9h0M271.1 586.1h0M240.3 556.2h0M217.3 586.7h0M232.5 606.8h0M278.5 565.3h0M209.4 572.4h0M210.1 581.5h0M246.3 601.2h0M241 523.5h0M230.6 577.5h0M252.9 628.5h0M238.3 606.8h0M224.3 567h0M276.7 582.7h0M240.8 622.6h0M238 607.6h0M250.7 600.5h0M295.9 585.8h0M211.6 544.5h0M273.5 593.2h0M279.8 534.1h0M237.5 611.2h0M261.2 582.9h0M269.2 621.8h0M264.8 612.6h0M238.4 547.7h0M267.4 606.2h0M223.2 564.1h0M240.6 558.4h0M275 601.4h0M194 566.3h0M243.1 548.9h0M219.4 587.5h0M275.5 542.5h0M228.4 544.5h0M230.2 628.7h0M201.4 567.6h0M213.1 623.3h0M230.4 582.2h0M238.2 549.3h0M273.4 589.4h0M209.4 526.9h0M209 546.3h0M235 581.4h0M199.2 563.6h0M206.6 610.3h0" stroke="#0000ff" stroke-width="2.5" stroke-linecap="round"/>
<path d="M220.6 599.7h0M279 530.5h0M232.3 575.8h0M208.4 580.7h0M274.3 564.1h0M282.4 579.9h0M238.3 547.3h0M231.2 572.9h0M249.9 565.6h0M187.8 584.3h0M256.8 573.1h0M193.4 567.2h0M252.4 638.7h0M223.6 594.8h0M254.5 532.7h0M220.6 508.7h0M185.5 583.5h0M281.2 582h0M223.4 588.1h0M256.4 564.3h0M218.3 566.4h0M229.8 533.2h0M218.1 594.5h0M231.6 577.9h0M243.2 550.7h0M208.8 615.3h0M255 550.6h0M242.2 585.6h0M260.4 579.9h0M262.5 523.6h0M282.3 570.4h0M239.1 612h0M184.1 609.4h0M212.8 524.6h0M233.9 578.3h0M267.2 585.4h0M260.1 533.4h0M196.2 598.1h0M268.9 561h0M231.9 548.1h0M301.8 603.1h0M231.1 572.1h0M280.8 583.6h0M240 527h0M210.9 587.1h0M272.7 594.3h0M266.5 549.3h0M216.5 565.8h0M247.8 595.1h0M284.5 579h0M217.4 606.8h0M265.9 621.1h0M259.2 580.1h0M253.5 543.3h0M258.2 579.2h0M231.3 575.7h0M217.9 560.8h0M265.3 585h0M253.3 533.7h0M194.8 548h0M217.2 554.7h0M198.1 591.8h0M238.2 523.9h0M252 542.8h0M231.2 546.6h0M219.3 561.6h0M234.3 567.2h0M233.3 608.4h0M263 549.3h0M316.6 554.2h0M285.3 546.8h0M297.4 628.7h0M208.9 583h0M286.9 616.5h0M243.5 549.2h0M244.7 565.5h0M279.3 582.9h0M255.4 570.2h0M199.7 588h0M248.1 604.8h0M208.3 611.1h0M187.7 542.5h0M244 547.5h0M265.5 521.9h0M268.7 603.5h0M226.9 543h0M249.6 568.8h0M199.9 566.6h0M223.6 595.7h0M284.9 566.8h0M301.1 544.2h0M264 621.5h0M226.6 528.6h0M275.4 584.9h0M270.8 584.3h0M272.6 588.8h0M255.8 574.6h0M266.7 585.3h0M266 520.2h0M262.5 562.8h0M235.5 581.9h0M238 604h0M262.6 549.7h0M234.8 526.3h0M235.5 609.2h0M220.9 600.1h0M266.9 515.4h0M184.8 541.5h0M237.3 562.5h0M232.5 542.8h0M295.3 564.3h0M185.9 584.3h0M198.7 590.4h0M229.9 583.4h0M220.4 595.5h0M234.4 605.2h0M242.9 641.6h0M238.9 606.5h0M225.3 628.3h0M228.6 544.6h0M238.8 605.5h0M206.8 587.8h0M251.5 602.1h0M289.2 548.2h0M264 620.9h0M248.8 588h0M248.3 599.7h0M285.4 562.8h0M210.2 615.6h0M283.8 529.5h0M220.5 555.3h0M215.4 608.6h0M270 598.2h0M271.7 596.9h0M249.5 598.2h0M285.7 623.3h0M252.9 529.2h0M231.4 545.3h0M255.8 568.7h0M248.6 624.2h0M229.6 584.5h0M266.4 562.1h0M184.4 568.9h0M241.1 561.3h0M208.7 586.2h0M260.4 546.2h0M259.8 582.3h0M221.7 602.5h0M212.6 586.4h0M220.1 565.1h0M232 542.8h0M293.1 518.6h0M275.3 585.9h0M276.1 539.6h0M265.5 601.8h0M273.9 603.9h0M241.6 585.6h0M238.9 606.3h0M228.9 541.3h0M259.2 581.8h0M275.5 565.9h0M229.3 544h0M227.2 576.1h0M222.9 593h0M204.2 584.8h0M246 585.1h0M208.4 545.4h0M233.6 543.1h0M304.7 541.7h0M227.7 631.1h0M210.8 529h0M186.8 572.2h0M183 541.1h0M207.4 528.4h0M288.5 584.2h0M213.5 524.4h0M287 614.8h0M250.8 527.7h0M231.8 527.2h0M243 585.7h0M244.8 565.1h0M298.2 584.9h0M235.9 613h0M208.5 543.8h0M240.2 549.8h0M245.8 587.8h0M171.1 568h0M206.8 583.9h0M209.4 583.6h0M255.2 625.6h0M300.9 600h0M210.7 597.1h0M225.9 530.9h0M251.4 601.6h0M315.1 605.6h0M231.5 573.2h0M217.5 564.8h0M248 600.2h0M232.6 571.5h0M256.8 579.6h0M230.3 568.4h0M247.3 547.8h0M245.6 600.3h0M276.4 506.9h0M288.1 562.5h0M262 562.5h0M258.3 583.1h0M235.1 580.1h0M231 585.3h0M291.5 561.7h0M228.8 568.4h0M240.8 565.9h0M283.7 566h0M252.1 601.1h0M265 610.9h0M257.8 606.7h0M193.1 589.2h0M239.3 562.2h0M218.6 554.9h0M244.7 601.1h0M249.6 625.6h0M247.7 590.3h0M268.8 583.1h0M221.7 590.4h0M275 544.3h0M278.9 569h0M206.3 540.8h0M230.2 569h0M254.9 582.5h0M267.4 549.9h0" stroke="#0000ff" stroke-width="3.5" stroke-linecap="round"/>
<path d="M220.4 599.5h0M221.4 600.5h0M278.1 529.8h0M278.8 531.1h0M232.6 575.2h0M232.4 575.7h0M209.2 580.1h0M274.3 564.9h0M274.7 563.7h0M282 579.2h0M282 580h0M239.1 547.3h0M238.3 548.2h0M231.8 573.8h0M230.9 573.4h0M249.9 565h0M186.9 584.5h0M256.1 573.2h0M193.4 567.9h0M192.9 568h0M253.1 639.1h0M222.8 595.5h0M253.8 532.7h0M253.7 532.5h0M220.1 508.9h0M219.9 509.4h0M185.8 583h0M280.4 582.1h0M222.5 587.5h0M256 564.7h0M256.6 564.6h0M219.2 566.2h0M218.6 567.2h0M230.7 533.9h0M217.5 593.8h0M218.5 594.8h0M232.4 577.5h0M231.4 577.4h0M243.4 550.3h0M208.6 615h0M209.3 615.2h0M254.2 550.2h0M243 585.2h0M241.4 585.3h0M259.7 580.4h0M261.1 579.6h0M262.9 523.6h0M263.3 523.4h0M281.6 570.1h0M282.3 570.3h0M238.4 612.7h0M238.8 611.7h0M183.8 609.6h0M211.9 525.2h0M234.5 577.6h0M233.7 578.9h0M266.5 585.5h0M266.4 585.1h0M260.2 533h0M196.2 598.7h0M196.2 598.8h0M269.5 561.4h0M268 561.1h0M232.3 548.9h0M302.7 602.4h0M231 572.4h0M281.2 584.3h0M240.8 527.6h0M240 526.3h0M210.9 587.5h0M272.5 593.6h0M273.3 594.6h0M266 549.8h0M267.1 548.9h0M217.2 565.7h0M247.9 595.4h0M248.7 595.2h0M284.9 579.4h0M284.1 579.2h0M217.4 606.1h0M217.3 606.4h0M266.5 620.2h0M266.4 620.9h0M259.2 580.9h0M259.2 580.2h0M254.3 543.5h0M253.6 544.1h0M257.3 578.8h0M230.7 576.5h0M230.8 575.3h0M217.5 561.4h0M264.7 585h0M253.5 534.3h0M194.6 547.6h0M194.1 547.4h0M216.9 554.5h0M216.8 555.1h0M198.8 591.4h0M238.6 523.2h0M251.2 542.3h0M252.2 542h0M231.9 546.5h0M231.5 547.5h0M218.9 562.2h0M233.9 566.5h0M233.4 608.3h0M233.9 607.6h0M263.4 549.3h0M317.4 554.7h0M315.7 553.5h0M284.5 546.5h0M285.3 546.6h0M297.4 628.1h0M296.8 628.3h0M208.5 582.2h0M286.8 615.9h0M243.8 549.3h0M244.6 565.7h0M245.5 565.5h0M279.9 582.8h0M256.1 569.8h0M255.4 570.7h0M199.1 588.3h0M199.9 588.4h0M247.8 605.5h0M247.9 604.1h0M208.1 610.6h0M208.8 611.9h0M187.6 542.2h0M188.3 541.8h0M243.4 546.7h0M244.1 548.3h0M265 522.1h0M269.2 604.1h0M226.1 542.8h0M249.8 568.3h0M249.5 568.9h0M200.4 565.8h0M224 595.7h0M285.5 567.4h0M285 566.8h0M301.8 544.2h0M301.8 544.6h0M263.1 621.2h0M263.6 621.3h0M227 528.8h0M227.1 529.5h0M275.7 584.8h0M271.5 584.9h0M272 588.2h0M273.3 589.5h0M255.2 575.3h0M255.2 575.1h0M267.2 584.5h0M266.7 585.4h0M265.5 520.4h0M262.4 562.3h0M234.6 582.3h0M238.4 604.9h0M262.8 550.5h0M263.2 549.9h0M234.7 526.7h0M234.8 609.8h0M220.5 600.8h0M267.6 516h0M267.2 515.4h0M184.6 541.9h0M184.9 542h0M237.2 562.4h0M231.7 543.2h0M295.6 564.7h0M294.6 563.9h0M185.4 584.7h0M197.9 590.1h0M230.4 583.2h0M230.3 584.2h0M221.2 596.2h0M220.4 594.8h0M234 604.6h0M233.8 605.6h0M242.6 642h0M239 607.4h0M238.5 605.9h0M224.8 627.7h0M229.4 544.6h0M238.1 605.5h0M238 605.4h0M207 588.6h0M252.1 601.5h0M289.6 548.1h0M289.5 547.9h0M264.1 620.2h0M249.4 587.6h0M249.2 587.5h0M249.1 599.5h0M247.5 599.5h0M286.2 563h0M285.7 562h0M210.4 615.3h0M284.6 530.3h0M284.5 529h0M220.4 555.4h0M214.9 608.2h0M269.1 597.6h0M269.7 597.7h0M272.4 596.6h0M249.5 597.5h0M285.5 622.4h0M285 624h0M252.1 528.4h0M231.4 545.5h0M255.6 569.5h0M249.3 624.1h0M229.4 584h0M230 583.8h0M266.2 562.9h0M184.9 569.3h0M184.8 568.2h0M241.6 561.7h0M209.3 585.4h0M209.6 586.9h0M259.8 546.9h0M261.2 545.7h0M259.7 581.7h0M221.4 601.7h0M220.9 601.8h0M212 585.8h0M211.8 586h0M220.3 565.9h0M220.2 564.5h0M232.5 542.1h0M231.9 542.8h0M293.1 519h0M294 518.2h0M274.9 585.1h0M276.7 540.5h0M276.2 540.4h0M264.9 601.6h0M274.7 604.3h0M241.7 585.2h0M239 606.3h0M228.7 542.1h0M259 581.7h0M259.6 582.3h0M275.2 565.7h0M275.3 566.8h0M229.9 543.9h0M228.9 544.4h0M227.6 575.5h0M222.2 593.3h0M222.6 592.4h0M204.8 585.5h0M246.2 585.8h0M246.8 584.9h0M208.1 545.3h0M209 545.3h0M234.4 542.7h0M304.4 541.5h0M305.1 541.2h0M228.3 630.6h0M227 630.9h0M211.3 529.4h0M211.3 528.4h0M186.6 571.3h0M183.4 540.3h0M207.7 529.2h0M288.3 584.5h0M289 583.5h0M214.1 525h0M287.6 614.9h0M250.1 528.4h0M232.6 527.7h0M243.1 586.5h0M242.7 586.5h0M244.8 565h0M298.3 585.1h0M235.4 613.1h0M207.7 543.6h0M241 550.6h0M246.4 588.2h0M245.1 587.4h0M170.4 567.8h0M206.5 584.5h0M209.8 584.2h0M255.4 626.5h0M300.5 599.2h0M211 596.5h0M210.9 596.8h0M225.5 530.4h0M226.8 531.5h0M250.8 602.1h0M251.8 602.1h0M314.3 605.3h0M231.4 573.3h0M231 573.2h0M217.7 564h0M217.1 565h0M248.4 600.5h0M233.4 572.3h0M232.7 572.2h0M256.2 579.2h0M229.7 569h0M247.8 547.9h0M247 547.8h0M245.7 600.2h0M276.9 507.8h0M277.2 507h0M287.7 561.6h0M262.6 562.7h0M257.8 583.3h0M235.1 580.7h0M235.5 580.7h0M231.7 584.7h0M231.3 585.4h0M291.6 561.6h0M229.4 568h0M240.3 565.6h0M241.2 565.7h0M284.5 565.7h0M251.6 601.5h0M251.3 600.4h0M265.1 611.7h0M265.5 610h0M258.2 606h0M192.3 590h0M239.5 561.3h0M238.5 562h0M218 555.4h0M218.3 555h0M243.9 600.9h0M250.5 625.7h0M247.9 591h0M247.3 590.3h0M269 583.4h0M222.3 589.9h0M274.3 545.2h0M279.7 569.5h0M206.9 541.4h0M229.4 569.2h0M230.9 568.1h0M254.7 581.8h0M255.7 582.9h0M267.3 549.9h0" stroke="#00e600" stroke-width="2" stroke-linecap="round"/>
<path d="M220.8 599.5h0M279.3 530h0M232 575.2h0M274.3 563.8h0M282.8 579.9h0M231.5 572.9h0M249.5 565.8h0M188.2 584.8h0M256.3 572.6h0M193.2 567.3h0M254.1 532.3h0M186.1 583.2h0M223.6 588.1h0M256 564.8h0M230.1 533.2h0M217.9 594.3h0M243.4 550.8h0M209.1 614.9h0M255 550.8h0M242.1 585.2h0M263.1 524.2h0M213.2 524.6h0M267.3 585.1h0M268.6 561.2h0M230.5 571.6h0M280.4 583.1h0M210.9 587.1h0M273 594.3h0M267.1 549.9h0M217 565.8h0M284.6 579h0M253.4 543h0M258.7 578.8h0M231.8 575.5h0M264.9 585.3h0M217.7 554.4h0M231.2 546.2h0M219.1 561.3h0M234.4 567.4h0M232.8 608.7h0M263 549.8h0M316.5 553.6h0M297.9 628.8h0M245 565.2h0M255.9 570.4h0M207.9 611.7h0M187.6 542.3h0M243.9 547h0M268.5 603.5h0M227.5 543.1h0M284.3 566.2h0M263.7 621.5h0M226.1 528.7h0M275.7 584.8h0M272.3 588.8h0M256.3 574.4h0M266.7 584.9h0M265.7 520.3h0M235.2 582.3h0M235.3 609.5h0M237 562.4h0M294.9 564.8h0M198.4 590.2h0M234.6 604.9h0M225.6 628.6h0M229 544.8h0M289.1 548.1h0M248.4 588.4h0M210.6 615h0M214.9 609h0M271.3 596.4h0M252.6 528.7h0M231.4 544.9h0M229.2 584h0M266 562.6h0M259.8 582.5h0M212.2 586.2h0M219.8 564.7h0M275.6 540h0M241.3 585.7h0M238.5 606.4h0M229.3 544.2h0M227.1 575.7h0M203.7 585.1h0M233 543.4h0M304.8 542.2h0M227.9 631.2h0M210.4 528.5h0M186.5 571.8h0M207.4 528.2h0M286.6 614.5h0M231.8 527.7h0M244.3 564.8h0M297.7 585.5h0M208.2 544.1h0M246.2 587.5h0M206.3 583.9h0M315.2 605.2h0M230.5 568.5h0M247.4 548h0M257.7 582.8h0M291.2 561.6h0M240.4 566.1h0M252.1 601.4h0M258.3 606.3h0M192.6 589.7h0M244.6 601.5h0M249.2 625.1h0M268.3 583h0M221.4 590.8h0M255 582.7h0" stroke="#008c00" stroke-width="1.5" stroke-linecap="round"/>
<path d="M237.8 547.7h0M249.6 565.2h0M224.1 594.3h0M221.1 508.9h0M281.4 581.7h0M223 588h0M218.8 566.6h0M218.3 594.9h0M255.3 551.1h0M260.8 579.4h0M267.4 585.9h0M284.5 579.1h0M217.3 607.3h0M266 621.4h0M259.4 579.5h0M253 543.9h0M217.5 561.3h0M198.4 592.1h0M238 523.7h0M208.4 583.2h0M199.1 588.4h0M207.8 611.6h0M243.6 547.5h0M268.3 603.4h0M200 566.6h0M264 621.1h0M270.5 584.6h0M272.8 589.3h0M266.2 584.9h0M262.4 563h0M238.4 604.6h0M237.6 563h0M233.1 542.8h0M185.6 584.7h0M199 590.8h0M230.1 583.4h0M220.6 595.2h0M242.6 641.2h0M239.3 606.9h0M224.8 628h0M238.6 605.5h0M251.9 602.3h0M289.8 548.8h0M284.9 563.1h0M210.1 615.1h0M215.4 608.8h0M271.7 596.5h0M249.4 598.1h0M248.5 624.6h0M231.9 542.4h0M274.1 603.5h0M228.9 541.8h0M259.6 581.5h0M222.6 593h0M204.3 584.7h0M245.4 584.6h0M304.2 542h0M288.4 584.6h0M250.5 527.6h0M243.6 585.8h0M245 564.9h0M240.2 549.3h0M315.5 605.2h0M217.2 564.5h0M256.9 580.1h0M288.6 562.1h0M228.7 568.8h0M284 565.5h0M264.9 610.6h0M192.7 589.3h0M221.8 590.5h0M267.1 549.9h0" stroke="#e00000" stroke-width="1.5" stroke-linecap="round"/>
<path d="M716 588.2h0M876.5 535.7h0M719.8 601.1h0M842.9 513.8h0M839.3 517.9h0M800.8 454.8h0M790.7 452.3h0M808.9 449h0M834.2 615.1h0M725.8 432.9h0" stroke="#1010ff" stroke-width="1.5" stroke-linecap="round" stroke-opacity="0.55"/>
<path d="M721.2 447.8h0M789.6 594.3h0M705.6 545.6h0M690.3 559.5h0M786.7 591.2h0M788.9 439.1h0M732.5 439.5h0M794.9 629.6h0M832.2 548.5h0M824.1 578h0" stroke="#1010ff" stroke-width="2" stroke-linecap="round" stroke-opacity="0.55"/>
<path d="M818.9 609.3h0M767.2 436.5h0M781.3 583.1h0M839.7 619.4h0M828.5 546.2h0M820.4 553.9h0M814.1 554.9h0M833.3 587h0M874.6 526.1h0M782.1 515.3h0M704 555.8h0M850.3 507.9h0M813.1 476.8h0M692.5 488.1h0M833 510.7h0M674.7 544.2h0M739.7 532.5h0M734.9 495.8h0M846.4 545.3h0M786.7 522.6h0M836.5 501.2h0M737.2 588.9h0M775.1 555.6h0M798.5 561.7h0M764.3 569.2h0M688 528.5h0M770.6 571.2h0M719.8 581h0M694 466.1h0M765.2 476.5h0M739.8 481.9h0M758.7 534.8h0M814.6 480.9h0M728.3 487.2h0M749.6 519.1h0M826.2 514.3h0M833 583.4h0M698 517.5h0M694.4 572.4h0M797.3 450.6h0M769.1 523.3h0M751.7 436h0M802.8 466h0M861.4 540.5h0M807.9 446h0M785.7 651h0M778.1 511.9h0M814.7 585.8h0M811.4 608.9h0M713.9 573.6h0M853.6 472.3h0M773.4 531.8h0M740.8 534.3h0M840.8 554.2h0M722.5 580.7h0M758.8 502.8h0M701.3 515.9h0M825.3 622.1h0M719.7 562.9h0M722.2 453.2h0M722.5 636.4h0M836.2 583.5h0M687.4 507.1h0M786 622.8h0M853.2 608.4h0M742 534.9h0M761 450.8h0M790 629.3h0M872.7 505.9h0M729.4 460.5h0M688.5 503.7h0M840.7 450.2h0M714.8 519.2h0M705.3 506.1h0M714.9 487.5h0M843.7 550.3h0M713 580.9h0M815.6 587.5h0M747.1 437h0M674.4 572.1h0M699.2 458.9h0M693.1 463.7h0M765.2 478.9h0M803.9 463.4h0M728.7 439.4h0M779.5 455.4h0M723.3 527.6h0M787.9 518.4h0M794.5 648h0M702.3 475.9h0M742.3 638.8h0M816.8 562.2h0M772.5 584.9h0M775.2 477.6h0M792.9 530.3h0M679.2 514.1h0M703.3 535.1h0M753.8 546.2h0M782.7 450.8h0M771.7 556.9h0M725.8 568.8h0M841.1 620.1h0M843.1 623.4h0M728.1 574.5h0M818.9 456.8h0M746.4 438.3h0M762.1 509h0M826.2 572.6h0M733.8 595h0M770.6 543.4h0M817.4 607.8h0M819.2 515.9h0M810.2 647.4h0M790.6 444.6h0M714.1 611.1h0M829.1 539.7h0M854.8 476.7h0M812.4 560h0M682.7 501.2h0M796.1 510.6h0M823.4 461.9h0M808.8 500.9h0M721.4 445.9h0M734.3 434.1h0M783.9 572.7h0M835.7 448.8h0M818.2 529.9h0M845.2 500h0M684.1 529.2h0M769.3 519.7h0M750.9 571.6h0M688 525.9h0M801.9 595.7h0M701.1 579.3h0M765.8 572.5h0M811.6 555.1h0M719.9 616.9h0M825.7 514.9h0M807.3 489.7h0M719.1 487.8h0M745.1 570.5h0M751.3 497h0M813.1 647.8h0M817.9 590.1h0M728.8 529.9h0M712.5 539.9h0M813.2 503.1h0M719.4 558.4h0M864.9 565.8h0M710.2 631.5h0M815 607.4h0M700.9 582.2h0M746.9 629.5h0M753.7 652.9h0M826.3 593.2h0M761.7 482.9h0M682.1 501.1h0M753.1 636.2h0M671.3 530.4h0M704.2 450.3h0M870.4 504.8h0M733.7 608.2h0M712.3 517.9h0M781.3 609.8h0M726.6 554.8h0M835.1 580.4h0M800.8 503.9h0M755.2 437.4h0M774.7 541.4h0M765.2 574.1h0M696.5 609.3h0M764.8 475.8h0M817.8 487.6h0M776.9 558.4h0M731.2 460.2h0M772.1 520.9h0M820.5 567.7h0M808.4 469.1h0M829.5 542.2h0M739.4 479.8h0M801.1 639.8h0M759.5 583.4h0M837 479.2h0M700.5 558.3h0M778.8 581.8h0M761 458.9h0M725.2 534.8h0M702 558.2h0M836.7 612.8h0M738.5 474.2h0M770.9 568.6h0M787.7 575.6h0M831.4 449.8h0M800.3 557.2h0M685.5 501.2h0M788.3 515.7h0M814.5 528.5h0M759.8 453.7h0M721.3 530.4h0M788.2 551.3h0M692.4 486.3h0M750.4 570h0M708.6 555.1h0M714.8 582.6h0M801.3 581.3h0M762.5 556.6h0M701.4 452.2h0M696.9 566.5h0M741.2 562.3h0M697.4 607.3h0M842.9 460.7h0" stroke="#0000ff" stroke-width="1.5" stroke-linecap="round"/>
<path d="M843.8 492.8h0M769.6 515.4h0M768.8 515.3h0M808.8 519.2h0M833.5 587h0M704.3 534.6h0M816.5 591h0M806.7 601.7h0M806.1 600.9h0M824.3 546.2h0M805.7 488h0M729.1 518.5h0M798.4 532.2h0M790.8 541.6h0M791.8 542.7h0M779.6 533.4h0M767.2 603.6h0M767.6 602.2h0M763.1 501.4h0M745.3 476.6h0M769.3 515.6h0M769.2 514.2h0M807.6 566.6h0M759.5 477h0M758.7 478.5h0M844.7 567.8h0M792.9 490.3h0M739.6 588.4h0M739.6 589.9h0M732.4 518.3h0M826.3 462.1h0M774.1 530.8h0M847.4 527.2h0M781.7 503.9h0M796.4 501.7h0M747.3 474.9h0M762.9 507.4h0M764.1 507.8h0M778.2 556.4h0M789.3 623.2h0M790.6 622.3h0M737 491.3h0M737.5 490.3h0M792 581.6h0M793.6 580.6h0M795.2 607.9h0M794.4 607.4h0M792.7 528.9h0M751.2 520.2h0M837 561.3h0M835.7 560.7h0M729.5 491.6h0M697 522.3h0M719.3 617.3h0M823.5 514.9h0M739.2 616.7h0M741 617.2h0M796.7 502.2h0M768.4 489.6h0M832.4 507.1h0M833.9 507.7h0M716.7 449.4h0M777.8 534.2h0M761.1 613.6h0M771.8 609.5h0M817.5 608.2h0M781.4 481.4h0M758.4 589.9h0M820.8 594.4h0M820.2 593.7h0M723.6 507.7h0M723.5 509h0M849.8 594.7h0M818.7 480.3h0M794.9 563.7h0M713.7 488.1h0M824 543.1h0M785.5 516.9h0M785.5 515.1h0M788.1 522.9h0M786.8 524.2h0M781.4 514.4h0M791.4 571.5h0M799.9 456.9h0M801.5 456.5h0M819.5 580.9h0M777 507.9h0M783.4 595.6h0M783.1 594.3h0M800.1 481.9h0M793.8 450.1h0M748.6 513.2h0M805 573.6h0M806.1 572.6h0M823.9 595.8h0M823.5 594.2h0M740.6 502.3h0M795 535.9h0M793.9 537.6h0M817.7 555.7h0M720.3 531.2h0M734.3 595.4h0M734.9 595.4h0M840.6 582.8h0M747.1 518.9h0M777.3 593.5h0M813 555.2h0M814.1 562.7h0M773.6 586.3h0M773.3 584.8h0M769 549.2h0M846.6 571.7h0M834.3 527.7h0M720.6 531.8h0M700.5 554.6h0M730.2 462.5h0M830.4 556.6h0M715.2 464.2h0M723.9 482.2h0M806.2 521.2h0M757.2 563.1h0M758.8 562.4h0M784.2 648.1h0M732.6 524.7h0M716.4 517.8h0M716.1 516h0M778.7 510.4h0M781.5 531.7h0M775 514.4h0M776.3 514h0M820.1 557.1h0M748.1 437.2h0M712 599.6h0M855.9 475.3h0M717.6 501.5h0M718 501.4h0M836.1 528.3h0M753.6 492.9h0M753.8 492h0M832.9 586.6h0M791.7 439.4h0M735.7 488.6h0M757.2 481.8h0M750.3 602h0M767.3 490.5h0M766 491.9h0M803 543.4h0M783.9 513.9h0M794.3 464.1h0M851.8 509.6h0M768.9 569.1h0M768.2 569.5h0M772.5 501.5h0M754.4 490.5h0M750.7 493.2h0M750.4 572.1h0M813.6 477.8h0M815.9 476h0M722.7 586.4h0M721.5 586.9h0M696.6 545.9h0M690.7 554h0M775.6 566h0M830.3 567.4h0M763.8 502.8h0M763 502.5h0M739 537.4h0M768 569.5h0M777.7 509.2h0M777.1 508.3h0M729 573.8h0M774.9 503.5h0M798.5 455.7h0M755.8 567.9h0M757.4 567.8h0M835 473.5h0M834.8 474.2h0M821.2 621.4h0M821.2 621.8h0M764.7 602.2h0M818.6 560.7h0M817.3 559.7h0M718.6 451.1h0M704.9 501.5h0M792.1 583.7h0M759.6 588.8h0M767.1 571.1h0M824.2 466.6h0M723 533.3h0M786 468.1h0M750.1 470h0M706.2 569.6h0M778.1 485.4h0M783 516.9h0M804.5 568h0M778.7 508.3h0M759.9 557.1h0M761 556.5h0M732.2 569.5h0M732.9 568h0M751.5 610.2h0M765.5 491.7h0M789.9 542.6h0M769.1 526.2h0M739.7 531.2h0M765.8 624.3h0M727.1 474.4h0M758.9 584.9h0M733.5 497.2h0M800 555.9h0M852.7 526.9h0M845.8 546.7h0M786.2 449.1h0M784.8 450.6h0M755.6 529.7h0M754.8 529.9h0M730.3 550.8h0M783.8 544.9h0M784.7 543.9h0M803.2 518.5h0M740.8 531.3h0M770 569h0M807.5 544.6h0M742.5 585h0M717.3 554.8h0M729 489.2h0M818.2 503.3h0M816.8 503.1h0M748.8 574.5h0M747.6 573.2h0M787.2 569.3h0M728.6 503h0M805.6 599.3h0M677.7 579.7h0M800.2 514.9h0M729.6 568h0M836.2 588.2h0M796.6 585h0M805.9 543h0M807.2 544.5h0M678.4 491.6h0M762.7 475.9h0M740.1 555.4h0M732.4 544.8h0M732.1 544.6h0M784 547.1h0M785.1 547.9h0M685.1 554h0M776.3 609.7h0M770.1 569.3h0M768.5 569h0M784.1 573.5h0M783.6 574.9h0M843.9 546.3h0M853.6 500.7h0M707.7 503h0M798 612.9h0M851.6 481.1h0M819.7 580.9h0M830.7 461.2h0M806.1 545.2h0M809.1 529.2h0M728 489.9h0M727.4 489.8h0M760.4 528.2h0M776.2 504.8h0M777 503.8h0M800.1 488.1h0M758.3 475.2h0M774.6 530.7h0M778 478.7h0M822.3 597h0M730.6 550.4h0M743.6 557.9h0M752 523.9h0M756.7 583.6h0M771.2 544.8h0M771.9 543.8h0M721.2 553.6h0M706 556.6h0M707.5 556.3h0M795.2 561.9h0M703.2 528.2h0M842.3 547.1h0M704.3 483.5h0M806.8 520.1h0M808.4 518.9h0M835.2 535.8h0M836.9 536.3h0M738.4 609.4h0M737.8 609.6h0M825.8 492.6h0M825.1 491.9h0M746.5 528.7h0M746.2 528.9h0M721 454.8h0M720.1 456.5h0M788.2 569.6h0M787.5 568.1h0M847.2 460.8h0M826.8 597.5h0M765.4 547.3h0M807.5 514.3h0M814.2 452.3h0M862 545.8h0M770.7 489.9h0M777.2 480.2h0M762.7 532.6h0M761.2 533.6h0M727.3 461.2h0M804.5 570.9h0M763 541.5h0M808.8 513.7h0M786.6 438.1h0M786.2 437.1h0M757.8 505.8h0M756.7 507.1h0M810.2 596.9h0M788.9 602.1h0M812.6 609.8h0M737.9 590.7h0M747.9 517.9h0M746.4 518.3h0M805.8 651.5h0M697.1 584h0M855.9 499.8h0M741.3 613.3h0M740.2 612.8h0M835.9 559.7h0M773.5 556h0M848 573.6h0M789.1 518.3h0M763.4 570.8h0M793.8 516.4h0M760.9 584.5h0M821 492.8h0M725.1 554.7h0M726.6 554.1h0M794.5 509.5h0M801.3 501.4h0M771.4 572.2h0M773 571.8h0M815.4 505h0M786.8 435.8h0M839.6 553.4h0M824 469.7h0M762.3 533.3h0M756.4 613.7h0M832.4 534.5h0M813.6 559.3h0M812.1 557.5h0M717.8 518.3h0M708.3 573h0M752.1 628.8h0M735.3 589h0M809.6 518.4h0M772 572.3h0M834.1 479.2h0M745.2 567.3h0M773.7 622h0M726 476.9h0M730.9 514.9h0M728.4 543.3h0M783.8 450.7h0M840.1 491h0M788.4 522.4h0M769.7 582.4h0M766.9 574.4h0M765.6 573h0M735.8 556.1h0M758.7 509.7h0M759.2 510.8h0M815.2 589.8h0M737.6 588.9h0M802.2 517.5h0M803.6 516.3h0M765.4 477.7h0M845.5 487.3h0M720.1 562.6h0M790 467.4h0M769.3 492h0M716.7 584.5h0M715.1 583.3h0M725.6 556.1h0M814.7 560.4h0M814.4 560.1h0M769.5 598.7h0M768.1 597.5h0M799.5 514.8h0M758.8 563.4h0M817 482.1h0M818.7 480.8h0M692.4 573.2h0M693.8 572.2h0M815.8 608.4h0M814.4 608.9h0M776.6 476.7h0M776.8 476.3h0M740.6 475.8h0M747.7 570.2h0M735.3 569.7h0M779.5 556.3h0M736.8 614.1h0M757.4 535h0M778.1 533.4h0M777.6 534.6h0M732.1 544.7h0M794.1 448.9h0M757.8 529.8h0M743.3 528.4h0M743.7 529.8h0M777.1 476.9h0M809.5 487.8h0M743.5 455.6h0M759.3 502.9h0M759.9 504.7h0M778.3 565.1h0M798.9 507.7h0M721.7 586.8h0M722.2 585.5h0M770.5 601.3h0M768.8 602.8h0M852.7 505.8h0M853.9 507.5h0M838 527.1h0M783.6 463.5h0M698.5 555.4h0M728.5 575.2h0M728.4 501h0M753 496.7h0M770.1 542.4h0M791.2 463.3h0M760.5 535.8h0M787.7 653.5h0M807.8 468.8h0M807.3 469.2h0M781.3 480.5h0M746.3 600.8h0M823.4 567.5h0M794.1 529h0M795.5 527.9h0M804.4 624.8h0M710.7 601.5h0M787.9 621.9h0M828.3 473.8h0M787.9 570.3h0M812.3 505h0M700.7 539.9h0M782.1 543.1h0M782.6 544.8h0M761 614.9h0M737.5 616.5h0M753.7 584.7h0M825.1 540.5h0M710.2 527.3h0M751 435h0M708.4 503.6h0M763.7 623.4h0M764.3 624.2h0M758.6 448.5h0M778.7 458.7h0M778.7 460.1h0M795.9 529h0M832.5 507.8h0M833.6 506.1h0M851.5 531.8h0M714.4 489.2h0M725.6 505.2h0M775.4 504.2h0M799 562h0M800.8 563h0M713.8 548.2h0M744.1 552.6h0M785.3 550.1h0M784.3 549h0M708.5 602.2h0M761.3 528.1h0M761.6 528.1h0M820.4 528.3h0M807.8 567.7h0M823.3 520.7h0M824.6 520.8h0M712.7 494h0M731.1 596.5h0M730.8 595.5h0M711.5 489.6h0M787.1 494h0M739.6 532.4h0M740.7 531.5h0M718 517.4h0M716.7 517.6h0M765.6 501.9h0M758.4 563.7h0M796.6 635.3h0M777.3 504h0M824.7 576.4h0M718.5 477h0M750.9 463.5h0M853.8 536.5h0M853.2 536.3h0M724 580.7h0M756.5 562.9h0M758 564.4h0M774.9 527.8h0M775 478.4h0M792.2 621.1h0M815.2 587.6h0M732.1 599.5h0M776.3 610.5h0M815.1 484.4h0M816 486.1h0M768.8 489h0M770.4 490.1h0M811.5 474.9h0M776.7 580.9h0M699 490.4h0M740.3 482.1h0M771.7 624.2h0M747.2 464.6h0M793.3 623.1h0M781.4 453.5h0M809.2 465.6h0M835.7 504.6h0M732.3 545.9h0M732.4 546.5h0M851.5 500.6h0M834.9 553.1h0M727.1 529.8h0M832.9 480.6h0M807.5 604.2h0M726.6 475.3h0M727 474.5h0M826.7 461.1h0M750 595.7h0M751 597.1h0M782.7 544.1h0M815.9 508h0M752.4 527.5h0M761.6 559.4h0M760.6 558.1h0M738.1 609.2h0M760.8 528.2h0M767.2 550.6h0M765.9 552.4h0M724.2 481.8h0M723.9 537.2h0M850.5 554.2h0M851.5 553.3h0M838 487.4h0M723.3 451.6h0M763.7 505.4h0M787.4 521.4h0M788 521.6h0M781 507.8h0M735.2 543.8h0M735.1 545.5h0M754.6 595.5h0M781.5 453.4h0M780.2 451.9h0M747.4 489.6h0M746 491.2h0M689.1 556.3h0M821.1 556.7h0M800.6 454.9h0M800.5 455.5h0M753.2 610.8h0M778.1 588.2h0M738.6 528.2h0M740.4 529.4h0M811.4 465.7h0M732.4 547.8h0M733 546.5h0M756.7 476.8h0M825 541h0M825.3 539.8h0M726.4 529.4h0M801.2 503.2h0M787.3 525.7h0M786.2 527.5h0M782.1 503.6h0M730.2 572.3h0M805.2 596.5h0M796.2 479.5h0M795.8 480.5h0M748.1 605.4h0M748.6 605.1h0M806.1 513.9h0M804.6 514.1h0M759.4 586.5h0M760.7 587.9h0M841 465.9h0M822 545h0M809.5 574.2h0M809.8 573.5h0M735.6 557h0M734.4 557h0M709.9 540.4h0M708.7 540.6h0M770.1 516h0M771.1 515.6h0M719.9 488.9h0M719.1 490.2h0M761.9 596.7h0M796.1 638.4h0M756.6 610h0M736.6 487.7h0M777.7 560.3h0M767.5 490.2h0M778.2 483.2h0M713.3 622.4h0M757.2 563.1h0M758.2 563.4h0M821.9 544.9h0M740 536h0M798.8 641.4h0M731.9 467.3h0M763.1 480.1h0M784.9 520.7h0M772.1 493.9h0M772.3 495.5h0M760.6 640.6h0M726.2 530.4h0M739.6 533.8h0M740.9 532.4h0M820.9 526.6h0M779.3 486.5h0M709.9 602.8h0M791.3 582.4h0M791.9 582.9h0M822 567.8h0M822.9 566.8h0M796.9 528.3h0M797.5 527.6h0M759.5 504.1h0M751.5 488.1h0M739.3 508.2h0M823.4 436.9h0M720.3 527.1h0M789.5 497.3h0M795.8 483.7h0M797.2 485.4h0M801.2 582h0M785.3 602.8h0M710.7 487.2h0M787 524.4h0M787.8 523.5h0M810.3 620.3h0M759.5 562.9h0M758.8 562.6h0M769.5 488.8h0M696.4 487h0M724.2 555.7h0M846.9 486h0M718.6 473.9h0M720 473.5h0M795.3 506.9h0M727 543.7h0M727.4 542.7h0M772.8 467.3h0M819.7 529h0M786.6 496.6h0M676.8 519.5h0M744.2 528.2h0M858.3 554.4h0M766.8 575h0M767.4 467.1h0M720.5 563.2h0M769 515h0M769.6 515.8h0M830.8 502h0M830.8 502.8h0M813.5 535.6h0M815.3 536.4h0M810.1 543.8h0M809.9 543.4h0M689.9 553.5h0M787.6 600.9h0M788.5 601.4h0M690.1 554.3h0M689.7 554.7h0M739.7 479.8h0M809.4 570.7h0M810.9 572h0M810.8 503.5h0M811.3 502.3h0M823.5 595h0M824.4 596h0M774.6 529.2h0M786.9 570.4h0M785.5 570.5h0M777.3 640.8h0M761.7 458.3h0M746.8 595.2h0M738 557.4h0M772.4 570.8h0M818.6 556.1h0M757 563.4h0M749.7 626.9h0M761.6 558.1h0M804.7 515.4h0M796.2 482.6h0M794.5 481.5h0M765.5 520.1h0M765.4 518.3h0M808.2 544.5h0M808.7 544.6h0M747.9 518.4h0M771.6 516.4h0M742 554.9h0M741.6 553.2h0M797.6 507.4h0M835.2 529.2h0M835.6 530h0M740.1 560.9h0M745.7 545.5h0M723.7 500.9h0M733.3 547.2h0M779.6 557.6h0M780.1 557.7h0M832.8 554.8h0M834.2 554.8h0M784.1 546.5h0M710.6 492.7h0M778.1 528.6h0M793.3 479.3h0M738.3 476.7h0M768.4 576.7h0M713.3 572.6h0M804 620.7h0M777.1 583.2h0M800.9 558.3h0M804.4 496.9h0M750.8 496.2h0M779.8 641.2h0M837.2 559.2h0M713.8 494.5h0M824.2 540.3h0M756.9 558.9h0M739.3 560.9h0M739.8 562.1h0M734.6 594.8h0M734.7 595.6h0M746.7 467.6h0M829.2 553.5h0M749.8 496.4h0M783.7 547.3h0M811 595.9h0M678.6 518.6h0M830.8 593.4h0M830 594.4h0M750.6 541.4h0M786 518.6h0M804.7 440.5h0M777.1 531h0M723.4 536.4h0M739.6 476h0M785.6 543.4h0M785.3 542.2h0M794.6 582.3h0M824.5 547.8h0M824.4 549h0M798.4 555.8h0M810.8 582.3h0M811.2 582.4h0M770.7 544.6h0M794.3 558h0M747.5 570.6h0M747.4 569.6h0M726.3 502.6h0M812 503.9h0M766.7 518.6h0M730.4 460.6h0M763.8 610.2h0M763.2 610.4h0M701.6 500.5h0M859.5 490.1h0M770.4 517.2h0M768.4 466.5h0M701.4 504.8h0M805 570.5h0M847.1 487.5h0M765.8 475.6h0M802.8 555.2h0M761.1 583.9h0M727.1 575.1h0M785.2 572.9h0M786.1 572.8h0M827.5 541.3h0M828.8 541.1h0M696.7 570.8h0M792.3 567.8h0M720.9 565.3h0M754.6 596h0M734 489.5h0M734.5 487.8h0M732 517.5h0M807.4 572.6h0M810.8 476.2h0M700.2 527.8h0M719 541.5h0M837 512.8h0M776 464.9h0M695.8 568.3h0M810 567.5h0M756.7 587.9h0M755.9 586.5h0M754.3 463.1h0M801.8 634h0M731.9 569.9h0M762.6 584.3h0M760.9 584.9h0M737.3 488.6h0M822.6 606.3h0M760.6 585h0M801.9 568h0M803 568.3h0M812.6 504.6h0M787.1 551.1h0M785.3 552.5h0M798.8 555.3h0M714.6 546.3h0M716.2 546h0M769.2 595.7h0M809.6 516.9h0M805.1 520.6h0M802.6 568h0M803.1 567.8h0M792.4 532h0M790.9 533.4h0M773.9 518.2h0M754.7 465.6h0M857.7 498.9h0M758.4 500.5h0M731.8 568.3h0M733.4 568.4h0M846.3 599.8h0M807.5 444.4h0M828.8 540.5h0M795.5 483.4h0M794.7 481.6h0M766.6 542.4h0M728.4 566.3h0M681.6 555.5h0M854.9 528h0M844.2 566.4h0M747.4 501.3h0M761.5 568h0M775.8 583.5h0M774.9 582.8h0M785.7 466.3h0M785.8 466.5h0M813.6 479h0M758.8 615.4h0M722.6 558.8h0M836.4 526.9h0M810.6 504.5h0M748.2 461.5h0M803.8 569.4h0M804.2 568.4h0M837.9 607.5h0M742.2 614h0M792 466.5h0M816.3 539.5h0M770.8 522h0M769.5 520.8h0M760.2 504.6h0M829 475.9h0M762.5 569.2h0M826.6 541h0M746.1 541.5h0M745.4 542.9h0M706.6 473.9h0M723.7 585.3h0M724.5 569.2h0M725.4 569.9h0M785.1 527.9h0M847.1 514.4h0M809.5 567.3h0M809.9 566.2h0M814.1 502.3h0M813.2 502.5h0M714.4 489.1h0M742.4 612.8h0M741 528.7h0M739.9 530h0M739.1 479.5h0M772.5 532.2h0M806.2 520.2h0M741.9 596.8h0M741.1 597.3h0M778.7 613.7h0M731.9 625.1h0M782.6 572.4h0M793 504.3h0M713.3 522.5h0M760 482.1h0M759.6 480.9h0M797.2 484.9h0M759.2 587.2h0M787.2 574.2h0M721.5 529.4h0M769.2 522.6h0M767.7 521.2h0M829.9 476.2h0M809.5 528h0M777.9 527.8h0M721.2 527.1h0M709.5 500.8h0M806.2 516.2h0M805.2 516.5h0M725.7 556.9h0M820.4 499.5h0M769 598.2h0M718.6 616.6h0M717.2 617.2h0M753.8 520.7h0M724.2 608.5h0M820 553.8h0M797 557.9h0M758.1 508.5h0M751.1 498.2h0M738.4 528.3h0M770.1 573h0M758.2 426.5h0M786.6 549.6h0M785.2 548.7h0M765.8 467.2h0M732.7 567.5h0M751.3 493.6h0M811.7 513.3h0M783.2 555.4h0M726.4 554.8h0M706.5 569.3h0M740.8 611.9h0M817 514.2h0M726.8 460.6h0M826.9 487.8h0M814.5 507.4h0M815.6 507.7h0M767 551.4h0M768.3 550.9h0M843.8 566.6h0M726.9 603.4h0M725.7 603.4h0M823.7 490.1h0M741.2 511.2h0M777.3 589.1h0M743.9 476.2h0M742.5 476.7h0M792.8 595.2h0M792.7 596.3h0M799.3 563.8h0M852.6 586h0M718.8 528.3h0M717.3 530.1h0M788.5 627.8h0M751.4 550.9h0M797.4 506.5h0M719 513.8h0M729.7 466.2h0M751.4 523.4h0M758.6 608.9h0M807.5 515.1h0M807.3 515.6h0M735.7 464.6h0M735.9 466.2h0M728.9 570.9h0M728.8 572.2h0M805.7 524.6h0M709.8 576.2h0M749.3 552.1h0M755.1 463.8h0M801 479.5h0M715.2 517.9h0M757.6 608.9h0M762.6 555.8h0M761.6 554.8h0M753.7 518.4h0M797.2 618.2h0M796 617.6h0M713 574.4h0M846.5 489.3h0M815.8 561.8h0M778.8 563.1h0M801.5 504h0M764.4 506.5h0M764.9 507h0M771.2 585.4h0M761.1 478.1h0M819.6 502.5h0M804.9 627.2h0M800 529.8h0M805.2 621.3h0M705.1 555.2h0M704.6 553.8h0M790.2 489.9h0M749.9 543.3h0M749.7 541.6h0M808.3 515.5h0M694.3 550.7h0M821.2 621.2h0M731.7 568.7h0M708.7 486.6h0M710.3 486.9h0M795.4 502.5h0M794.8 503.1h0M683.7 558.9h0M810.9 505.5h0M811.8 507.2h0M807 596.3h0M805.4 596.9h0M753.7 569h0M755.1 568.1h0M700.7 527.5h0M673.1 517h0M795.1 589h0M840.8 464h0M730.2 603h0M688.6 593.3h0M810.7 506.7h0M691.6 566.3h0M748.9 576.3h0M724.5 483.5h0M729.8 518.8h0M803.4 519.6h0M743.8 639.2h0M722 582.4h0M741.3 510.1h0M741.7 509.7h0M777.6 482.5h0M711.3 576h0M738.3 540.7h0M737.6 540.7h0M794 554.5h0M793.9 552.8h0M791 467.4h0M742.5 641.5h0M741.5 555.9h0M741.1 556.6h0M836.7 503.9h0M770.8 468.5h0M752 582.5h0M751 583.7h0M784.6 602.3h0M726.3 530h0M728.1 530.3h0M792.8 532.1h0M701.8 514.1h0M700.4 514.1h0M835.6 504.7h0M713.8 573h0M727.3 604.1h0M824.8 550.9h0M736.7 582.5h0M771.1 544.6h0M786 496.6h0M803.5 514.1h0M699.5 541.2h0M704.1 484.1h0M742.2 556.4h0M735.1 466.3h0M777.9 581.7h0M702.2 534.6h0M725.3 461.2h0M848.8 527.5h0M766.2 439.1h0M740.1 558.8h0M755.6 517.9h0M757.2 518.6h0M764.6 519.4h0M732.9 516.5h0M733.8 517.4h0M815.2 588.7h0M780.6 450.5h0M741 509.6h0M740.5 509.3h0M770.8 622.4h0M808.6 491.1h0M724.7 598.7h0M736.2 449.7h0M784.5 547.6h0M783.9 547.2h0M796.5 530.2h0M795.6 530.2h0M817.3 562.9h0M748.6 515.2h0M748 514.2h0M724.3 479.8h0M724.2 480h0M765.7 492.2h0M823.3 492.7h0M793.5 477.1h0M794.3 475.4h0M771.1 558.1h0M709.6 605.1h0M710 603.7h0M769.7 548.1h0M768.1 547.3h0M724.7 569.4h0M767.1 575.6h0M739.8 508.6h0M748.1 575.9h0M804 520.7h0M705.3 594.6h0M789.8 517.5h0M855.1 533.4h0M734 585.7h0M768 602.7h0M860.4 568.5h0M850 499.9h0M735 488.8h0M841.8 514.9h0M808.7 575.2h0M810.3 512.5h0M816.4 502.2h0M815.2 503.7h0M772.6 557.6h0M742.6 535.8h0M841.1 594.7h0M754.7 449.3h0M804.8 515.6h0M786.6 572.3h0M752.7 492.3h0M810.1 476.1h0M785.4 495.3h0M740.2 615.3h0M844.6 568.1h0M843.2 566.9h0M707 528.5h0M706.4 529.7h0M782.6 585.2h0M789.9 543.7h0M771.4 582.6h0M775.8 481.4h0M774.3 479.9h0M816.9 508.7h0M789.5 571h0M782.4 531.5h0M783.9 530.5h0M829.2 568.8h0M796 564.4h0M794.3 566.2h0M802.8 515h0M753.9 468.2h0M752.4 440.8h0M683.8 513.6h0M776.7 557h0M776.2 557.5h0M769.1 525.9h0M725 594.5h0M750.3 542.4h0M820.8 570.7h0M786.8 602.2h0M725.2 569.1h0M719.3 515.5h0M719.4 516.6h0M780.8 501.6h0M760.4 475.8h0M847 540h0M774.3 503h0M772.9 503h0M755.3 503.7h0M754.2 503.9h0M759.1 564.1h0M758 562.5h0M721.4 560.5h0M746 503.5h0M800.6 502.8h0M745.4 602h0M701.6 610.8h0M786.7 574h0M760.5 481.2h0M844.6 571.7h0M707.9 621.8h0M773.2 515.7h0M768.2 516.6h0M769.4 517.2h0M799.8 529h0M799 527.5h0M812.7 568.1h0M731.5 514.9h0M814.2 559.5h0M807.4 522.3h0M706.9 534.3h0M706.2 534.4h0M807 550.9h0M757.7 504.8h0M743.4 570.2h0M698.6 556.3h0M773 496h0M830.3 477.2h0M818.2 583.9h0M816.8 583.4h0M811.5 542.2h0M771.5 544.9h0M771.9 545.7h0M771.8 544.3h0M778.2 593.9h0M784 546.2h0M784.5 547.7h0M721.6 502.7h0M816.9 609.6h0M743.7 555.3h0M742.3 555.3h0M701.8 561.5h0M701.8 560.7h0M692.3 489.2h0M741.3 531.4h0M815.1 615.8h0M842.7 544.2h0M734.6 583.2h0M827.6 540.7h0M774.8 478h0M773.4 478.6h0M756.1 592.3h0M844 573h0M845.2 539.8h0M797.8 427.4h0M818.4 533h0M831.6 529.2h0M823.6 462.1h0M708.8 530.8h0M790.7 571.9h0M728.1 596.9h0M844.1 601h0M753.1 522.3h0M760.8 502.9h0M725.2 557.7h0M724.7 556.6h0M797.3 510.4h0M779.1 536.4h0M779.8 537.5h0M737.4 590.7h0M798.1 561.9h0M798.4 560.2h0M789.8 551.6h0M811.7 560.8h0M710.5 502.5h0M809.1 501.9h0M759.1 564.1h0M852.6 527.4h0M769.7 623.2h0M701.1 588.7h0M770.2 574.2h0M737.6 474.4h0M737.6 473.1h0M744 581.6h0M791.3 595h0M792 596.3h0M852.7 557.2h0M820.6 514.6h0M821.9 514.2h0M747.6 463h0M749.2 464.7h0M794.1 529.2h0M793.1 527.5h0M795.8 512h0M822.4 463.5h0M791.5 543.8h0M747.5 490.8h0M758.8 588.3h0M770.3 522.6h0M839.9 493.3h0M801.1 519.4h0M739.8 610.4h0M768.5 489.2h0M766.8 488.8h0M789.4 543.7h0M788.4 545.2h0M711.7 492.4h0M707.3 505.2h0M736.7 585.5h0M705.8 581.4h0M846.6 513.5h0M845 514.3h0M774.5 466.3h0M775.6 464.6h0M766.6 503.2h0M693 539.6h0M819.6 487.4h0M723.8 555.8h0M845.2 545h0M815 499.7h0M761.6 483.9h0M848.1 539.8h0M730.2 575.5h0M717.9 474.3h0M717.5 473.4h0M840.8 540.7h0M723.4 504.8h0M818.1 450.2h0M817.7 450.2h0M713.5 573.3h0M836.3 591.4h0M707.8 571.2h0M813.9 554.6h0M813.8 553.4h0M856.7 553.8h0M766.3 570.9h0M828.1 573h0M805.9 568.5h0M807.5 570.2h0M815.1 582.1h0M803.8 513.9h0M805.2 512.2h0M804.6 521.9h0M761.6 482.7h0M795.9 479.4h0M782 517.6h0M772.1 599.3h0M689.4 526.3h0M784.8 521.6h0M732.1 491.2h0M695.7 547.2h0M745.5 476.4h0M725.8 530.7h0M727.5 529.3h0M738.1 557.4h0M762.9 582.3h0M719.1 589.5h0M729.6 466.6h0M730.8 468.3h0M818.6 562.2h0M811 555.5h0M810.1 555.5h0M820.3 543.7h0M768 550.5h0M782.9 553.7h0M737.3 642h0M797.9 528.1h0M796.2 526.5h0M783 576.5h0M819.9 528.1h0M717.8 473.8h0M734.3 637.7h0M748.7 493.4h0M815.4 481.2h0M815.9 480h0M773.6 556h0M775 555.1h0M814.7 506.5h0M804 493.5h0M804.1 492.7h0M742 586.1h0M767.3 495.3h0M765.5 496.3h0M748.1 517h0M769.9 547h0M771.1 547.3h0M738.9 475.7h0M746.9 530.2h0M721 616.2h0M802.1 516.4h0M828.7 503.7h0M827.6 502.1h0M713.5 547.1h0M788.8 547.6h0M795.1 478.6h0M752.5 586.3h0M765.2 547.1h0M765.1 545.3h0M846.3 576.2h0M847.5 574.5h0M808 548.3h0M841.3 544.5h0M744.2 598.4h0M806 520.8h0M751.4 518.1h0M844.4 572.9h0M844.8 492.3h0M801.9 462.7h0M803.4 463.1h0M722.6 586.9h0M751.6 581.5h0M728.7 598.6h0M816.6 559.9h0M781.2 505.9h0M780.5 505.6h0M759 533.1h0M697.1 513.7h0M697.5 512.9h0M861.7 491.6h0M861.1 491.6h0M755.8 531h0M755.7 529.4h0M857.9 559.3h0M705.1 583.4h0M703.5 582.5h0M684.2 533.4h0M727.3 555.5h0M775.5 475.3h0M774.4 475.5h0M824.4 547.4h0M804.1 569.5h0M803.4 570.3h0M759.5 528.5h0M817.7 528.9h0M817.6 528.6h0M786.4 573.4h0M787.3 573.1h0M708.8 474.8h0M781.8 428.7h0M781.7 429.1h0M756.7 478.1h0M824.9 593.7h0M826.4 594.7h0M814.4 584.4h0M831.7 475.3h0M760 537.6h0M764.8 450.8h0M766.5 450.3h0M734.2 554.6h0M733 554.4h0M773.3 463.5h0M743.3 558.2h0M846.6 487.2h0M714.6 517.3h0M760.6 507.2h0M774.1 557.5h0M734.6 613.2h0M807.8 521.2h0M769.4 540.8h0M764.7 541.3h0M733.5 582h0M813.1 621.1h0M731.6 574.2h0M805.9 462.3h0M717.2 557.5h0M813.6 479.5h0M800.2 504.6h0M801.7 505.1h0M778.7 643h0M804.2 489.4h0M757.7 555.6h0M756.8 556.6h0M803.9 475h0M757.2 504.8h0M730.5 572.7h0M730.9 573.5h0M728.4 529.2h0M795.1 527.8h0M755.1 518.3h0M756 518.1h0M846.6 512.7h0M747.8 437.9h0M786.8 471.2h0M714.6 596.3h0M690.9 593.2h0M755.8 582.3h0M816.1 582.3h0M815.7 581.2h0M816.4 483.7h0M768.7 524.4h0M828.1 513.6h0M827.9 514.4h0M685.5 480.4h0M764.9 597.8h0M765.5 599.2h0M767 522.4h0M783.8 597.8h0M734.5 595.4h0M733.2 595.3h0M679.9 489.8h0M779.7 586.9h0M781.1 586.3h0M797 527.8h0M790.7 648.2h0M818.8 474.3h0M726.7 541.1h0M727.8 540h0M706.2 580.4h0M792.1 555.7h0M765.3 570.9h0M755.4 502.5h0M754.3 502.3h0M834 608.1h0M813.8 613.2h0M775.2 515.9h0M770.9 464.6h0M704.4 501.4h0M778.9 512.2h0M777.9 513h0M757.5 500.1h0M764.6 543.2h0M764.4 542.2h0M815.2 482.8h0M813.9 483.4h0M756.3 531.3h0M711.4 599.8h0M731.1 569.4h0M732.8 494.4h0M795.9 564.3h0M763.5 624.2h0M735.3 567.6h0M737.4 588.3h0M736 589.8h0M822 540.8h0M823 541.4h0M781.2 569.3h0M782 569h0M731.5 625.7h0M807.8 490.8h0M721.6 563.2h0M711.8 517.5h0M672.8 527.3h0M780.7 484.9h0M698 514.4h0M702.4 503.1h0M700.2 541.1h0M733 519.4h0M790.9 488.1h0M719.9 489.1h0M737.1 529h0M737.5 528.6h0M734.8 556.5h0M722.4 537.8h0M781.9 531.9h0M753.1 497.6h0M756.9 584.8h0M801.2 567.3h0M818.3 635h0M817.5 633.2h0M750.1 598.1h0M776.2 582.8h0M720.7 585h0M719.3 584.5h0M782.5 529.4h0M759.4 533.2h0M795 638.6h0M709.8 500.2h0M828.5 594.5h0M827.1 596.1h0M755.5 557.8h0M818.2 554.6h0M794.8 533.1h0M795.4 533.9h0M851.5 478.9h0M745.2 488.2h0M739.3 591.4h0M807.4 493.2h0M800.9 557.2h0M802.4 556.4h0M705.6 593.6h0M756.4 559.6h0M755.7 561.3h0M745.4 555.1h0M744 556.4h0M808.4 519.4h0M807 520.7h0M732.6 625.8h0M764.2 475.3h0M764.6 473.9h0M795.1 507.4h0M723.4 562h0M839.7 541.5h0M702.7 554.4h0M737 614.4h0M801.9 570.1h0M800.8 569.9h0M718.1 519.1h0M744.8 569.2h0M749.6 551.3h0M748.9 550.8h0M733.3 464.9h0M790.1 470.8h0M763.9 449.9h0M719.3 559.2h0M720 557.6h0M777.9 586.2h0M812.6 501h0M723.9 611h0M738.7 616.6h0M781.1 541.2h0M843.4 596.1h0M760.1 557.2h0M814.9 607.8h0M763.3 504.8h0M754.4 541.8h0M773 476.1h0M718.3 581.9h0M764.9 569.5h0M764.1 570.9h0M819.9 474.9h0M704.9 593.9h0M846.6 489.4h0M835.7 480.8h0M765.7 568.5h0M798.3 449.9h0M773.8 491.8h0M773.7 492.6h0M772.5 466.2h0M811.3 582.8h0M810.6 582.3h0M814 585.3h0M862.4 570.1h0M690.2 531.6h0M816.2 607h0M785.5 544.2h0M818 540.1h0M799 616.1h0M802 540.9h0M801.6 540.6h0M703.1 506.9h0M758.4 533.8h0M721.3 608.9h0M782 543.2h0M781.7 543.3h0M763.9 573.5h0M685.4 579.5h0M819.1 479.1h0M819.4 480.7h0M761.5 557.4h0M725.3 448h0M723.2 482.5h0M723 611.7h0M797.7 635.4h0M697.3 493.5h0M737.1 540.6h0M815.2 507.3h0M765.2 548.1h0M771.9 495.5h0M772.5 495.1h0M827.1 592.6h0M720.1 473.8h0M777.1 481h0M708.8 554.3h0M708.7 555.9h0M762.8 482.7h0M780.1 634.9h0M790.8 623.2h0M734.6 544.1h0M734.2 544.9h0M736.5 616.6h0M735.4 616.9h0M788 489h0M810.9 570.6h0M697.2 493.7h0M806.2 628.6h0M764.5 531.1h0M812.5 478.7h0M713.8 515.9h0M712.1 515h0M707 528.2h0M706.7 529.8h0M747 517.1h0M747.7 518.2h0M766.9 598h0M835.1 554.3h0M833.9 552.9h0M776.2 528.5h0M679.4 486.7h0M704.3 532.6h0M745.5 628h0M832.5 530.8h0M739.8 617h0M786.4 602.1h0M759.9 586.7h0M813.7 534h0M803 527.2h0M730.2 523.3h0M759.6 539.5h0M735.1 461.9h0M870.4 533.5h0M715.7 514.3h0M841.7 540h0M749.1 571h0M797.9 530.1h0M780.5 516.4h0M679 553.2h0M791.8 559.5h0M791.2 473.7h0M836.8 562h0M836.3 561.2h0M792.6 516.3h0M802.2 584h0M731.2 469.7h0M723.6 536.9h0M677.9 522.9h0M730.3 550.7h0M728.7 551.9h0M741.8 511.3h0M793.1 554.9h0M793.3 554.7h0M813.5 528.9h0M773.6 611h0M779.1 482h0M779.8 483.7h0M797.1 425.4h0M785 597h0M785.1 597.2h0M843.7 549.9h0M725.4 555.7h0M772.2 440h0M762 613.6h0M817.1 534.3h0M815.6 534.3h0M734.5 545.6h0M712 490.1h0M791.4 540.5h0M800.1 480.3h0M720.9 615.2h0M770.8 469.8h0M773.1 556.6h0M786.6 630h0M759.1 562.3h0M769 545.3h0M851 478.4h0M805.6 523.4h0M805.5 522.4h0M746.8 572.8h0M763.7 572.2h0M824.3 517.7h0M777.1 557.7h0M732.8 542.4h0M749.1 549.1h0M756.8 531.7h0M762.5 505.9h0M762.5 505.8h0M694.1 514.2h0M766.5 572.5h0M803 517.8h0M798 556.2h0M739.2 535.6h0M835.3 532.4h0M705.8 510.7h0M705.9 511.8h0M810.5 500.9h0M811.4 500.5h0M784.7 494.5h0M767.4 573.9h0M766.4 573.1h0M776.4 543h0M805.8 515.5h0M752.7 649.7h0M788.4 576.9h0M755.9 504.6h0M764.1 582h0M765.3 572.7h0M767.3 468.8h0M769.1 467.7h0M789.7 543h0M795.8 502.3h0M758.3 508.9h0M756.8 507.7h0M810.7 513.5h0M799.5 529.4h0M798.5 528.7h0M781.6 502.7h0M716 491h0M729.2 571.1h0M860.3 512.3h0M737.1 590.3h0M761.8 456.5h0M763 455.3h0M771.6 489.6h0M775.5 503.4h0M774.8 503.1h0M753.1 543.8h0M798 529.9h0M728.8 543.1h0M768.2 603.1h0M765.9 475.8h0M830.1 581.3h0M791.7 490.7h0M734 487.1h0M813.5 561.9h0M753.6 569.7h0M734.6 613.9h0M753.9 595.4h0M771.4 542.5h0M775.5 560.7h0M775.6 561.9h0M751.5 573.8h0M752.9 574.8h0M807.3 468.8h0M773.4 463.2h0M771.7 462h0M733.5 622.9h0M803.5 450.3h0M804.2 450.7h0M744.3 533.5h0M745.9 533.7h0M786.1 462.3h0M699.8 540h0M699.2 538.6h0M702.6 526.8h0M702.6 525.2h0M769.9 602.9h0M786.4 543.1h0M691 466.1h0M690.7 466.3h0M816.7 535h0M738 489.8h0M807.8 542.7h0M721.1 474h0M777.6 506.9h0M777.9 507.1h0M831 541.4h0M739 479.3h0M789.2 464.2h0M806.2 550.7h0M807.2 550.4h0M824.5 569h0M809.3 623.3h0M773 465.1h0M772.7 464h0M828.3 491h0M744.4 542.9h0M716.2 491.9h0M768.9 541.7h0M701.6 560.1h0M764.3 544.2h0M763 544.7h0M801.3 542.8h0M784.7 466.9h0M725.9 624.8h0M795.9 528.5h0M762.4 599.2h0M760.8 532h0M740.5 582.2h0M823.6 496.8h0M761.8 612.5h0M761.5 613.4h0M687.7 504.7h0M737.9 532.2h0M844.6 491.3h0M770.9 599.5h0M789.2 514.7h0M705.4 560.1h0M744.1 581.8h0M745.9 581.2h0M779.5 581.1h0M759.4 458.4h0M712.2 600.1h0M711.2 600h0M827.5 570.1h0M807.7 513.7h0M731.8 519h0M782.3 596.7h0M734.4 490.6h0M746.4 514.8h0M811.8 463.6h0M749.4 568.9h0M749.9 568.8h0M753.8 493.9h0M704.7 483.6h0M758 591.5h0M756.6 591h0M802 545.3h0M802.7 545.6h0M694 513.7h0M796.6 453.2h0M777.4 591.5h0M778.8 590.2h0M749.1 469.4h0M747.9 468.9h0M761.8 568.1h0M765.9 597h0M828.8 502.6h0M829.2 501.5h0M747.9 492.4h0M747.5 491h0M777.5 501.6h0M784 542h0M731.7 515.7h0M732.9 515.4h0M796.9 559.7h0M751.9 581.1h0M719 637.1h0M718.5 635.7h0M745.4 488.5h0M746.2 490.1h0M775.9 480.8h0M836.3 563.8h0M691.6 516h0M812.4 476h0M811.8 474.9h0M706.9 600.1h0M847.3 572.6h0M738.5 503.4h0M715.1 610.1h0M816.4 479.6h0M817.9 478h0M827.8 490h0M719.2 558.7h0M718.8 559.9h0M797 504.6h0M747.6 568.2h0M751.9 628h0M803.7 548.2h0M804.2 546.7h0M795.3 564.8h0M809.3 569.2h0M841.8 540h0M841.2 538.5h0M825.7 491.6h0M786.7 515.6h0M785.9 517.2h0M800.1 535.3h0M786.3 602.2h0M765.2 623.7h0M739.2 532.8h0M789.2 513.9h0M737.2 611.4h0M770.7 547.6h0M704.6 531.9h0M771.4 598h0M772.6 596.3h0M844.5 598.5h0M844.1 599.9h0M739.5 563.3h0M777.1 594h0M684.5 506.2h0M866.2 540h0M760.3 556.4h0M705.7 598.5h0M865.7 545.1h0M774.5 587h0M775.9 585.6h0M779.8 475.2h0M808 523.1h0M862.7 543.4h0M793.5 479h0M794.8 478.9h0M789.4 567.3h0M766.3 605.6h0M749.6 624.1h0M731.1 631.3h0M779.3 615.5h0M791.1 441.2h0M792.5 440.8h0M856.2 561.7h0M829.3 539.5h0M699.2 517.9h0M789.2 521.7h0M723.3 558.9h0M723.9 557.6h0M815.4 477.6h0M766 518.7h0M736.3 585.7h0M765 519.2h0M742.5 555.5h0M763.1 542.9h0M763.6 542.7h0M774.4 531.1h0M707.8 566.9h0M716.3 491.7h0M716.1 491.5h0M748.8 601.7h0M766.2 506.2h0M815.3 561.8h0M798.4 634.1h0M844 468.5h0M824.1 567.7h0M778.4 556.9h0M698.5 517.8h0M696.9 516.8h0M824.5 575h0M697.5 493h0M769.2 472.1h0M769 576.5h0M785.9 595h0M786.1 548.9h0M853.8 584.9h0M696.3 545.6h0M855.6 553.8h0M826.8 519.2h0M799.1 558.5h0M737 490.2h0M726.4 622.6h0M810.3 504.2h0M785.3 521.4h0M721.8 502.6h0M819 559.4h0M836.5 499.9h0M835.5 501.1h0M711.1 593.8h0M764.6 576.5h0M720.1 477.9h0M720.1 478.5h0M802.7 568.3h0M752.6 517.6h0M766.5 541.5h0M765.9 541.2h0M780.9 490.1h0M711.2 526.9h0M800.8 558.4h0M777 507.8h0M795.2 528.2h0M795.7 529.3h0M718.1 589.7h0M718 558h0M825 572.3h0M740.2 535.3h0M741 537h0M733 468.7h0M777.1 480h0M776.4 480.8h0M759.3 502.3h0M760.8 500.6h0M752.5 544.7h0M839 527.1h0M812.9 448.9h0M742.2 529.3h0M742.3 527.6h0M724.9 507.2h0M743 503.1h0M835.5 554.4h0M698.6 492.3h0M840.4 555.9h0M771.3 569.2h0M750.9 515.9h0M713.9 549.9h0M766 628.1h0M766.3 627.8h0M699.1 515h0M700.7 515.3h0M787 516.9h0M774.1 492.8h0M778.1 483h0M777.5 482.2h0M801.8 463.5h0M710.7 540.1h0M711.5 538.4h0M771.6 595h0M736.3 490.2h0M762 534.6h0M800.1 482.7h0M752.9 545.4h0M732.8 581.4h0M733.5 580.4h0M780.7 506.2h0M726.6 528h0M810.1 516.1h0M798.2 529.2h0M813.1 560.1h0M812.3 561.2h0M720.5 564.8h0M848.6 541.6h0M851.8 481h0M730.6 551.8h0M765 569.7h0M797.1 583.1h0M798.5 584.3h0M703.1 580.9h0M764.2 452.6h0M741.8 532.9h0M822.7 521.9h0M833.8 480.7h0M739.4 529.3h0M768.6 547.6h0M767.8 547.1h0M804.6 494.4h0M737.1 490.3h0M735.6 491.5h0M792 501.5h0M792.3 501.4h0M725.2 509.3h0M798 457.6h0M798 503.4h0M797.4 504.4h0M786.7 574.4h0M791.6 557.2h0M687.7 532.8h0M688.1 533.3h0M815.3 536.2h0M743.9 558.6h0M732.2 519.8h0M851.3 526.4h0M754.5 500.7h0M766.8 599.2h0M825.7 576h0M748.7 569.8h0M754.6 624.2h0M788 513.6h0M819.8 501.8h0M818.7 500.1h0M758.3 590h0M724.3 558.6h0M809.4 528.2h0M810.1 526.7h0M769.9 631.8h0M769.5 632.6h0M739.6 613.3h0M685.2 499.9h0M703.8 533.1h0M722.7 610.7h0M707.8 555.8h0M670.8 531.6h0M720.7 475.8h0M791.9 503.8h0M791.9 503.9h0M770.2 542.2h0M712.4 519.1h0M711.3 517.6h0M847.9 529.3h0M799.3 582.5h0M722.7 452.8h0M738.3 449.2h0M739.1 501.4h0M854.7 560.3h0M793 477h0M794.7 477.8h0M708.1 568.4h0M729.6 549.7h0M780.4 559.8h0M753.3 528.4h0M753.1 528.6h0M769.3 523.4h0M768.1 523.5h0M805.3 543.2h0M800.2 580.6h0M735.4 543.5h0M734.8 544.2h0M716.4 580.5h0M849.5 525.9h0M851.1 524.2h0M777 582.7h0M775.4 583.8h0M772.9 436.4h0M833.8 533.5h0M753.4 568.4h0M837.4 526h0M782.7 490.7h0M746.1 574.6h0M746.3 575.5h0M763.7 595.8h0M828.2 464h0M744.5 447.7h0M746 447.8h0M708.5 531.9h0M707.8 530.5h0M788 522.1h0M845 570.7h0M743.3 511h0M782 610.6h0M771.1 609.8h0M767 550.5h0M767.4 598.1h0M776.4 452.7h0M777.5 452.7h0M722.3 500.2h0M689.7 572.4h0M859.1 567.1h0M784.2 424.8h0M704.2 480.2h0M823.2 495.3h0M807 597.4h0M745.1 599.9h0M744.8 598.8h0M779.5 529.6h0M777.2 482h0M708.6 568h0M733.3 468.1h0" stroke="#0000ff" stroke-width="2" stroke-linecap="round"/>
<path d="M730.1 517.8h0M799.2 530.5h0M744 475h0M806.6 567.8h0M722.4 583.4h0M824.6 575.3h0M811 554h0M813.3 559.7h0M731.1 519.2h0M783.5 502.2h0M739.6 477.4h0M772.1 493.1h0M759.9 476.3h0M784.1 490.4h0M738 516.8h0M769.8 488.8h0M758.4 589.4h0M793.3 502.3h0M782.5 515.4h0M709.1 543.5h0M750.1 514.7h0M817.8 557.2h0M833.5 527.7h0M804.5 520.2h0M777.2 509.4h0M818.4 555.5h0M800.6 529.9h0M742.7 475.9h0M731.5 494.8h0M757.8 480.5h0M801.6 542.4h0M799.2 529.6h0M815.2 581.9h0M721 505.7h0M751 494.5h0M745.6 475.6h0M763.7 528.8h0M777.1 565.8h0M740 536.2h0M730.8 574h0M792.8 584.3h0M742.3 510.3h0M766.5 570.3h0M807.5 514.6h0M706.3 568.4h0M784.1 517.4h0M749.1 549.6h0M791.3 542.6h0M730 501.1h0M760.1 583.4h0M829.4 542.9h0M813.1 530.6h0M803 517.2h0M772.5 520.2h0M776.2 610.6h0M716.9 517.1h0M775.5 587.4h0M733.8 495h0M718.5 554.1h0M751.4 571.1h0M795.8 583.2h0M824.4 546.5h0M808.8 574.1h0M732.2 496.1h0M810.5 529.6h0M756.5 529h0M759.9 527.8h0M775.5 529.4h0M755 585.2h0M748.3 576h0M743.2 507.9h0M809 515.7h0M769.3 490.4h0M777.9 480.5h0M744.6 527.9h0M809.3 516.5h0M789.3 516.5h0M792.5 515.9h0M796.3 508.9h0M815.2 506.6h0M757.9 564.5h0M745.7 505.4h0M826.3 493.3h0M762 532h0M830.8 527.8h0M736.6 589.3h0M774.7 584.9h0M731.7 469.5h0M782.9 462.8h0M746.7 567.9h0M787 521.5h0M770.6 582.3h0M735.8 555.9h0M714.7 514.8h0M801.1 515.7h0M747.6 569.4h0M757.7 502.5h0M756.6 531.3h0M793 514.4h0M768.6 466.6h0M797.4 509.1h0M780.2 587.3h0M795.7 507.2h0M729.4 575.5h0M759 534.4h0M774.8 609.8h0M715.1 497h0M822.7 567.4h0M749.7 599.6h0M715 496h0M750.6 468.8h0M830.8 529.2h0M796.4 581.6h0M759.1 530.2h0M797.1 528.3h0M821.1 544h0M743.7 503h0M815.1 484.4h0M743.4 554.3h0M748.2 466.7h0M746.8 477.8h0M819.5 526.7h0M806.5 568.2h0M714.4 493.8h0M772.5 597.8h0M791.2 517.1h0M786.1 493.2h0M773.1 583.4h0M783.3 488.6h0M713.4 520.2h0M821.2 544.5h0M783.3 502.9h0M783.6 541.2h0M776.2 582.1h0M783.4 463.1h0M747.9 515.8h0M814.5 507.2h0M754 529.1h0M831.8 533.1h0M759.2 528.8h0M765.3 504.4h0M718.5 557.5h0M747.8 464.4h0M819.3 557h0M798.2 475.5h0M778.3 582h0M799.8 501.7h0M782.2 501.8h0M776.8 556h0M712.7 571.1h0M753.1 585.2h0M794.2 585.5h0M820.2 543.3h0M762.9 595.9h0M731.1 541h0M778.9 561.9h0M773.5 528.2h0M761.6 481.9h0M785 519.5h0M742 583.5h0M726 532h0M819.5 526.9h0M799.7 505.6h0M742.1 561h0M788.1 498.6h0M780.1 534.2h0M819.2 529.7h0M788.1 494.8h0M831.6 558.2h0M764.2 490.3h0M766.2 574.3h0M796.4 536.2h0M750.6 521.2h0M738 479h0M774.9 528.7h0M788.8 523.3h0M791.8 597.1h0M770.7 569.8h0M818.1 557.7h0M757.6 564.7h0M760.1 556.9h0M731.7 523.5h0M748.8 518.8h0M772.8 515.7h0M799.1 507.3h0M740.6 562h0M734.2 546.1h0M822.3 544h0M796.3 556.4h0M811.6 554.2h0M778.8 528.3h0M767 576.2h0M714.1 572.4h0M776.4 582.8h0M800.7 556.8h0M797.4 534.8h0M734.1 516.3h0M747.9 466.2h0M810.9 476.4h0M815.6 527.9h0M777.1 529.3h0M795.4 583.5h0M764.9 597.7h0M770.8 543.4h0M754.8 518.4h0M765.5 518.6h0M770.7 516.5h0M795.5 610h0M795.6 483.1h0M791.2 568.6h0M747.2 489.9h0M833.1 560h0M748.6 491.7h0M808.8 573.5h0M775 464.3h0M808.2 567.9h0M699.2 541.3h0M733.6 568.8h0M752.1 542.4h0M766.7 574.3h0M809.1 517.2h0M753.8 466.7h0M757.5 502.1h0M803.1 545h0M713.8 519.2h0M784.8 466.5h0M788.7 568.5h0M785.5 577.7h0M727.8 567.5h0M781.4 585.2h0M723.5 557.4h0M836.5 528h0M721.1 527.7h0M810.9 503.5h0M777 479.1h0M814.8 537.9h0M761.4 556.3h0M707 532.3h0M767.2 492.6h0M826.6 541.3h0M781.6 505.9h0M783.4 528.3h0M771.2 490.8h0M753.1 518.9h0M766.4 601.4h0M773.4 531.1h0M807.1 519h0M792.7 504.2h0M796.6 485.1h0M788.3 575.3h0M777.2 529h0M788.7 576.4h0M818.7 500.9h0M818.5 555.4h0M812.8 581.2h0M752.5 496.7h0M820.6 513.3h0M767.3 468h0M751.6 494.6h0M810 514.8h0M818.5 513.9h0M776.9 475.6h0M753.9 518.5h0M779 589.4h0M798.8 562.2h0M740.3 501.6h0M825.4 514.5h0M749.8 549.5h0M797.5 507.2h0M722.9 533.5h0M759.9 481h0M804.8 523.2h0M747.6 603.5h0M716.7 517.1h0M770.7 599.7h0M800.2 504.7h0M818.7 504h0M778.1 482.3h0M742.2 556.1h0M808 517.2h0M731.3 568.5h0M774 516.5h0M794.8 588.4h0M795 535.2h0M811.1 505.3h0M746.9 501.6h0M777.1 481h0M711.1 575.3h0M734.7 466.4h0M835.2 503.4h0M738.4 581.7h0M776.7 581.8h0M765.6 518.6h0M752.4 572.4h0M742.6 611.6h0M801.8 518h0M745.7 542.8h0M716.4 540.5h0M786.9 467.9h0M766.7 574.6h0M740.1 508.1h0M798 476.7h0M813.9 534.8h0M798.2 480.9h0M823.7 514.9h0M733.9 489.8h0M811.3 513.8h0M802.8 518.7h0M805.2 514.5h0M821 515.4h0M781.6 585.8h0M791.1 544.7h0M815.7 507.8h0M779.5 610.4h0M790.5 572.3h0M824.7 518.9h0M803.5 515.8h0M785.5 600.7h0M804.6 495.1h0M807.3 549.6h0M799.2 503.9h0M726.3 531h0M785 521.7h0M706 532.9h0M774 515h0M723.2 529.4h0M732.8 516.6h0M805.4 549.9h0M759.3 506.2h0M770.2 548.5h0M771.8 495.1h0M755.4 556.5h0M824 494.6h0M776.9 592.2h0M815.2 480.5h0M789.9 570.3h0M816.9 554h0M757.4 591.1h0M704.7 535h0M816 536.7h0M792.1 540.9h0M830.5 529.8h0M789.1 571.6h0M743 584.4h0M795.7 509.7h0M741.5 481.8h0M788.3 549.8h0M809.1 500.8h0M768.5 575.5h0M734.9 516.2h0M792.5 542.8h0M778.9 560.7h0M759.5 587.4h0M771.2 521.4h0M802.1 519.4h0M837.4 526.6h0M722.5 507.5h0M771.2 516.7h0M795.4 614.2h0M766 501.9h0M819.5 489.2h0M725.3 554.2h0M816.1 500.9h0M813.3 500.9h0M785.6 577.4h0M767 569.3h0M829 568.8h0M757.1 488.7h0M806.3 520.4h0M760.5 482.3h0M783.6 517.8h0M771.2 600.1h0M731.9 492.7h0M768.3 601.7h0M818.3 561.1h0M767.1 550.8h0M781.9 555h0M820.4 490.9h0M784.4 575.3h0M706.5 507.9h0M727.8 594.9h0M790.1 546.1h0M753.8 587.1h0M721.5 581.7h0M752.6 516.6h0M759.8 476.2h0M760.4 533.9h0M738.4 591.1h0M726 557.2h0M826 545.7h0M813.2 583.8h0M773.3 464h0M775 556.3h0M806.1 522.6h0M768.7 541.9h0M731.4 574.2h0M815.2 507.5h0M822.5 517.7h0M730.5 550.9h0M803 488.2h0M789.5 554.7h0M728.3 528.9h0M771.9 491.3h0M795.1 528.2h0M754.3 581.7h0M766.9 521.8h0M783.3 596.1h0M783.5 519.3h0M799.7 556.9h0M792.6 554.7h0M720.6 514.5h0M801.6 515h0M757.9 501.9h0M757.6 529.5h0M796.5 564.8h0M725.8 554.4h0M770.3 574.5h0M747.9 515.9h0M778.3 535h0M738.7 590.6h0M758.7 482.3h0M779.4 485.9h0M731 519.1h0M804.5 575.6h0M736 555h0M800.5 568h0M749.6 516.9h0M750.1 597.6h0M781.4 597.2h0M730.8 515h0M760.7 533.8h0M709 500.9h0M755.4 556.6h0M817.6 554.1h0M779.7 616h0M722.2 561.2h0M840 542.4h0M744 569.3h0M759.8 587.8h0M734.1 466.3h0M778.1 587.1h0M768.6 551.3h0M762.7 504.5h0M755.8 542h0M727.9 529.5h0M764.1 569.3h0M762.8 571.7h0M760.9 558.7h0M766.9 549.2h0M733.6 569.2h0M796 582.8h0M793.5 501.7h0M806.4 519.2h0M819.2 529.1h0M787.6 488.7h0M810.3 569.2h0M719.1 558.1h0M763 530h0M765.6 597.1h0M774.5 529.7h0M759.2 585.9h0M760.6 586.3h0M815.3 534h0M732 522.7h0M781.7 515.9h0M776.7 505.5h0M792.2 558.5h0M792.8 475.3h0M713.6 541.3h0M754.5 492.5h0M790.8 517.1h0M812.3 528.9h0M756 502.5h0M769.9 601.8h0M807.7 547.4h0M794.9 506.4h0M748.9 522.3h0M790.7 541.1h0M780.2 530.8h0M771.7 469.6h0M735.4 464.5h0M712.9 517.2h0M786.7 493.1h0M767.2 519.4h0M775.8 556.1h0M769.3 548.8h0M761.9 484.4h0M764.7 571.2h0M796.3 554.7h0M740.4 535.9h0M702.8 531.6h0M804.6 514h0M787.2 578h0M762.6 583.1h0M771.6 469h0M777.6 529.5h0M712 493.9h0M797.6 587.2h0M742.9 558.3h0M754 514.9h0M742.4 474.7h0M705.5 556.6h0M768.2 604.1h0M734.8 488.2h0M752.7 521.4h0M785.4 541.5h0M768.9 467.8h0M707.5 531.4h0M781.2 508.2h0M804.7 488.3h0M771.6 468.8h0M767.2 569.5h0M761.5 532.3h0M740.3 480.1h0M790.2 515.8h0M787.4 463.4h0M782 597.5h0M803.3 594.3h0M756.6 590.5h0M748.3 518h0M758.1 581.9h0M770 517.1h0M752.7 582h0M798.4 505.3h0M747.1 570h0M757.5 533.4h0M796.8 563.6h0M731.9 542.2h0M751.4 524.4h0M777.3 583.1h0M798.7 533.5h0M738.8 534.1h0M789.5 514.4h0M769.2 548h0M821.1 553.8h0M758.8 555.7h0M811.5 488.3h0M729 541.3h0M807.3 521.5h0M779.2 614.5h0M787.9 568.3h0M734.1 514.9h0M743.9 599.7h0M828 540.6h0M795.3 560.2h0M811.3 503.6h0M774.6 488.7h0M807.6 568.6h0M765.9 520.5h0M782.3 570.9h0M749.8 600.3h0M764.7 504.9h0M723.4 537.4h0M767.7 575.2h0M786.1 464.3h0M791.4 488.5h0M766.7 501.7h0M786.9 520.8h0M722.5 502.6h0M764.4 545.6h0M765.6 576.1h0M803.1 490.9h0M803.8 568.7h0M776.5 529.6h0M754 518.1h0M782.6 490h0M799.6 558.7h0M743 503.5h0M770.6 569.8h0M714 549.5h0M772.8 493.4h0M798.6 481.1h0M751.7 546.3h0M773.5 491.1h0M769.1 523.1h0M772.5 494.9h0M769.7 516.6h0M810.8 514.6h0M762.6 611.8h0M802.8 567.5h0M740.1 532.8h0M824.5 521.6h0M742.7 480.3h0M832.1 554.4h0M806 495.7h0M765.3 569.4h0M791.5 555.8h0M743.7 558.2h0M731.6 520.2h0M755.4 502.5h0M761.6 534.7h0M787.6 515h0M787.7 603.1h0M723.1 559.6h0M798.2 527.6h0M769 542.3h0M798.4 583.6h0M767 548.6h0M734.5 494.3h0M810.1 571.3h0M810.6 502.2h0M805.5 541.9h0M782.8 479.1h0M731.4 514.9h0M819.8 500.8h0M723.9 557.5h0M784.4 489.2h0M831.5 557.1h0M789.1 522.2h0M741.6 509.3h0M761.1 555.3h0M789.4 467.6h0M733.7 469.2h0" stroke="#0000ff" stroke-width="2.5" stroke-linecap="round"/>
<path d="M746.6 575.4h0M770.1 598.6h0M805.9 470.5h0M790.4 542h0M784.7 521.8h0M776 536.3h0M783.4 463.3h0M709.4 503.5h0M793.7 501.8h0M738.8 474.9h0M769.9 520.2h0M787.3 569.9h0M742.4 560.4h0M748.3 542.9h0M790.3 597.1h0M824.1 574.7h0M701.3 515.7h0M779.5 528.9h0M781.2 531.1h0M751.8 582.6h0M752.9 494.6h0M785.9 521.8h0M738.4 489.2h0M791.1 491.8h0M827 518.2h0M783.4 573.5h0M746.6 575.2h0M786.3 518.6h0M814.9 529h0M778.3 535.9h0M772.1 518.2h0M826.1 575.4h0M798.3 457.4h0M820.4 518.2h0M743.4 533.9h0M748.4 548.7h0M729.2 491.4h0M795 562.5h0M787.1 569.1h0M736.8 555.3h0M709.8 515.1h0M771.6 521.7h0M756.1 516.2h0M823.1 522.2h0M754.1 515.2h0M790.3 568.7h0M722.7 502.4h0M795.7 536.1h0M768.7 549.2h0M782.8 528.3h0M700.5 515.3h0M758.3 564.8h0M808.8 599.2h0M764.4 573.7h0M768.2 550.9h0M824.4 516.6h0M745 506.4h0M755.6 528.1h0M772.6 555.6h0M773 597.1h0M793.9 529.2h0M805.1 519.9h0M758.6 477h0M736.3 515.9h0M819.2 541.6h0M749.3 514.8h0M719.4 540.3h0M757.5 505.3h0M813.3 531.2h0M782.8 515.8h0M740.7 560.1h0M741.8 582.8h0M808 575.5h0M796.7 562.4h0M770.9 597h0M788.3 521h0M811.9 567.9h0M814.1 536.7h0M727.6 541.6h0M729.2 541.1h0M743.5 503.6h0M766.1 502.2h0M787.9 574.4h0M702.7 506h0M831.2 505.1h0M766.9 466.9h0M715.3 523.3h0M702.8 553.6h0M725.6 527.6h0M763.7 556.5h0M772.9 555.3h0M745.1 572.2h0M721.2 534.6h0M798.6 560.8h0M744 481.4h0M801.6 555.1h0M796.4 591.2h0M771 497.1h0M824.7 572.1h0M775 586.5h0M781.2 479.5h0M755.4 555.3h0M783.1 542.9h0M704.5 483.3h0M809.5 569.6h0M752.4 572h0M739.1 531.5h0M786.1 467.1h0M764.4 502.9h0M817.4 556h0M772.6 583.4h0M784.9 519.5h0M759.4 507h0M770.7 496.5h0M713.3 550.7h0M765.3 477.2h0M749.2 541.1h0M777.3 562.7h0M772.8 502.8h0M768.4 548.8h0M759.8 536.1h0M767.8 595.5h0M742.3 530.1h0M755.9 478.2h0M798.2 560.6h0M728.5 543.8h0M764.3 530h0M826.3 517h0M763.3 503.7h0M773.3 517.3h0M791.8 490.6h0M784.1 493.2h0M807 546.8h0M809.7 502.7h0M759.6 507.1h0M762.9 555.9h0M777.5 534h0M738 591.7h0M794.6 558.6h0M727.4 529.3h0M828 462.7h0M733.9 544.7h0M755.9 464h0M762.9 571.6h0M766.8 547.3h0M722.2 560.6h0M731.8 549.3h0M791.8 583h0M775.9 529.8h0M753.1 570.9h0M831.9 501.1h0M824.9 523.8h0M747.2 528.1h0M729.4 540.9h0M796.6 532.9h0M763.7 479.9h0M747.6 574.1h0M772.9 569.8h0M785.1 546.2h0M788 519.9h0M749 516h0M742.6 482.5h0M773.7 492.5h0M725.2 529.6h0M761.3 534.8h0M808.3 545.6h0M802 488.8h0M743.8 595.3h0M804.4 492.4h0M772 494.3h0M786.3 522.4h0M823.8 568.7h0M716.1 487.8h0M829 572.7h0M795.6 561h0M747.1 529.2h0M793.3 555.7h0M820.4 541.9h0M751.8 516.4h0M752.7 490.4h0M777.3 584h0M761.5 558.2h0M777.1 564.7h0M753.1 544.3h0M767.4 489.3h0M738 502.9h0M778.9 557.8h0M716.3 520.1h0M784.9 598.8h0M784.7 489.9h0M742.4 482.7h0M742.9 568.9h0M738.3 563.6h0M784.7 516.9h0M780.4 530h0M737.9 556.2h0M783.6 528.7h0M732.9 521.8h0M766.1 574h0M820.8 582.1h0M825.1 516.8h0M752.5 514.8h0M727.3 515.1h0M783.9 490.8h0M783.5 569.1h0M786.7 516.5h0M736.1 514.5h0M769.6 574.5h0M753.4 515.8h0M761.4 532.8h0M715.7 584.2h0M761.7 556.5h0M799.9 554.3h0M819.2 582.5h0M774.8 462.1h0M792 517.1h0M750.3 568.1h0M815.8 555.1h0M795.8 501.2h0M790.9 581.8h0M742.1 509.7h0M732.1 523.1h0M744.7 501.7h0M770.7 571.4h0M725.9 569.9h0M722.2 529h0M784.9 549h0M719.9 527.5h0M788.1 576.8h0M741.2 581.6h0M733.4 545h0M762.2 596.3h0M718.4 557h0M781.2 541.7h0M795.4 502.2h0M811.8 581.4h0M744.4 502.7h0M744.4 555.8h0M792 556.4h0M807.5 517.5h0M805.5 469h0M759.3 536.5h0M806.8 576.5h0M770.5 545h0M770 522.5h0M772.8 466h0M795.8 479.3h0M748.8 575.9h0M785.4 541.7h0M832.1 555.5h0M766.4 489.8h0M750.9 517.1h0M794.9 531.6h0M776.4 565h0M839.5 488.6h0M780.3 505.4h0M722.5 558.1h0M756.8 476.2h0M722.9 537.8h0M766.8 547.7h0M805.8 523.4h0M763.6 478h0M766.7 489.6h0M827.6 517.3h0M796.8 481.6h0M772 569h0M752.7 555.3h0M813.1 585.7h0M821.1 489.3h0M769.5 524.8h0M779.4 528h0M765.3 515.9h0M818.4 514.8h0M792.1 568.2h0M739.8 528.6h0M720.3 559.3h0M741.5 554.5h0M814.9 501.1h0M793.5 465.2h0M824.3 549.3h0M737.8 560.3h0M714.4 566.8h0M803.6 519h0M804.4 547.7h0M758.6 564.3h0M703.4 500.4h0M769.9 568.6h0M797.8 590.8h0M781.2 569h0M750.8 517h0M779.1 508.5h0M749.8 542.2h0M736.8 490.9h0M773.1 503.2h0M769.3 499h0M763.3 454.8h0M742.5 484.2h0M794.1 478.6h0M760.3 587.4h0M753.2 555.3h0M722.8 555.4h0M797.5 482.5h0M768 550h0M731.2 514.5h0M736 519.5h0M793.9 531h0M760.5 560.2h0M740.4 554.1h0M719.8 530.6h0M759.5 537.5h0M751.3 541.8h0M813.7 560.8h0M764.8 505.2h0M810.7 528.6h0M740.3 554.4h0M768.2 516.6h0M788.8 515.3h0M766.5 568.7h0M784.9 494.8h0M790.2 491.6h0M744.4 572.1h0M763.2 504.6h0M761.8 506.8h0M815.3 508.6h0M785.4 465.9h0M806.6 495.2h0M763.5 527.8h0M734.8 542.6h0M726.9 487.7h0M804.8 546.6h0" stroke="#0000ff" stroke-width="3.5" stroke-linecap="round"/>
<path d="M746.3 576.1h0M770.8 599.1h0M805.5 470.1h0M790.7 541.6h0M785.1 522.2h0M776 535.5h0M782.7 463.2h0M783 462.5h0M709.3 504.3h0M793.8 502.6h0M739.1 475h0M737.9 475.4h0M770.1 519.8h0M770.3 519.8h0M787.9 569.6h0M741.6 560h0M748.8 543.2h0M789.7 597.4h0M824.9 575h0M823.3 574.8h0M701.2 516.5h0M779.5 528.3h0M778.6 529.7h0M781.5 530.6h0M781.3 531h0M752.4 581.9h0M752.5 495.4h0M752 495.3h0M786.4 522h0M739.2 489.7h0M791.9 492.2h0M826.6 517.8h0M826.4 517.8h0M783.2 574.4h0M747.1 574.8h0M785.5 518.2h0M814.7 529.1h0M778.2 536.6h0M771.3 517.7h0M825.3 574.8h0M825.9 575.9h0M797.8 456.8h0M820.4 517.9h0M820.2 517.8h0M743 533.4h0M743.8 533.1h0M749.3 548h0M749.3 548.2h0M728.6 492.2h0M729.2 490.7h0M795.8 562.8h0M786.9 569.3h0M786.5 569.6h0M736.3 555.9h0M736.7 555.5h0M709.3 514.9h0M772.3 521.3h0M771.8 521.7h0M755.4 515.4h0M756.2 516.6h0M823.7 522.4h0M823.4 522.3h0M754.7 515.5h0M754.7 514.3h0M789.6 568.8h0M790.1 569.5h0M722 502.7h0M723.4 503h0M795.5 536.5h0M795.2 535.8h0M768.7 548.4h0M768.5 548.4h0M783.3 527.5h0M783.5 528.3h0M700.2 516h0M701.2 515.3h0M758.2 565.4h0M808.9 600.1h0M764.8 574.5h0M764.7 574.5h0M768.4 550h0M768.3 551.1h0M824.9 515.9h0M745.9 505.6h0M755.9 527.8h0M772.2 556.5h0M773.1 555.3h0M773.2 596.9h0M793.9 529.3h0M804.9 519.7h0M805.1 520.3h0M758.8 476.9h0M757.8 477.2h0M735.5 516.3h0M819.1 541.9h0M819 541.8h0M749.8 513.9h0M749.3 514.2h0M719.9 539.6h0M758.2 504.4h0M758.2 505.9h0M813.3 531.9h0M813.7 530.9h0M783 516h0M740.4 560.3h0M741.7 583.5h0M807.4 576.2h0M808.1 575.5h0M796.7 562.9h0M796.2 562.7h0M770.5 597.4h0M771.4 596.4h0M788.4 521.3h0M788.9 520.8h0M811.6 567.2h0M812.6 568.6h0M814 535.8h0M814 536.5h0M728 542h0M729.3 541.2h0M744.2 503.3h0M744 503.4h0M765.7 501.7h0M788.1 573.7h0M788.5 574.5h0M703.4 505.9h0M831.2 504.7h0M830.9 504.5h0M767.5 467.4h0M767.2 466.4h0M715.7 523h0M715.8 522.7h0M703.3 553.5h0M702.7 554.3h0M725.9 528h0M726.1 526.8h0M763.3 556.1h0M773.6 555.5h0M772.2 556.2h0M744.7 571.3h0M746 571.3h0M721.3 534.7h0M720.7 534.8h0M798.1 560.7h0M743.3 481.2h0M744.4 480.5h0M801.6 555.8h0M802.3 554.4h0M796.7 590.4h0M797.2 591h0M771.7 496.6h0M824.4 571.6h0M774.6 587.2h0M774.2 585.7h0M780.5 480h0M780.9 479h0M755.9 555.5h0M755.8 555.3h0M783.9 543.3h0M783.1 542.7h0M705.1 483.3h0M809.8 570.2h0M753 572.4h0M752.1 572.5h0M738.5 531.8h0M739.4 531.2h0M785.9 467h0M785.8 467.2h0M764.4 503.3h0M818.3 556.1h0M772.4 582.7h0M784.8 520.2h0M759.3 507.1h0M771.1 497.2h0M713.6 550.8h0M713.1 550.8h0M765.7 478h0M764.5 476.3h0M748.8 541.4h0M777.8 562.8h0M772.7 502.1h0M768.9 548.8h0M769.1 549.2h0M759.1 536.9h0M760.7 536.3h0M767.8 594.7h0M742.7 529.5h0M756.1 479h0M756.8 477.3h0M797.5 560.4h0M798.6 560.8h0M727.9 544h0M765 530.3h0M764.2 530.4h0M826.8 516.8h0M762.8 503.3h0M763.8 503.6h0M773.4 516.8h0M792.5 490.2h0M791.9 490.4h0M784 493.2h0M807.1 546.6h0M809.9 503.5h0M760.3 507h0M759.9 507.7h0M762.2 555.2h0M763.2 555.4h0M778 534.2h0M737.4 592.5h0M795.4 558.8h0M727.3 529.3h0M727.3 529.8h0M828.8 462.4h0M733.9 543.9h0M756.1 464.3h0M755.5 463.5h0M762.7 572.1h0M766.3 547.3h0M721.8 560h0M722.3 559.7h0M732.1 549h0M791 582.9h0M791.6 582.9h0M776.4 528.9h0M753.4 570.5h0M832.2 500.5h0M824.9 523.7h0M746.6 527.4h0M748 527.7h0M729.1 540.2h0M797 532.6h0M763.2 480.2h0M747.2 574.2h0M773.5 570.4h0M785.6 546.1h0M787.4 520h0M749.9 515.3h0M748.5 516.8h0M743.1 483h0M742.2 481.9h0M774 492h0M724.8 529.2h0M725.5 529.4h0M760.7 534.5h0M761.2 534.9h0M808.8 545.5h0M808.7 545.8h0M802.4 489.1h0M801.1 488.8h0M744.4 596.1h0M744.5 594.6h0M805 492h0M772.8 493.7h0M786.6 522.2h0M786.1 522.4h0M823.6 568.5h0M716.3 488.1h0M716.2 487.3h0M829.3 572.7h0M795.4 561.8h0M795.9 561.7h0M747.4 528.8h0M794.2 555.5h0M820.8 541.4h0M819.6 542h0M752.3 516.9h0M752.7 490h0M776.9 583.9h0M776.8 583.3h0M762.1 558.6h0M777.7 565.4h0M752.4 544.8h0M752.7 543.7h0M766.9 489.5h0M766.8 489.7h0M737.6 503h0M779.1 558h0M716.2 519.5h0M785.7 598.8h0M784.2 490.7h0M783.9 489.2h0M742.9 482.9h0M742 568.5h0M742.1 569.2h0M738.9 563h0M785.1 516.2h0M779.9 529.3h0M780 530.7h0M737.4 555.3h0M737.3 555.6h0M783.5 528.5h0M784.2 528.7h0M732.6 521.3h0M732.8 522.3h0M766 574.5h0M765.8 573.2h0M821.2 582h0M820.4 582.8h0M825.5 517.2h0M825.3 516.5h0M752.1 514.2h0M726.4 514.7h0M727.1 514.8h0M784.6 491.3h0M783.1 569.7h0M782.9 568.6h0M787.3 516.4h0M736.1 514.8h0M735.4 513.6h0M769.9 574.8h0M753.1 515.9h0M752.5 515.7h0M761.3 533.5h0M760.5 532.8h0M716 583.9h0M761.6 556h0M799.4 553.9h0M800.8 554.3h0M819.4 583.3h0M819.5 582.6h0M774.1 462h0M791.1 517h0M792.5 517.9h0M750.1 567.5h0M815.8 555.2h0M795.2 501.6h0M791.5 581h0M742.7 510.5h0M731.4 522.4h0M732.9 523h0M744.4 502.5h0M744.5 502.3h0M771.3 571.6h0M726.7 570h0M725.6 570.7h0M722.8 528.5h0M784.9 548.7h0M719.9 527.9h0M719.3 527.1h0M788.9 576.5h0M741.2 581.6h0M741.8 581.5h0M733.6 544.5h0M762.7 596.3h0M762.4 596.5h0M718.6 556.4h0M718.3 557.5h0M781 542.6h0M795.5 501.9h0M795.8 502.7h0M811.4 581.6h0M743.9 502.1h0M743.8 501.9h0M743.7 556.6h0M745.3 555.2h0M792.9 557h0M791.5 555.7h0M806.8 517.3h0M808.2 517.1h0M805.6 469.7h0M759 535.9h0M759.6 535.9h0M806.7 576.1h0M770.9 545.3h0M771.2 544.4h0M769.5 522.7h0M770.9 522.1h0M772.5 465.8h0M773.2 465.6h0M795.6 479.3h0M748.9 575.4h0M785.1 540.8h0M784.5 542.4h0M832 554.9h0M767 489.8h0M767.1 489.1h0M750.1 516.5h0M794.9 531h0M794.6 531.6h0M775.7 564.1h0M838.7 488h0M780.3 504.9h0M722.8 557.5h0M757.1 476.6h0M757.6 475.6h0M722.1 538.5h0M766.9 547.8h0M765.9 548h0M805.5 524h0M805.9 522.6h0M763.5 477.6h0M763 478.3h0M765.8 489.6h0M765.9 488.8h0M826.8 517.8h0M826.9 518h0M796.1 481.7h0M796.1 482.3h0M771.3 569.7h0M772.3 569.6h0M752.9 555.7h0M753 554.8h0M812.7 586.1h0M820.3 489.4h0M821.2 489.5h0M769.7 525h0M778.7 527.4h0M765.3 515.7h0M818.4 515.2h0M818.3 514h0M791.4 567.8h0M792.9 567.7h0M740.4 528.2h0M720.7 558.8h0M720.5 559.3h0M740.7 555.1h0M741.1 554.3h0M815.5 500.7h0M793.5 465.3h0M793.1 465.8h0M824.8 549.8h0M738.5 559.8h0M714.4 566.9h0M803.6 518.4h0M804.9 548.3h0M804.1 548.3h0M757.9 564.5h0M758.1 565h0M702.7 501h0M770.6 569h0M770.1 569.3h0M797.2 591.6h0M781.7 569.6h0M781.3 568.8h0M751.5 517.4h0M778.3 509h0M779.1 508.7h0M749.1 542.8h0M736.9 491.2h0M737.1 491.2h0M773 503.7h0M769.9 499h0M763.2 454.8h0M743.2 484.1h0M794.2 479.2h0M760.6 587.4h0M760.3 587.5h0M753.5 555.2h0M722.7 554.5h0M723.5 554.8h0M797.8 482.9h0M797.8 482.1h0M768.5 549.6h0M730.6 514h0M736.9 520h0M736.1 520h0M793.4 531.1h0M793.6 531.8h0M760.6 560.2h0M741 554.5h0M719.2 530.9h0M758.6 536.7h0M751.1 542.3h0M752.2 542.1h0M814.5 560.2h0M765.4 505h0M764.3 504.7h0M810.8 529.3h0M740.7 555.1h0M740.3 555.1h0M768.2 516.8h0M788.6 515.5h0M766.8 568.6h0M767.4 568.3h0M784.6 494.4h0M791.1 490.9h0M745.1 571.7h0M764 504.3h0M764.1 504.6h0M761.9 507.5h0M815.2 508.2h0M815.3 508.2h0M786 466.3h0M785.6 465.5h0M805.9 495.8h0M763.2 527.6h0M763.9 527.4h0M734.8 543.4h0M734.4 542.6h0M727.2 487.6h0M805.1 546.7h0M804.6 545.9h0" stroke="#00e600" stroke-width="2" stroke-linecap="round"/>
<path d="M746.1 575.2h0M770.2 598.9h0M806.1 471.1h0M775.9 536.8h0M783.7 463.1h0M770 520.1h0M743 560.1h0M823.8 575h0M779.7 528.9h0M752.6 494.5h0M786.4 521.9h0M738.2 488.9h0M791.5 492.2h0M826.4 518.7h0M746.8 575.5h0M825.9 575.8h0M798.8 457.1h0M820.4 517.7h0M748.2 548.1h0M728.8 491.5h0M786.7 568.6h0M710.2 515.3h0M771.6 522.1h0M756 516.5h0M754.6 515.7h0M790.3 568.4h0M723.1 502.5h0M701 515.4h0M758.7 564.6h0M767.8 551h0M824.5 516.2h0M744.8 506.7h0M772.5 597.2h0M793.5 529.5h0M805.5 519.6h0M818.9 541.4h0M748.9 515.3h0M782.7 515.4h0M797.1 562.6h0M770.5 597.1h0M788.5 521.3h0M812.3 568h0M813.8 536.8h0M728.8 540.8h0M766.7 501.8h0M702.9 506.5h0M767.2 466.6h0M763.7 556.7h0M772.7 555h0M721.1 534.9h0M743.5 481.2h0M801.7 555.5h0M775.3 586.1h0M755.9 555h0M704.5 483.2h0M739.2 531.2h0M817.5 555.7h0M759.4 507.2h0M713 551h0M764.8 476.8h0M768.5 549.1h0M759.5 536.6h0M741.9 530.1h0M755.7 478.3h0M728.1 543.9h0M763 503.4h0M773.4 516.7h0M783.9 493.4h0M759.1 507.2h0M762.8 555.5h0M737.4 591.6h0M734.1 544.3h0M756 464.5h0M762.9 572.1h0M766.4 547.3h0M722.1 560.9h0M791.5 583.1h0M775.7 529.4h0M753.3 571.2h0M831.9 501.6h0M824.8 523.8h0M747.1 527.7h0M729 541h0M788 519.8h0M749.3 516.5h0M743 483h0M725.8 529.8h0M761 535h0M802.3 488.4h0M743.6 594.9h0M804.9 493h0M772.1 494.8h0M823.4 569.1h0M716 488.1h0M829 572.7h0M747.6 528.8h0M793.7 555.3h0M820.7 541.4h0M752 516.7h0M753.1 490h0M776.7 583.7h0M761 558h0M777.1 564.3h0M767.6 488.8h0M785.5 598.6h0M784.5 489.5h0M743 483.2h0M737.7 556.2h0M783.1 528.8h0M766.4 573.7h0M825.1 517.1h0M753 514.7h0M727.1 515h0M736.1 514.7h0M753 515.4h0M715.9 584.3h0M800 554.1h0M796 501.6h0M790.4 582.3h0M742.1 510.1h0M732.5 523.2h0M722.5 528.5h0M719 557.1h0M795.1 502.7h0M744.7 503.1h0M807.9 517.3h0M805.9 469.3h0M807.2 575.9h0M770 544.6h0M772.8 465.7h0M796.3 478.8h0M748.9 575.7h0M832.6 555.1h0M765.8 490.2h0M722.9 557.9h0M723.2 537.3h0M767 547.1h0M806.3 523.7h0M763.8 478.2h0M772 569.5h0M753.2 555.6h0M821.1 488.9h0M778.9 528.6h0M818.9 514.9h0M792 567.7h0M740.2 528.2h0M814.5 500.7h0M737.6 560.4h0M714.3 567.1h0M804.4 547.6h0M758.6 564.5h0M703.9 500.4h0M769.5 568.1h0M797.6 591h0M751.2 517.2h0M750.1 542.4h0M737.3 491.3h0M769.3 499.2h0M763.5 454.3h0M760.5 587.7h0M752.8 555.8h0M798 482.5h0M768.2 549.6h0M735.6 518.9h0M794.2 530.6h0M759.9 537.3h0M813.7 561.1h0M764.8 505.8h0M810.6 528.2h0M740.1 554h0M789 515.7h0M766.8 568.7h0M784.7 495.1h0M790.5 491.3h0M763.4 504.5h0M762.3 507h0M785.4 465.9h0M734.7 542.8h0" stroke="#008c00" stroke-width="1.5" stroke-linecap="round"/>
<path d="M746.3 575.7h0M784.6 521.4h0M783.1 463.4h0M710 503.2h0M794 501.5h0M770.3 520.3h0M790.5 597.1h0M823.9 575.1h0M779.3 528.7h0M752.2 582.7h0M746.7 575.7h0M786.5 518.8h0M777.9 536.1h0M826.4 575.8h0M787.4 569.4h0M772 521.8h0M790.1 569.1h0M722.5 502.3h0M795.3 536.2h0M700 515.6h0M809 599.6h0M768.3 550.7h0M744.4 506.7h0M772.2 555.2h0M757.2 504.7h0M812.8 530.8h0M808.1 575.8h0M770.4 596.4h0M728.1 541.6h0M702.3 506.1h0M831.7 505.1h0M764 556.2h0M773.1 555.8h0M745.1 572.6h0M801.1 554.7h0M795.9 591.7h0M825 572.5h0M755.5 554.9h0M782.8 542.7h0M704.1 483h0M785.7 467h0M764.7 503.1h0M817.6 555.6h0M772.9 583.6h0M784.5 519.5h0M770.3 496.5h0M748.7 540.6h0M777.5 563h0M772.5 502.8h0M826 517.6h0M791.2 490.3h0M806.5 546.7h0M809.6 502.6h0M777.4 534.4h0M738 591.9h0M794.2 559h0M727.9 528.8h0M792.1 583h0M753.7 570.7h0M831.4 500.9h0M746.8 527.7h0M764 479.7h0M772.9 570h0M784.6 546.1h0M743.2 482.8h0M786.6 522.3h0M824.1 568.2h0M716.3 487.6h0M820 542.2h0M751.6 517h0M752.5 490.6h0M776.9 584.6h0M716.7 520.3h0M785.2 598.6h0M766.1 573.5h0M820.3 582.2h0M784.4 490.3h0M782.9 569.4h0M715.4 583.7h0M800.2 554.4h0M792.4 517.5h0M795.7 501.5h0M791.1 581.4h0M745 501.3h0M770.9 571.1h0M720.5 527.9h0M741.1 581.5h0M733.2 545.4h0M795.1 501.8h0M812.2 581.4h0M791.7 555.9h0M805.7 468.8h0M806.8 575.9h0M770.4 522.4h0M786 541.4h0M831.6 555.6h0M794.8 531.4h0M776.9 564.4h0M722.6 557.9h0M806.3 523.9h0M766.9 489.3h0M827 516.9h0M771.7 569.3h0M752.3 555.7h0M821.6 489.3h0M769 524.9h0M818 514.2h0M792.5 568.6h0M720.1 558.9h0M793.2 465.7h0M824.5 548.9h0M797.7 590.5h0M781.4 568.7h0M737.2 491.1h0M768.9 499.6h0M763.1 454.6h0M760.2 587.2h0M767.4 550.6h0M794.3 531h0M719.6 531.2h0M759.9 536.9h0M764.6 505.5h0M790.7 491.1h0M744.4 572.2h0M762.1 506.5h0M815.7 508.5h0M785.1 466h0M763.3 527.3h0" stroke="#e00000" stroke-width="1.5" stroke-linecap="round"/>
<path d="M94.6 345.7V42.9H400.1V345.7" fill="none" stroke="#858585" stroke-width="1.6" stroke-linejoin="miter"/>
<path d="M93.8 345.7H400.9" fill="none" stroke="#9c9c9c" stroke-width="1.6"/>
<path d="M614 345V42.4H920.9V345" fill="none" stroke="#858585" stroke-width="1.6" stroke-linejoin="miter"/>
<path d="M613.2 345H921.7" fill="none" stroke="#9c9c9c" stroke-width="1.6"/>
<path d="M95 720.5V426.3H399.2V720.5" fill="none" stroke="#858585" stroke-width="1.6" stroke-linejoin="miter"/>
<path d="M94.2 720.5H400" fill="none" stroke="#9c9c9c" stroke-width="1.6"/>
<path d="M618 718.8V422.6H920.9V718.8" fill="none" stroke="#858585" stroke-width="1.6" stroke-linejoin="miter"/>
<path d="M617.2 718.8H921.7" fill="none" stroke="#d2d2d2" stroke-width="1.6"/>
<rect x="408.3" y="43.1" width="28.1" height="25.4" fill="#bdb700"/>
<rect x="408.3" y="68.2" width="28.1" height="25.4" fill="#00b6b6"/>
<rect x="408.3" y="93.4" width="28.1" height="25.4" fill="#b60000"/>
<rect x="408.3" y="118.5" width="28.1" height="25.4" fill="#00b000"/>
<rect x="408.3" y="143.7" width="28.1" height="25.4" fill="#0000b0"/>
<rect x="408.3" y="168.8" width="28.1" height="25.4" fill="#ff00ff"/>
<rect x="408.3" y="194" width="28.1" height="25.4" fill="#ffff00"/>
<rect x="408.3" y="219.1" width="28.1" height="25.4" fill="#00ffff"/>
<rect x="408.3" y="244.3" width="28.1" height="25.4" fill="#ff0000"/>
<rect x="408.3" y="269.4" width="28.1" height="25.4" fill="#00ff00"/>
<rect x="408.3" y="294.6" width="28.1" height="25.4" fill="#0000ff"/>
<rect x="408.3" y="319.7" width="28.1" height="25.4" fill="#ffffff"/>
<rect x="408.3" y="319.7" width="28.1" height="25.1" fill="none" stroke="#7c7c7c" stroke-width="1.3"/>
<path d="M408.3 43.1H436.4M408.3 68.2H436.4M408.3 93.4H436.4M408.3 118.5H436.4M408.3 143.7H436.4M408.3 168.8H436.4M408.3 194H436.4M408.3 219.1H436.4M408.3 244.3H436.4M408.3 269.4H436.4M408.3 294.6H436.4M408.3 319.7H436.4M408.3 43.1V319.7M436.4 43.1V319.7" stroke="#2a2a2a" stroke-width="0.9" fill="none"/>
<rect x="931.3" y="47.8" width="28.5" height="25.6" fill="#bdb700"/>
<rect x="931.3" y="73.1" width="28.5" height="25.6" fill="#00b6b6"/>
<rect x="931.3" y="98.3" width="28.5" height="25.6" fill="#b60000"/>
<rect x="931.3" y="123.6" width="28.5" height="25.6" fill="#00b000"/>
<rect x="931.3" y="148.9" width="28.5" height="25.6" fill="#0000b0"/>
<rect x="931.3" y="174.2" width="28.5" height="25.6" fill="#ff00ff"/>
<rect x="931.3" y="199.4" width="28.5" height="25.6" fill="#ffff00"/>
<rect x="931.3" y="224.7" width="28.5" height="25.6" fill="#00ffff"/>
<rect x="931.3" y="250" width="28.5" height="25.6" fill="#ff0000"/>
<rect x="931.3" y="275.3" width="28.5" height="25.6" fill="#00ff00"/>
<rect x="931.3" y="300.6" width="28.5" height="25.6" fill="#0000ff"/>
<rect x="931.3" y="325.8" width="28.5" height="25.6" fill="#ffffff"/>
<rect x="931.3" y="325.8" width="28.5" height="25.3" fill="none" stroke="#7c7c7c" stroke-width="1.3"/>
<path d="M931.3 47.8H959.8M931.3 73.1H959.8M931.3 98.3H959.8M931.3 123.6H959.8M931.3 148.9H959.8M931.3 174.2H959.8M931.3 199.4H959.8M931.3 224.7H959.8M931.3 250H959.8M931.3 275.3H959.8M931.3 300.6H959.8M931.3 325.8H959.8M931.3 47.8V325.8M959.8 47.8V325.8" stroke="#2a2a2a" stroke-width="0.9" fill="none"/>
<rect x="410.3" y="429.2" width="28.3" height="24.9" fill="#bdb700"/>
<rect x="410.3" y="453.8" width="28.3" height="24.9" fill="#00b6b6"/>
<rect x="410.3" y="478.4" width="28.3" height="24.9" fill="#b60000"/>
<rect x="410.3" y="503.1" width="28.3" height="24.9" fill="#00b000"/>
<rect x="410.3" y="527.7" width="28.3" height="24.9" fill="#0000b0"/>
<rect x="410.3" y="552.3" width="28.3" height="24.9" fill="#ff00ff"/>
<rect x="410.3" y="577" width="28.3" height="24.9" fill="#ffff00"/>
<rect x="410.3" y="601.6" width="28.3" height="24.9" fill="#00ffff"/>
<rect x="410.3" y="626.2" width="28.3" height="24.9" fill="#ff0000"/>
<rect x="410.3" y="650.8" width="28.3" height="24.9" fill="#00ff00"/>
<rect x="410.3" y="675.5" width="28.3" height="24.9" fill="#0000ff"/>
<rect x="410.3" y="700.1" width="28.3" height="24.9" fill="#ffffff"/>
<rect x="410.3" y="700.1" width="28.3" height="24.6" fill="none" stroke="#7c7c7c" stroke-width="1.3"/>
<path d="M410.3 429.2H438.6M410.3 453.8H438.6M410.3 478.4H438.6M410.3 503.1H438.6M410.3 527.7H438.6M410.3 552.3H438.6M410.3 577H438.6M410.3 601.6H438.6M410.3 626.2H438.6M410.3 650.8H438.6M410.3 675.5H438.6M410.3 700.1H438.6M410.3 429.2V700.1M438.6 429.2V700.1" stroke="#2a2a2a" stroke-width="0.9" fill="none"/>
<rect x="928.3" y="427.2" width="27.7" height="25" fill="#bdb700"/>
<rect x="928.3" y="451.9" width="27.7" height="25" fill="#00b6b6"/>
<rect x="928.3" y="476.5" width="27.7" height="25" fill="#b60000"/>
<rect x="928.3" y="501.2" width="27.7" height="25" fill="#00b000"/>
<rect x="928.3" y="525.9" width="27.7" height="25" fill="#0000b0"/>
<rect x="928.3" y="550.6" width="27.7" height="25" fill="#ff00ff"/>
<rect x="928.3" y="575.2" width="27.7" height="25" fill="#ffff00"/>
<rect x="928.3" y="599.9" width="27.7" height="25" fill="#00ffff"/>
<rect x="928.3" y="624.6" width="27.7" height="25" fill="#ff0000"/>
<rect x="928.3" y="649.3" width="27.7" height="25" fill="#00ff00"/>
<rect x="928.3" y="673.9" width="27.7" height="25" fill="#0000ff"/>
<rect x="928.3" y="698.6" width="27.7" height="25" fill="#ffffff"/>
<rect x="928.3" y="698.6" width="27.7" height="24.7" fill="none" stroke="#7c7c7c" stroke-width="1.3"/>
<path d="M928.3 427.2H956M928.3 451.9H956M928.3 476.5H956M928.3 501.2H956M928.3 525.9H956M928.3 550.6H956M928.3 575.2H956M928.3 599.9H956M928.3 624.6H956M928.3 649.3H956M928.3 673.9H956M928.3 698.6H956M928.3 427.2V698.6M956 427.2V698.6" stroke="#2a2a2a" stroke-width="0.9" fill="none"/>
<text x="49.13" y="92.18" font-size="26.2" textLength="36.65" lengthAdjust="spacingAndGlyphs">0.6</text>
<text x="49.12" y="149.18" font-size="26.2" textLength="36.97" lengthAdjust="spacingAndGlyphs">0.3</text>
<text x="71.32" y="203.18" font-size="26.2" textLength="14.76" lengthAdjust="spacingAndGlyphs">0</text>
<path d="M30.5 257.7H47" stroke="#000" stroke-width="1.3" fill="none"/><text x="49.44" y="264.38" font-size="26.2" textLength="36.11" lengthAdjust="spacingAndGlyphs">0.3</text>
<path d="M30.5 311.6H47" stroke="#000" stroke-width="1.3" fill="none"/><text x="49.44" y="318.28" font-size="26.2" textLength="36.23" lengthAdjust="spacingAndGlyphs">0.6</text>
<path d="M60.6 363.3H77.1" stroke="#000" stroke-width="1.3" fill="none"/><text x="79.51" y="369.98" font-size="26.2" textLength="37.29" lengthAdjust="spacingAndGlyphs">0.8</text>
<path d="M139.7 363.3H156.2" stroke="#000" stroke-width="1.3" fill="none"/><text x="158.64" y="369.98" font-size="26.2" textLength="36.24" lengthAdjust="spacingAndGlyphs">0.4</text>
<text x="240.95" y="370.18" font-size="26.2" textLength="14.4" lengthAdjust="spacingAndGlyphs">0</text>
<text x="303.22" y="369.98" font-size="26.2" textLength="36.87" lengthAdjust="spacingAndGlyphs">0.4</text>
<text x="376.23" y="370.18" font-size="26.2" textLength="36.43" lengthAdjust="spacingAndGlyphs">0.8</text>
<text x="445.64" y="60.24" font-size="26.2" textLength="50.71" lengthAdjust="spacingAndGlyphs">25.2</text>
<text x="445.23" y="104.28" font-size="26.2" textLength="51.35" lengthAdjust="spacingAndGlyphs">21.0</text>
<text x="445.08" y="151.78" font-size="26.2" textLength="50.99" lengthAdjust="spacingAndGlyphs">16.8</text>
<text x="445.12" y="199.58" font-size="26.2" textLength="50.14" lengthAdjust="spacingAndGlyphs">12.6</text>
<text x="445.55" y="248.88" font-size="26.2" textLength="36.03" lengthAdjust="spacingAndGlyphs">8.4</text>
<text x="445.42" y="300.04" font-size="26.2" textLength="36.55" lengthAdjust="spacingAndGlyphs">4.2</text>
<text x="444.76" y="348.48" font-size="26.2" textLength="15.48" lengthAdjust="spacingAndGlyphs">0</text>
<text x="109.69" y="73.64" font-size="26.2" textLength="33.62" lengthAdjust="spacingAndGlyphs">(a)</text>
<text x="203.8" y="399.7" font-size="26.2" textLength="13.12" lengthAdjust="spacingAndGlyphs" font-style="italic">x</text>
<text x="229.71" y="399.39" font-size="26.2" textLength="66.13" lengthAdjust="spacingAndGlyphs">(mm)</text>
<text transform="translate(22.8 245.5) rotate(-90)" x="0.31" y="0" font-size="26.2" textLength="12.18" lengthAdjust="spacingAndGlyphs" font-style="italic">z</text>
<text transform="translate(22.8 220.5) rotate(-90)" x="-1.19" y="0" font-size="26.2" textLength="65.82" lengthAdjust="spacingAndGlyphs">(mm)</text>
<text x="376.1" y="29.28" font-size="26.2" textLength="51.35" lengthAdjust="spacingAndGlyphs">mW</text>
<path d="M430.6 35.6L440.2 11.2" stroke="#000" stroke-width="1.35" fill="none"/>
<text x="443.13" y="29.9" font-size="26.2" textLength="22.18" lengthAdjust="spacingAndGlyphs">m</text>
<text x="466.15" y="22.03" font-size="17.4" textLength="9.39" lengthAdjust="spacingAndGlyphs">2</text>
<text x="569.44" y="90.88" font-size="26.2" textLength="36.12" lengthAdjust="spacingAndGlyphs">0.6</text>
<text x="569.43" y="148.38" font-size="26.2" textLength="36.43" lengthAdjust="spacingAndGlyphs">0.3</text>
<text x="592.1" y="201.88" font-size="26.2" textLength="13.69" lengthAdjust="spacingAndGlyphs">0</text>
<path d="M550.5 256.3H567" stroke="#000" stroke-width="1.3" fill="none"/><text x="569.43" y="262.98" font-size="26.2" textLength="36.43" lengthAdjust="spacingAndGlyphs">0.3</text>
<path d="M550.5 311.6H567" stroke="#000" stroke-width="1.3" fill="none"/><text x="569.44" y="318.28" font-size="26.2" textLength="36.12" lengthAdjust="spacingAndGlyphs">0.6</text>
<path d="M581.2 362.2H597.7" stroke="#000" stroke-width="1.3" fill="none"/><text x="600.1" y="368.88" font-size="26.2" textLength="37.39" lengthAdjust="spacingAndGlyphs">0.8</text>
<path d="M659.7 362.2H676.2" stroke="#000" stroke-width="1.3" fill="none"/><text x="678.62" y="368.88" font-size="26.2" textLength="36.76" lengthAdjust="spacingAndGlyphs">0.4</text>
<text x="761.12" y="368.68" font-size="26.2" textLength="14.76" lengthAdjust="spacingAndGlyphs">0</text>
<text x="823.74" y="368.88" font-size="26.2" textLength="36.34" lengthAdjust="spacingAndGlyphs">0.4</text>
<text x="896.62" y="368.88" font-size="26.2" textLength="36.97" lengthAdjust="spacingAndGlyphs">0.8</text>
<text x="963.04" y="60.84" font-size="26.2" textLength="29.04" lengthAdjust="spacingAndGlyphs">24</text>
<text x="963.01" y="102.98" font-size="26.2" textLength="29.67" lengthAdjust="spacingAndGlyphs">20</text>
<text x="962.07" y="154.68" font-size="26.2" textLength="30.34" lengthAdjust="spacingAndGlyphs">16</text>
<text x="962.17" y="205.04" font-size="26.2" textLength="29.19" lengthAdjust="spacingAndGlyphs">12</text>
<text x="963.04" y="255.38" font-size="26.2" textLength="14.52" lengthAdjust="spacingAndGlyphs">8</text>
<text x="963.13" y="309.84" font-size="26.2" textLength="14.24" lengthAdjust="spacingAndGlyphs">4</text>
<text x="963.04" y="354.28" font-size="26.2" textLength="14.52" lengthAdjust="spacingAndGlyphs">0</text>
<text x="630.3" y="72.69" font-size="26.2" textLength="33.41" lengthAdjust="spacingAndGlyphs">(a)</text>
<text x="723.8" y="397.4" font-size="26.2" textLength="13.12" lengthAdjust="spacingAndGlyphs" font-style="italic">x</text>
<text x="749.7" y="397.09" font-size="26.2" textLength="66.55" lengthAdjust="spacingAndGlyphs">(mm)</text>
<text transform="translate(544.1 243.7) rotate(-90)" x="0.31" y="0" font-size="26.2" textLength="12.18" lengthAdjust="spacingAndGlyphs" font-style="italic">z</text>
<text transform="translate(544.1 219.1) rotate(-90)" x="-1.18" y="0" font-size="26.2" textLength="65.41" lengthAdjust="spacingAndGlyphs">(mm)</text>
<text x="896.6" y="28.18" font-size="26.2" textLength="51.35" lengthAdjust="spacingAndGlyphs">mW</text>
<path d="M951.1 34.5L960.7 10.1" stroke="#000" stroke-width="1.35" fill="none"/>
<text x="963.63" y="28.8" font-size="26.2" textLength="22.18" lengthAdjust="spacingAndGlyphs">m</text>
<text x="986.65" y="20.93" font-size="17.4" textLength="9.39" lengthAdjust="spacingAndGlyphs">2</text>
<text x="48.74" y="469.98" font-size="26.2" textLength="36.12" lengthAdjust="spacingAndGlyphs">0.6</text>
<text x="48.73" y="527.48" font-size="26.2" textLength="36.43" lengthAdjust="spacingAndGlyphs">0.3</text>
<text x="71.62" y="581.38" font-size="26.2" textLength="13.45" lengthAdjust="spacingAndGlyphs">0</text>
<path d="M29.4 635.7H45.9" stroke="#000" stroke-width="1.3" fill="none"/><text x="48.32" y="642.38" font-size="26.2" textLength="36.86" lengthAdjust="spacingAndGlyphs">0.3</text>
<path d="M29.4 690.8H45.9" stroke="#000" stroke-width="1.3" fill="none"/><text x="48.33" y="697.48" font-size="26.2" textLength="36.55" lengthAdjust="spacingAndGlyphs">0.6</text>
<path d="M60.1 737.5H76.6" stroke="#000" stroke-width="1.3" fill="none"/><text x="79" y="744.18" font-size="26.2" textLength="37.39" lengthAdjust="spacingAndGlyphs">0.8</text>
<path d="M139.2 737.5H155.7" stroke="#000" stroke-width="1.3" fill="none"/><text x="158.12" y="744.18" font-size="26.2" textLength="36.76" lengthAdjust="spacingAndGlyphs">0.4</text>
<text x="240.12" y="744.68" font-size="26.2" textLength="14.76" lengthAdjust="spacingAndGlyphs">0</text>
<text x="302.43" y="744.48" font-size="26.2" textLength="36.45" lengthAdjust="spacingAndGlyphs">0.4</text>
<text x="375.42" y="744.48" font-size="26.2" textLength="36.97" lengthAdjust="spacingAndGlyphs">0.8</text>
<text x="444.96" y="441.84" font-size="26.2" textLength="28.4" lengthAdjust="spacingAndGlyphs">24</text>
<text x="444.94" y="485.08" font-size="26.2" textLength="29.02" lengthAdjust="spacingAndGlyphs">20</text>
<text x="444.03" y="536.38" font-size="26.2" textLength="29.66" lengthAdjust="spacingAndGlyphs">16</text>
<text x="443.51" y="586.04" font-size="26.2" textLength="29.88" lengthAdjust="spacingAndGlyphs">12</text>
<text x="445.04" y="636.58" font-size="26.2" textLength="14.52" lengthAdjust="spacingAndGlyphs">8</text>
<text x="445.67" y="690.74" font-size="26.2" textLength="13.26" lengthAdjust="spacingAndGlyphs">4</text>
<text x="445.04" y="737.28" font-size="26.2" textLength="14.52" lengthAdjust="spacingAndGlyphs">0</text>
<text x="109.3" y="452.14" font-size="26.2" textLength="33.19" lengthAdjust="spacingAndGlyphs">(a)</text>
<text x="203.8" y="772.4" font-size="26.2" textLength="13.12" lengthAdjust="spacingAndGlyphs" font-style="italic">x</text>
<text x="229.72" y="772.09" font-size="26.2" textLength="65.72" lengthAdjust="spacingAndGlyphs">(mm)</text>
<text transform="translate(22.7 623.2) rotate(-90)" x="0.31" y="0" font-size="26.2" textLength="12.18" lengthAdjust="spacingAndGlyphs" font-style="italic">z</text>
<text transform="translate(22.7 598.6) rotate(-90)" x="-1.19" y="0" font-size="26.2" textLength="65.82" lengthAdjust="spacingAndGlyphs">(mm)</text>
<text x="375.5" y="407.08" font-size="26.2" textLength="51.35" lengthAdjust="spacingAndGlyphs">mW</text>
<path d="M430 413.4L439.6 389" stroke="#000" stroke-width="1.35" fill="none"/>
<text x="442.53" y="407.7" font-size="26.2" textLength="22.18" lengthAdjust="spacingAndGlyphs">m</text>
<text x="465.55" y="399.83" font-size="17.4" textLength="9.39" lengthAdjust="spacingAndGlyphs">2</text>
<text x="571.7" y="467.68" font-size="26.2" textLength="37.39" lengthAdjust="spacingAndGlyphs">0.6</text>
<text x="571.69" y="525.18" font-size="26.2" textLength="37.71" lengthAdjust="spacingAndGlyphs">0.3</text>
<text x="594.73" y="578.98" font-size="26.2" textLength="14.64" lengthAdjust="spacingAndGlyphs">0</text>
<path d="M553.1 633.4H569.6" stroke="#000" stroke-width="1.3" fill="none"/><text x="572" y="640.08" font-size="26.2" textLength="37.39" lengthAdjust="spacingAndGlyphs">0.3</text>
<path d="M553.1 688.6H569.6" stroke="#000" stroke-width="1.3" fill="none"/><text x="572.01" y="695.28" font-size="26.2" textLength="37.08" lengthAdjust="spacingAndGlyphs">0.6</text>
<path d="M584 734.8H600.5" stroke="#000" stroke-width="1.3" fill="none"/><text x="602.93" y="741.48" font-size="26.2" textLength="36.54" lengthAdjust="spacingAndGlyphs">0.8</text>
<path d="M662.4 734.8H678.9" stroke="#000" stroke-width="1.3" fill="none"/><text x="681.32" y="741.48" font-size="26.2" textLength="36.76" lengthAdjust="spacingAndGlyphs">0.4</text>
<text x="763.62" y="741.68" font-size="26.2" textLength="14.76" lengthAdjust="spacingAndGlyphs">0</text>
<text x="826.13" y="741.48" font-size="26.2" textLength="36.45" lengthAdjust="spacingAndGlyphs">0.4</text>
<text x="898.62" y="741.48" font-size="26.2" textLength="36.97" lengthAdjust="spacingAndGlyphs">0.8</text>
<text x="960.06" y="439.24" font-size="26.2" textLength="50.31" lengthAdjust="spacingAndGlyphs">32.4</text>
<text x="960.85" y="482.98" font-size="26.2" textLength="50.51" lengthAdjust="spacingAndGlyphs">27.0</text>
<text x="960.86" y="531.78" font-size="26.2" textLength="49.79" lengthAdjust="spacingAndGlyphs">21.6</text>
<text x="959.34" y="579.78" font-size="26.2" textLength="51.74" lengthAdjust="spacingAndGlyphs">16.2</text>
<text x="959.36" y="629.88" font-size="26.2" textLength="51.42" lengthAdjust="spacingAndGlyphs">10.8</text>
<text x="959.83" y="679.14" font-size="26.2" textLength="36.97" lengthAdjust="spacingAndGlyphs">5.4</text>
<text x="960.46" y="727.58" font-size="26.2" textLength="14.29" lengthAdjust="spacingAndGlyphs">0</text>
<text x="632.78" y="449.44" font-size="26.2" textLength="33.73" lengthAdjust="spacingAndGlyphs">(a)</text>
<text x="726.3" y="769.9" font-size="26.2" textLength="13.12" lengthAdjust="spacingAndGlyphs" font-style="italic">x</text>
<text x="752.19" y="769.59" font-size="26.2" textLength="67.27" lengthAdjust="spacingAndGlyphs">(mm)</text>
<text transform="translate(546.7 620.5) rotate(-90)" x="0.31" y="0" font-size="26.2" textLength="12.18" lengthAdjust="spacingAndGlyphs" font-style="italic">z</text>
<text transform="translate(546.7 596.9) rotate(-90)" x="-1.2" y="0" font-size="26.2" textLength="66.86" lengthAdjust="spacingAndGlyphs">(mm)</text>
<text x="899.2" y="405.28" font-size="26.2" textLength="51.35" lengthAdjust="spacingAndGlyphs">mW</text>
<path d="M953.7 411.6L963.3 387.2" stroke="#000" stroke-width="1.35" fill="none"/>
<text x="966.23" y="405.9" font-size="26.2" textLength="22.18" lengthAdjust="spacingAndGlyphs">m</text>
<text x="989.25" y="398.03" font-size="17.4" textLength="9.39" lengthAdjust="spacingAndGlyphs">2</text>
</svg></body></html>
